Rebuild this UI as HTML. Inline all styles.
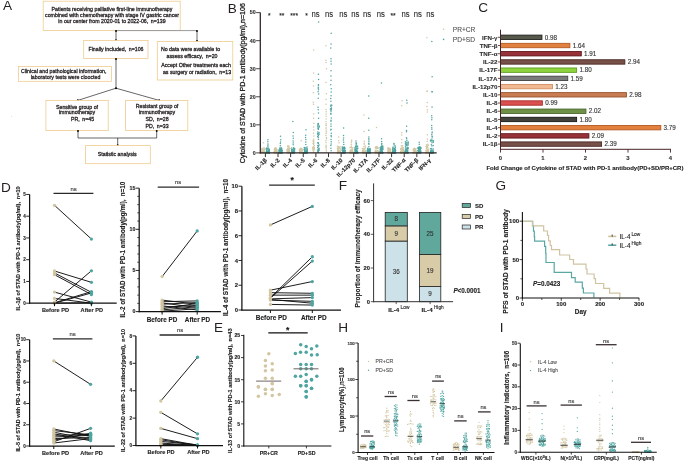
<!DOCTYPE html>
<html><head><meta charset="utf-8"><style>
html,body{margin:0;padding:0;background:#fff;width:685px;height:463px;overflow:hidden}
svg{display:block;font-family:"Liberation Sans",sans-serif;will-change:transform}
</style></head><body>
<svg width="685" height="463" viewBox="0 0 685 463">
<rect width="685" height="463" fill="#fff"/>
<circle cx="11.4" cy="116.3" r="0.4" fill="#aaa"/>
<text x="2.97" y="10.3" font-size="13.6" fill="#231f20">A</text>
<rect x="43.2" y="1.2" width="137" height="29.3" fill="#fff" stroke="#eecb8f" stroke-width="0.8" />
<text x="112" y="10.86" font-size="5.25" text-anchor="middle" font-weight="normal" fill="#231f20"  stroke="#231f20" stroke-width="0.28">Patients receiving palliative first-line immunotherapy</text>
<text x="112" y="17.06" font-size="5.25" text-anchor="middle" font-weight="normal" fill="#231f20"  stroke="#231f20" stroke-width="0.28">combined with chemotherapy with stage IV gastric cancer</text>
<text x="112" y="23.26" font-size="5.25" text-anchor="middle" font-weight="normal" fill="#231f20"  stroke="#231f20" stroke-width="0.28">in our center from 2020-01 to 2022-06, n=139</text>
<line x1="116" y1="30.6" x2="197" y2="30.6" stroke="#9a9a9a" stroke-width="1" />
<line x1="116" y1="30.5" x2="116" y2="40.5" stroke="#000" stroke-width="0.6" />
<line x1="197" y1="30.6" x2="197" y2="41.4" stroke="#000" stroke-width="0.6" />
<circle cx="116" cy="31" r="0.95" fill="#000"/>
<circle cx="116" cy="40.3" r="0.95" fill="#000"/>
<circle cx="197" cy="31" r="0.95" fill="#000"/>
<circle cx="197" cy="41" r="0.95" fill="#000"/>
<rect x="83.7" y="40.5" width="64.3" height="18" fill="#fff" stroke="#eecb8f" stroke-width="0.8" />
<text x="116" y="51.36" font-size="5.25" text-anchor="middle" font-weight="normal" fill="#231f20"  stroke="#231f20" stroke-width="0.28">Finally included, n=106</text>
<rect x="157.3" y="41.4" width="75.5" height="38.6" fill="#fff" stroke="#eecb8f" stroke-width="0.8" />
<text x="190.5" y="50.86" font-size="5.25" text-anchor="middle" font-weight="normal" fill="#231f20"  stroke="#231f20" stroke-width="0.28">No data were available to</text>
<text x="192" y="57.86" font-size="5.25" text-anchor="middle" font-weight="normal" fill="#231f20"  stroke="#231f20" stroke-width="0.28">assess efficacy, n=20</text>
<text x="196" y="67.36" font-size="5.25" text-anchor="middle" font-weight="normal" fill="#231f20"  stroke="#231f20" stroke-width="0.28">Accept Other treatments each</text>
<text x="197" y="74.16" font-size="5.25" text-anchor="middle" font-weight="normal" fill="#231f20"  stroke="#231f20" stroke-width="0.28">as surgery or radiation, n=13</text>
<rect x="18.5" y="66.5" width="93" height="14.8" fill="#fff" stroke="#eecb8f" stroke-width="0.8" />
<text x="65" y="72.96" font-size="5.25" text-anchor="middle" font-weight="normal" fill="#231f20"  stroke="#231f20" stroke-width="0.28">Clinical and pathological information, </text>
<text x="65.5" y="79.26" font-size="5.25" text-anchor="middle" font-weight="normal" fill="#231f20"  stroke="#231f20" stroke-width="0.28">laboratory tests were cloocted</text>
<line x1="116" y1="58.5" x2="116" y2="88.2" stroke="#000" stroke-width="0.6" />
<circle cx="116" cy="59" r="0.95" fill="#000"/>
<line x1="116" y1="88.2" x2="77.8" y2="100.4" stroke="#000" stroke-width="0.6" />
<line x1="116" y1="88.2" x2="159.2" y2="100.4" stroke="#000" stroke-width="0.6" />
<circle cx="116" cy="88.2" r="1" fill="#000"/>
<circle cx="77.8" cy="100.2" r="0.95" fill="#000"/>
<circle cx="159.2" cy="100.2" r="0.95" fill="#000"/>
<rect x="45.9" y="100.4" width="62.3" height="30.2" fill="#fff" stroke="#eecb8f" stroke-width="0.8" />
<text x="77" y="108.56" font-size="5.25" text-anchor="middle" font-weight="normal" fill="#231f20"  stroke="#231f20" stroke-width="0.28">Sensitive group of</text>
<text x="77" y="114.36" font-size="5.25" text-anchor="middle" font-weight="normal" fill="#231f20"  stroke="#231f20" stroke-width="0.28">immunotherapy</text>
<text x="82.5" y="121.16" font-size="5.25" text-anchor="middle" font-weight="normal" fill="#231f20"  stroke="#231f20" stroke-width="0.28">PR, n=45</text>
<rect x="125.6" y="100.4" width="62.2" height="30.2" fill="#fff" stroke="#eecb8f" stroke-width="0.8" />
<text x="157" y="108.16" font-size="5.25" text-anchor="middle" font-weight="normal" fill="#231f20"  stroke="#231f20" stroke-width="0.28">Resistant group of</text>
<text x="157" y="114.16" font-size="5.25" text-anchor="middle" font-weight="normal" fill="#231f20"  stroke="#231f20" stroke-width="0.28">immunotherapy</text>
<text x="157" y="121.16" font-size="5.25" text-anchor="middle" font-weight="normal" fill="#231f20"  stroke="#231f20" stroke-width="0.28">SD, n=28</text>
<text x="157" y="128.16" font-size="5.25" text-anchor="middle" font-weight="normal" fill="#231f20"  stroke="#231f20" stroke-width="0.28">PD, n=33</text>
<polyline points="78,130.6 78,138 156.7,138 156.7,130.6" fill="none" stroke="#000" stroke-width="0.6"/>
<line x1="117.7" y1="138" x2="117.7" y2="145.6" stroke="#000" stroke-width="0.6" />
<circle cx="78" cy="131" r="0.95" fill="#000"/>
<circle cx="156.7" cy="131" r="0.95" fill="#000"/>
<circle cx="117.7" cy="145.3" r="0.95" fill="#000"/>
<rect x="85.6" y="145.6" width="64.7" height="18.1" fill="#fff" stroke="#eecb8f" stroke-width="0.8" />
<text x="117.2" y="156.46" font-size="5.25" text-anchor="middle" font-weight="normal" fill="#231f20"  stroke="#231f20" stroke-width="0.28">Statistic analysis</text>
<text x="227.7" y="12.5" font-size="13.6" fill="#231f20">B</text>
<circle cx="263.1" cy="152.9" r="0.75" fill="#d2c6a2"/>
<circle cx="264.4" cy="152.9" r="0.75" fill="#d2c6a2"/>
<circle cx="261.8" cy="152.9" r="0.75" fill="#d2c6a2"/>
<circle cx="263.55" cy="152.9" r="0.75" fill="#d2c6a2"/>
<circle cx="263.87" cy="152.9" r="0.75" fill="#d2c6a2"/>
<circle cx="261.79" cy="152.86" r="0.75" fill="#d2c6a2"/>
<circle cx="263.23" cy="152.86" r="0.75" fill="#d2c6a2"/>
<circle cx="263.12" cy="152.83" r="0.75" fill="#d2c6a2"/>
<circle cx="264.29" cy="152.82" r="0.75" fill="#d2c6a2"/>
<circle cx="262.66" cy="152.81" r="0.75" fill="#d2c6a2"/>
<circle cx="263.41" cy="152.8" r="0.75" fill="#d2c6a2"/>
<circle cx="261.69" cy="152.77" r="0.75" fill="#d2c6a2"/>
<circle cx="262.74" cy="152.76" r="0.75" fill="#d2c6a2"/>
<circle cx="262.53" cy="152.74" r="0.75" fill="#d2c6a2"/>
<circle cx="261.98" cy="152.72" r="0.75" fill="#d2c6a2"/>
<circle cx="264.11" cy="152.68" r="0.75" fill="#d2c6a2"/>
<circle cx="262.71" cy="152.67" r="0.75" fill="#d2c6a2"/>
<circle cx="264.63" cy="152.52" r="0.75" fill="#d2c6a2"/>
<circle cx="263.39" cy="152.28" r="0.75" fill="#d2c6a2"/>
<circle cx="263.44" cy="152.21" r="0.75" fill="#d2c6a2"/>
<circle cx="263.54" cy="152.2" r="0.75" fill="#d2c6a2"/>
<circle cx="263.66" cy="152.08" r="0.75" fill="#d2c6a2"/>
<circle cx="261.98" cy="152.05" r="0.75" fill="#d2c6a2"/>
<circle cx="262.91" cy="152.02" r="0.75" fill="#d2c6a2"/>
<circle cx="262.27" cy="152" r="0.75" fill="#d2c6a2"/>
<circle cx="262.79" cy="152" r="0.75" fill="#d2c6a2"/>
<circle cx="261.81" cy="151.81" r="0.75" fill="#d2c6a2"/>
<circle cx="264.6" cy="151.49" r="0.75" fill="#d2c6a2"/>
<circle cx="262.19" cy="151.43" r="0.75" fill="#d2c6a2"/>
<circle cx="263.65" cy="151.41" r="0.75" fill="#d2c6a2"/>
<circle cx="262.46" cy="151.39" r="0.75" fill="#d2c6a2"/>
<circle cx="264.3" cy="150.96" r="0.75" fill="#d2c6a2"/>
<circle cx="263.1" cy="150.29" r="0.75" fill="#d2c6a2"/>
<circle cx="261.8" cy="150.14" r="0.75" fill="#d2c6a2"/>
<circle cx="263.62" cy="150.1" r="0.75" fill="#d2c6a2"/>
<circle cx="261.92" cy="149.87" r="0.75" fill="#d2c6a2"/>
<circle cx="264.2" cy="149.79" r="0.75" fill="#d2c6a2"/>
<circle cx="264.52" cy="149.62" r="0.75" fill="#d2c6a2"/>
<circle cx="264.39" cy="149.35" r="0.75" fill="#d2c6a2"/>
<circle cx="263.32" cy="149.27" r="0.75" fill="#d2c6a2"/>
<circle cx="261.97" cy="149.09" r="0.75" fill="#d2c6a2"/>
<circle cx="262.12" cy="148.87" r="0.75" fill="#d2c6a2"/>
<circle cx="263.1" cy="147.99" r="0.75" fill="#d2c6a2"/>
<circle cx="264.4" cy="147.91" r="0.75" fill="#d2c6a2"/>
<circle cx="263.36" cy="142.75" r="0.75" fill="#d2c6a2"/>
<circle cx="267.9" cy="152.9" r="0.75" fill="#4fa5a1"/>
<circle cx="269.2" cy="152.9" r="0.75" fill="#4fa5a1"/>
<circle cx="266.6" cy="152.9" r="0.75" fill="#4fa5a1"/>
<circle cx="269.17" cy="152.9" r="0.75" fill="#4fa5a1"/>
<circle cx="268.68" cy="152.9" r="0.75" fill="#4fa5a1"/>
<circle cx="268.16" cy="152.88" r="0.75" fill="#4fa5a1"/>
<circle cx="267.67" cy="152.87" r="0.75" fill="#4fa5a1"/>
<circle cx="269.11" cy="152.86" r="0.75" fill="#4fa5a1"/>
<circle cx="267.62" cy="152.84" r="0.75" fill="#4fa5a1"/>
<circle cx="269.25" cy="152.84" r="0.75" fill="#4fa5a1"/>
<circle cx="266.52" cy="152.82" r="0.75" fill="#4fa5a1"/>
<circle cx="267.68" cy="152.79" r="0.75" fill="#4fa5a1"/>
<circle cx="267.96" cy="152.78" r="0.75" fill="#4fa5a1"/>
<circle cx="269.34" cy="152.73" r="0.75" fill="#4fa5a1"/>
<circle cx="267.1" cy="152.63" r="0.75" fill="#4fa5a1"/>
<circle cx="268.88" cy="152.59" r="0.75" fill="#4fa5a1"/>
<circle cx="268.46" cy="152.58" r="0.75" fill="#4fa5a1"/>
<circle cx="268.59" cy="152.58" r="0.75" fill="#4fa5a1"/>
<circle cx="268.31" cy="152.56" r="0.75" fill="#4fa5a1"/>
<circle cx="269.41" cy="152.54" r="0.75" fill="#4fa5a1"/>
<circle cx="267.36" cy="152.51" r="0.75" fill="#4fa5a1"/>
<circle cx="267.57" cy="152.5" r="0.75" fill="#4fa5a1"/>
<circle cx="266.95" cy="152.4" r="0.75" fill="#4fa5a1"/>
<circle cx="266.46" cy="152.37" r="0.75" fill="#4fa5a1"/>
<circle cx="266.98" cy="152.34" r="0.75" fill="#4fa5a1"/>
<circle cx="269.23" cy="152.29" r="0.75" fill="#4fa5a1"/>
<circle cx="268.99" cy="152.2" r="0.75" fill="#4fa5a1"/>
<circle cx="266.66" cy="152.01" r="0.75" fill="#4fa5a1"/>
<circle cx="268.23" cy="152" r="0.75" fill="#4fa5a1"/>
<circle cx="267.83" cy="151.98" r="0.75" fill="#4fa5a1"/>
<circle cx="268.2" cy="151.97" r="0.75" fill="#4fa5a1"/>
<circle cx="268.41" cy="151.96" r="0.75" fill="#4fa5a1"/>
<circle cx="267.28" cy="151.84" r="0.75" fill="#4fa5a1"/>
<circle cx="269.38" cy="151.73" r="0.75" fill="#4fa5a1"/>
<circle cx="267.79" cy="151.71" r="0.75" fill="#4fa5a1"/>
<circle cx="268.31" cy="151.62" r="0.75" fill="#4fa5a1"/>
<circle cx="268.33" cy="151.39" r="0.75" fill="#4fa5a1"/>
<circle cx="266.89" cy="151.31" r="0.75" fill="#4fa5a1"/>
<circle cx="266.5" cy="151.2" r="0.75" fill="#4fa5a1"/>
<circle cx="267.62" cy="151.02" r="0.75" fill="#4fa5a1"/>
<circle cx="268.74" cy="150.7" r="0.75" fill="#4fa5a1"/>
<circle cx="268.91" cy="150.5" r="0.75" fill="#4fa5a1"/>
<circle cx="268.64" cy="150.48" r="0.75" fill="#4fa5a1"/>
<circle cx="266.66" cy="150.38" r="0.75" fill="#4fa5a1"/>
<circle cx="269.22" cy="150.14" r="0.75" fill="#4fa5a1"/>
<circle cx="268.87" cy="149.97" r="0.75" fill="#4fa5a1"/>
<circle cx="269.11" cy="149.93" r="0.75" fill="#4fa5a1"/>
<circle cx="267.97" cy="149.35" r="0.75" fill="#4fa5a1"/>
<circle cx="269.23" cy="149.32" r="0.75" fill="#4fa5a1"/>
<circle cx="266.45" cy="149.23" r="0.75" fill="#4fa5a1"/>
<circle cx="266.4" cy="148.96" r="0.75" fill="#4fa5a1"/>
<circle cx="266.36" cy="148.68" r="0.75" fill="#4fa5a1"/>
<circle cx="267.11" cy="148.5" r="0.75" fill="#4fa5a1"/>
<circle cx="267.1" cy="148.46" r="0.75" fill="#4fa5a1"/>
<circle cx="268.55" cy="148.27" r="0.75" fill="#4fa5a1"/>
<circle cx="266.9" cy="148.1" r="0.75" fill="#4fa5a1"/>
<circle cx="267.94" cy="146.83" r="0.75" fill="#4fa5a1"/>
<circle cx="267.95" cy="145.32" r="0.75" fill="#4fa5a1"/>
<circle cx="268.01" cy="144.04" r="0.75" fill="#4fa5a1"/>
<circle cx="267.79" cy="141.87" r="0.75" fill="#4fa5a1"/>
<circle cx="267.92" cy="139.73" r="0.75" fill="#4fa5a1"/>
<circle cx="275.72" cy="152.9" r="0.75" fill="#d2c6a2"/>
<circle cx="277.02" cy="152.9" r="0.75" fill="#d2c6a2"/>
<circle cx="274.42" cy="152.9" r="0.75" fill="#d2c6a2"/>
<circle cx="274.55" cy="152.89" r="0.75" fill="#d2c6a2"/>
<circle cx="276.24" cy="152.89" r="0.75" fill="#d2c6a2"/>
<circle cx="276.78" cy="152.88" r="0.75" fill="#d2c6a2"/>
<circle cx="275.33" cy="152.87" r="0.75" fill="#d2c6a2"/>
<circle cx="275.31" cy="152.85" r="0.75" fill="#d2c6a2"/>
<circle cx="275.85" cy="152.82" r="0.75" fill="#d2c6a2"/>
<circle cx="274.81" cy="152.82" r="0.75" fill="#d2c6a2"/>
<circle cx="274.91" cy="152.8" r="0.75" fill="#d2c6a2"/>
<circle cx="275.18" cy="152.74" r="0.75" fill="#d2c6a2"/>
<circle cx="275.58" cy="152.62" r="0.75" fill="#d2c6a2"/>
<circle cx="274.38" cy="152.61" r="0.75" fill="#d2c6a2"/>
<circle cx="276.53" cy="152.59" r="0.75" fill="#d2c6a2"/>
<circle cx="275.97" cy="152.56" r="0.75" fill="#d2c6a2"/>
<circle cx="275.08" cy="152.45" r="0.75" fill="#d2c6a2"/>
<circle cx="274.37" cy="152.44" r="0.75" fill="#d2c6a2"/>
<circle cx="276.56" cy="152.17" r="0.75" fill="#d2c6a2"/>
<circle cx="274.54" cy="151.64" r="0.75" fill="#d2c6a2"/>
<circle cx="274.55" cy="151.58" r="0.75" fill="#d2c6a2"/>
<circle cx="274.54" cy="151.57" r="0.75" fill="#d2c6a2"/>
<circle cx="274.38" cy="151.35" r="0.75" fill="#d2c6a2"/>
<circle cx="277.02" cy="151.34" r="0.75" fill="#d2c6a2"/>
<circle cx="274.98" cy="151.24" r="0.75" fill="#d2c6a2"/>
<circle cx="275.1" cy="151.2" r="0.75" fill="#d2c6a2"/>
<circle cx="276.78" cy="151.15" r="0.75" fill="#d2c6a2"/>
<circle cx="276.1" cy="151.06" r="0.75" fill="#d2c6a2"/>
<circle cx="274.72" cy="151.02" r="0.75" fill="#d2c6a2"/>
<circle cx="275.51" cy="151.01" r="0.75" fill="#d2c6a2"/>
<circle cx="276.95" cy="150.99" r="0.75" fill="#d2c6a2"/>
<circle cx="275.32" cy="150.49" r="0.75" fill="#d2c6a2"/>
<circle cx="276.39" cy="150.09" r="0.75" fill="#d2c6a2"/>
<circle cx="274.43" cy="149.79" r="0.75" fill="#d2c6a2"/>
<circle cx="276.45" cy="149.78" r="0.75" fill="#d2c6a2"/>
<circle cx="276.6" cy="149.74" r="0.75" fill="#d2c6a2"/>
<circle cx="276.76" cy="149.72" r="0.75" fill="#d2c6a2"/>
<circle cx="276.28" cy="149.51" r="0.75" fill="#d2c6a2"/>
<circle cx="275.31" cy="149.18" r="0.75" fill="#d2c6a2"/>
<circle cx="274.33" cy="149.08" r="0.75" fill="#d2c6a2"/>
<circle cx="275.78" cy="149.02" r="0.75" fill="#d2c6a2"/>
<circle cx="276.54" cy="148.84" r="0.75" fill="#d2c6a2"/>
<circle cx="274.73" cy="148.72" r="0.75" fill="#d2c6a2"/>
<circle cx="274.97" cy="148.06" r="0.75" fill="#d2c6a2"/>
<circle cx="275.84" cy="147.85" r="0.75" fill="#d2c6a2"/>
<circle cx="280.52" cy="152.9" r="0.75" fill="#4fa5a1"/>
<circle cx="281.82" cy="152.9" r="0.75" fill="#4fa5a1"/>
<circle cx="279.22" cy="152.9" r="0.75" fill="#4fa5a1"/>
<circle cx="279.1" cy="152.89" r="0.75" fill="#4fa5a1"/>
<circle cx="282.11" cy="152.88" r="0.75" fill="#4fa5a1"/>
<circle cx="281.76" cy="152.88" r="0.75" fill="#4fa5a1"/>
<circle cx="281.85" cy="152.88" r="0.75" fill="#4fa5a1"/>
<circle cx="279.71" cy="152.87" r="0.75" fill="#4fa5a1"/>
<circle cx="280.18" cy="152.86" r="0.75" fill="#4fa5a1"/>
<circle cx="279.65" cy="152.84" r="0.75" fill="#4fa5a1"/>
<circle cx="279.32" cy="152.84" r="0.75" fill="#4fa5a1"/>
<circle cx="279.03" cy="152.84" r="0.75" fill="#4fa5a1"/>
<circle cx="280.53" cy="152.83" r="0.75" fill="#4fa5a1"/>
<circle cx="279.31" cy="152.8" r="0.75" fill="#4fa5a1"/>
<circle cx="279.48" cy="152.66" r="0.75" fill="#4fa5a1"/>
<circle cx="281.67" cy="152.65" r="0.75" fill="#4fa5a1"/>
<circle cx="280.47" cy="152.5" r="0.75" fill="#4fa5a1"/>
<circle cx="279.51" cy="152.49" r="0.75" fill="#4fa5a1"/>
<circle cx="281.06" cy="152.47" r="0.75" fill="#4fa5a1"/>
<circle cx="279.77" cy="152.47" r="0.75" fill="#4fa5a1"/>
<circle cx="280.61" cy="152.45" r="0.75" fill="#4fa5a1"/>
<circle cx="279.83" cy="152.37" r="0.75" fill="#4fa5a1"/>
<circle cx="280.57" cy="152.29" r="0.75" fill="#4fa5a1"/>
<circle cx="280.93" cy="152.28" r="0.75" fill="#4fa5a1"/>
<circle cx="280.64" cy="152.25" r="0.75" fill="#4fa5a1"/>
<circle cx="280.19" cy="152.18" r="0.75" fill="#4fa5a1"/>
<circle cx="281.45" cy="151.87" r="0.75" fill="#4fa5a1"/>
<circle cx="281.71" cy="151.84" r="0.75" fill="#4fa5a1"/>
<circle cx="279.49" cy="151.7" r="0.75" fill="#4fa5a1"/>
<circle cx="279.36" cy="151.31" r="0.75" fill="#4fa5a1"/>
<circle cx="279.28" cy="151.29" r="0.75" fill="#4fa5a1"/>
<circle cx="280.52" cy="150.81" r="0.75" fill="#4fa5a1"/>
<circle cx="282.05" cy="150.75" r="0.75" fill="#4fa5a1"/>
<circle cx="281.93" cy="150.74" r="0.75" fill="#4fa5a1"/>
<circle cx="279.66" cy="150.74" r="0.75" fill="#4fa5a1"/>
<circle cx="282.02" cy="150.74" r="0.75" fill="#4fa5a1"/>
<circle cx="279.59" cy="150.52" r="0.75" fill="#4fa5a1"/>
<circle cx="280.54" cy="150.51" r="0.75" fill="#4fa5a1"/>
<circle cx="280.51" cy="150.45" r="0.75" fill="#4fa5a1"/>
<circle cx="281.85" cy="150.43" r="0.75" fill="#4fa5a1"/>
<circle cx="279.05" cy="150.42" r="0.75" fill="#4fa5a1"/>
<circle cx="279.93" cy="150.35" r="0.75" fill="#4fa5a1"/>
<circle cx="280.84" cy="150.28" r="0.75" fill="#4fa5a1"/>
<circle cx="279.13" cy="150.08" r="0.75" fill="#4fa5a1"/>
<circle cx="279.68" cy="149.83" r="0.75" fill="#4fa5a1"/>
<circle cx="280.41" cy="149.78" r="0.75" fill="#4fa5a1"/>
<circle cx="281.74" cy="149.66" r="0.75" fill="#4fa5a1"/>
<circle cx="281.36" cy="149.65" r="0.75" fill="#4fa5a1"/>
<circle cx="281.57" cy="149.1" r="0.75" fill="#4fa5a1"/>
<circle cx="281.36" cy="148.9" r="0.75" fill="#4fa5a1"/>
<circle cx="281.18" cy="148.84" r="0.75" fill="#4fa5a1"/>
<circle cx="281.64" cy="148.83" r="0.75" fill="#4fa5a1"/>
<circle cx="279.87" cy="148.61" r="0.75" fill="#4fa5a1"/>
<circle cx="281.1" cy="148.01" r="0.75" fill="#4fa5a1"/>
<circle cx="281.27" cy="147.94" r="0.75" fill="#4fa5a1"/>
<circle cx="279.89" cy="147.89" r="0.75" fill="#4fa5a1"/>
<circle cx="280.32" cy="145.67" r="0.75" fill="#4fa5a1"/>
<circle cx="280.32" cy="143.57" r="0.75" fill="#4fa5a1"/>
<circle cx="280.58" cy="142.1" r="0.75" fill="#4fa5a1"/>
<circle cx="280.78" cy="139.72" r="0.75" fill="#4fa5a1"/>
<circle cx="280.53" cy="136.13" r="0.75" fill="#4fa5a1"/>
<circle cx="288.34" cy="152.9" r="0.75" fill="#d2c6a2"/>
<circle cx="289.64" cy="152.9" r="0.75" fill="#d2c6a2"/>
<circle cx="287.04" cy="152.89" r="0.75" fill="#d2c6a2"/>
<circle cx="288.23" cy="152.89" r="0.75" fill="#d2c6a2"/>
<circle cx="288.73" cy="152.89" r="0.75" fill="#d2c6a2"/>
<circle cx="289.36" cy="152.79" r="0.75" fill="#d2c6a2"/>
<circle cx="288.91" cy="152.79" r="0.75" fill="#d2c6a2"/>
<circle cx="288.79" cy="152.77" r="0.75" fill="#d2c6a2"/>
<circle cx="288.04" cy="152.75" r="0.75" fill="#d2c6a2"/>
<circle cx="288.53" cy="152.62" r="0.75" fill="#d2c6a2"/>
<circle cx="288.01" cy="152.46" r="0.75" fill="#d2c6a2"/>
<circle cx="289.12" cy="152.16" r="0.75" fill="#d2c6a2"/>
<circle cx="287.96" cy="152.13" r="0.75" fill="#d2c6a2"/>
<circle cx="288.23" cy="152.04" r="0.75" fill="#d2c6a2"/>
<circle cx="289.16" cy="151.93" r="0.75" fill="#d2c6a2"/>
<circle cx="288.35" cy="151.93" r="0.75" fill="#d2c6a2"/>
<circle cx="287.82" cy="151.84" r="0.75" fill="#d2c6a2"/>
<circle cx="289.39" cy="151.49" r="0.75" fill="#d2c6a2"/>
<circle cx="287.96" cy="151.29" r="0.75" fill="#d2c6a2"/>
<circle cx="289.44" cy="151.29" r="0.75" fill="#d2c6a2"/>
<circle cx="289.25" cy="151.27" r="0.75" fill="#d2c6a2"/>
<circle cx="288.17" cy="151.24" r="0.75" fill="#d2c6a2"/>
<circle cx="289.02" cy="151.2" r="0.75" fill="#d2c6a2"/>
<circle cx="286.85" cy="151.1" r="0.75" fill="#d2c6a2"/>
<circle cx="287.99" cy="150.95" r="0.75" fill="#d2c6a2"/>
<circle cx="289.49" cy="150.61" r="0.75" fill="#d2c6a2"/>
<circle cx="288.59" cy="150.49" r="0.75" fill="#d2c6a2"/>
<circle cx="288.53" cy="150.23" r="0.75" fill="#d2c6a2"/>
<circle cx="288.87" cy="149.99" r="0.75" fill="#d2c6a2"/>
<circle cx="287.04" cy="149.87" r="0.75" fill="#d2c6a2"/>
<circle cx="288.91" cy="149.82" r="0.75" fill="#d2c6a2"/>
<circle cx="288.61" cy="149.67" r="0.75" fill="#d2c6a2"/>
<circle cx="288.09" cy="149.58" r="0.75" fill="#d2c6a2"/>
<circle cx="287.33" cy="149.55" r="0.75" fill="#d2c6a2"/>
<circle cx="287.68" cy="149.31" r="0.75" fill="#d2c6a2"/>
<circle cx="287.68" cy="149.07" r="0.75" fill="#d2c6a2"/>
<circle cx="289.64" cy="148.63" r="0.75" fill="#d2c6a2"/>
<circle cx="288.12" cy="148.61" r="0.75" fill="#d2c6a2"/>
<circle cx="289.94" cy="148.56" r="0.75" fill="#d2c6a2"/>
<circle cx="287.87" cy="148.16" r="0.75" fill="#d2c6a2"/>
<circle cx="288.99" cy="147.49" r="0.75" fill="#d2c6a2"/>
<circle cx="287.69" cy="146.59" r="0.75" fill="#d2c6a2"/>
<circle cx="288.99" cy="146.26" r="0.75" fill="#d2c6a2"/>
<circle cx="288.17" cy="146.12" r="0.75" fill="#d2c6a2"/>
<circle cx="287.93" cy="145.99" r="0.75" fill="#d2c6a2"/>
<circle cx="293.14" cy="152.9" r="0.75" fill="#4fa5a1"/>
<circle cx="294.44" cy="152.9" r="0.75" fill="#4fa5a1"/>
<circle cx="291.84" cy="152.89" r="0.75" fill="#4fa5a1"/>
<circle cx="293.64" cy="152.89" r="0.75" fill="#4fa5a1"/>
<circle cx="293.53" cy="152.87" r="0.75" fill="#4fa5a1"/>
<circle cx="294" cy="152.82" r="0.75" fill="#4fa5a1"/>
<circle cx="293.94" cy="152.82" r="0.75" fill="#4fa5a1"/>
<circle cx="292.64" cy="152.81" r="0.75" fill="#4fa5a1"/>
<circle cx="292.36" cy="152.81" r="0.75" fill="#4fa5a1"/>
<circle cx="292.94" cy="152.75" r="0.75" fill="#4fa5a1"/>
<circle cx="293.11" cy="152.74" r="0.75" fill="#4fa5a1"/>
<circle cx="291.99" cy="152.73" r="0.75" fill="#4fa5a1"/>
<circle cx="292.95" cy="152.72" r="0.75" fill="#4fa5a1"/>
<circle cx="293.59" cy="152.68" r="0.75" fill="#4fa5a1"/>
<circle cx="291.97" cy="152.64" r="0.75" fill="#4fa5a1"/>
<circle cx="291.98" cy="152.63" r="0.75" fill="#4fa5a1"/>
<circle cx="292.1" cy="152.62" r="0.75" fill="#4fa5a1"/>
<circle cx="292.45" cy="152.61" r="0.75" fill="#4fa5a1"/>
<circle cx="294.62" cy="152.47" r="0.75" fill="#4fa5a1"/>
<circle cx="291.62" cy="152.46" r="0.75" fill="#4fa5a1"/>
<circle cx="292.13" cy="152.46" r="0.75" fill="#4fa5a1"/>
<circle cx="292.07" cy="152.31" r="0.75" fill="#4fa5a1"/>
<circle cx="293.06" cy="152.3" r="0.75" fill="#4fa5a1"/>
<circle cx="291.59" cy="152.22" r="0.75" fill="#4fa5a1"/>
<circle cx="293.01" cy="152.16" r="0.75" fill="#4fa5a1"/>
<circle cx="292.06" cy="152.1" r="0.75" fill="#4fa5a1"/>
<circle cx="292.4" cy="152.08" r="0.75" fill="#4fa5a1"/>
<circle cx="294.08" cy="152.03" r="0.75" fill="#4fa5a1"/>
<circle cx="292.13" cy="152" r="0.75" fill="#4fa5a1"/>
<circle cx="293.51" cy="152" r="0.75" fill="#4fa5a1"/>
<circle cx="292.84" cy="151.85" r="0.75" fill="#4fa5a1"/>
<circle cx="292.88" cy="151.74" r="0.75" fill="#4fa5a1"/>
<circle cx="294.15" cy="151.53" r="0.75" fill="#4fa5a1"/>
<circle cx="292.05" cy="151.2" r="0.75" fill="#4fa5a1"/>
<circle cx="294.5" cy="151.16" r="0.75" fill="#4fa5a1"/>
<circle cx="294.4" cy="151.12" r="0.75" fill="#4fa5a1"/>
<circle cx="293.68" cy="150.82" r="0.75" fill="#4fa5a1"/>
<circle cx="291.7" cy="150.8" r="0.75" fill="#4fa5a1"/>
<circle cx="293.66" cy="150.63" r="0.75" fill="#4fa5a1"/>
<circle cx="293.46" cy="150.6" r="0.75" fill="#4fa5a1"/>
<circle cx="294.01" cy="150.4" r="0.75" fill="#4fa5a1"/>
<circle cx="292.22" cy="150.08" r="0.75" fill="#4fa5a1"/>
<circle cx="294.59" cy="150.07" r="0.75" fill="#4fa5a1"/>
<circle cx="294.38" cy="150.05" r="0.75" fill="#4fa5a1"/>
<circle cx="291.91" cy="150.04" r="0.75" fill="#4fa5a1"/>
<circle cx="292.55" cy="149.58" r="0.75" fill="#4fa5a1"/>
<circle cx="291.64" cy="149.47" r="0.75" fill="#4fa5a1"/>
<circle cx="294.2" cy="149.46" r="0.75" fill="#4fa5a1"/>
<circle cx="294.47" cy="149.03" r="0.75" fill="#4fa5a1"/>
<circle cx="294.71" cy="148.82" r="0.75" fill="#4fa5a1"/>
<circle cx="293.5" cy="148.77" r="0.75" fill="#4fa5a1"/>
<circle cx="293.67" cy="148.34" r="0.75" fill="#4fa5a1"/>
<circle cx="291.84" cy="148.02" r="0.75" fill="#4fa5a1"/>
<circle cx="293.71" cy="147.83" r="0.75" fill="#4fa5a1"/>
<circle cx="293.18" cy="144.66" r="0.75" fill="#4fa5a1"/>
<circle cx="293.2" cy="142.94" r="0.75" fill="#4fa5a1"/>
<circle cx="293.15" cy="140.96" r="0.75" fill="#4fa5a1"/>
<circle cx="293.27" cy="138.15" r="0.75" fill="#4fa5a1"/>
<circle cx="293.09" cy="136.05" r="0.75" fill="#4fa5a1"/>
<circle cx="293.29" cy="132.55" r="0.75" fill="#4fa5a1"/>
<circle cx="292.89" cy="121.5" r="0.75" fill="#4fa5a1"/>
<circle cx="300.96" cy="152.9" r="0.75" fill="#d2c6a2"/>
<circle cx="302.26" cy="152.9" r="0.75" fill="#d2c6a2"/>
<circle cx="299.66" cy="152.9" r="0.75" fill="#d2c6a2"/>
<circle cx="302.44" cy="152.89" r="0.75" fill="#d2c6a2"/>
<circle cx="301.64" cy="152.88" r="0.75" fill="#d2c6a2"/>
<circle cx="300.02" cy="152.87" r="0.75" fill="#d2c6a2"/>
<circle cx="301.7" cy="152.86" r="0.75" fill="#d2c6a2"/>
<circle cx="300.25" cy="152.83" r="0.75" fill="#d2c6a2"/>
<circle cx="300.86" cy="152.8" r="0.75" fill="#d2c6a2"/>
<circle cx="302.11" cy="152.75" r="0.75" fill="#d2c6a2"/>
<circle cx="300.79" cy="152.72" r="0.75" fill="#d2c6a2"/>
<circle cx="300.28" cy="152.72" r="0.75" fill="#d2c6a2"/>
<circle cx="300.34" cy="152.71" r="0.75" fill="#d2c6a2"/>
<circle cx="299.61" cy="152.7" r="0.75" fill="#d2c6a2"/>
<circle cx="300.06" cy="152.67" r="0.75" fill="#d2c6a2"/>
<circle cx="300.23" cy="152.65" r="0.75" fill="#d2c6a2"/>
<circle cx="299.91" cy="152.63" r="0.75" fill="#d2c6a2"/>
<circle cx="299.56" cy="152.45" r="0.75" fill="#d2c6a2"/>
<circle cx="300.85" cy="152.42" r="0.75" fill="#d2c6a2"/>
<circle cx="300.05" cy="152.37" r="0.75" fill="#d2c6a2"/>
<circle cx="301.72" cy="152.21" r="0.75" fill="#d2c6a2"/>
<circle cx="302.31" cy="152.18" r="0.75" fill="#d2c6a2"/>
<circle cx="300.23" cy="151.9" r="0.75" fill="#d2c6a2"/>
<circle cx="301.19" cy="151.71" r="0.75" fill="#d2c6a2"/>
<circle cx="300.98" cy="151.36" r="0.75" fill="#d2c6a2"/>
<circle cx="299.6" cy="151.22" r="0.75" fill="#d2c6a2"/>
<circle cx="299.76" cy="151.17" r="0.75" fill="#d2c6a2"/>
<circle cx="302.26" cy="150.84" r="0.75" fill="#d2c6a2"/>
<circle cx="302.19" cy="150.79" r="0.75" fill="#d2c6a2"/>
<circle cx="300.88" cy="150.69" r="0.75" fill="#d2c6a2"/>
<circle cx="301.93" cy="150.66" r="0.75" fill="#d2c6a2"/>
<circle cx="299.57" cy="150.47" r="0.75" fill="#d2c6a2"/>
<circle cx="301.26" cy="150.33" r="0.75" fill="#d2c6a2"/>
<circle cx="302.13" cy="150.17" r="0.75" fill="#d2c6a2"/>
<circle cx="302.13" cy="150.11" r="0.75" fill="#d2c6a2"/>
<circle cx="299.38" cy="149.89" r="0.75" fill="#d2c6a2"/>
<circle cx="301.03" cy="149.76" r="0.75" fill="#d2c6a2"/>
<circle cx="300.54" cy="149.6" r="0.75" fill="#d2c6a2"/>
<circle cx="301.79" cy="149.26" r="0.75" fill="#d2c6a2"/>
<circle cx="299.59" cy="149.18" r="0.75" fill="#d2c6a2"/>
<circle cx="300.21" cy="149.08" r="0.75" fill="#d2c6a2"/>
<circle cx="301.96" cy="148.65" r="0.75" fill="#d2c6a2"/>
<circle cx="300.86" cy="148.28" r="0.75" fill="#d2c6a2"/>
<circle cx="300.81" cy="148.13" r="0.75" fill="#d2c6a2"/>
<circle cx="301.24" cy="140.71" r="0.75" fill="#d2c6a2"/>
<circle cx="305.76" cy="152.9" r="0.75" fill="#4fa5a1"/>
<circle cx="307.06" cy="152.9" r="0.75" fill="#4fa5a1"/>
<circle cx="304.46" cy="152.89" r="0.75" fill="#4fa5a1"/>
<circle cx="306.66" cy="152.89" r="0.75" fill="#4fa5a1"/>
<circle cx="304.2" cy="152.88" r="0.75" fill="#4fa5a1"/>
<circle cx="306.95" cy="152.88" r="0.75" fill="#4fa5a1"/>
<circle cx="304.68" cy="152.88" r="0.75" fill="#4fa5a1"/>
<circle cx="305.62" cy="152.87" r="0.75" fill="#4fa5a1"/>
<circle cx="306.28" cy="152.86" r="0.75" fill="#4fa5a1"/>
<circle cx="305.79" cy="152.85" r="0.75" fill="#4fa5a1"/>
<circle cx="304.69" cy="152.84" r="0.75" fill="#4fa5a1"/>
<circle cx="304.61" cy="152.84" r="0.75" fill="#4fa5a1"/>
<circle cx="305.07" cy="152.83" r="0.75" fill="#4fa5a1"/>
<circle cx="304.33" cy="152.81" r="0.75" fill="#4fa5a1"/>
<circle cx="304.85" cy="152.81" r="0.75" fill="#4fa5a1"/>
<circle cx="304.58" cy="152.73" r="0.75" fill="#4fa5a1"/>
<circle cx="305.65" cy="152.69" r="0.75" fill="#4fa5a1"/>
<circle cx="305.3" cy="152.6" r="0.75" fill="#4fa5a1"/>
<circle cx="306.04" cy="152.57" r="0.75" fill="#4fa5a1"/>
<circle cx="305.06" cy="152.55" r="0.75" fill="#4fa5a1"/>
<circle cx="304.27" cy="152.49" r="0.75" fill="#4fa5a1"/>
<circle cx="305.22" cy="152.43" r="0.75" fill="#4fa5a1"/>
<circle cx="306.58" cy="152.36" r="0.75" fill="#4fa5a1"/>
<circle cx="304.98" cy="152.32" r="0.75" fill="#4fa5a1"/>
<circle cx="305.45" cy="152.18" r="0.75" fill="#4fa5a1"/>
<circle cx="306.58" cy="152.04" r="0.75" fill="#4fa5a1"/>
<circle cx="305.46" cy="151.95" r="0.75" fill="#4fa5a1"/>
<circle cx="307" cy="151.93" r="0.75" fill="#4fa5a1"/>
<circle cx="307.1" cy="151.75" r="0.75" fill="#4fa5a1"/>
<circle cx="305.15" cy="151.65" r="0.75" fill="#4fa5a1"/>
<circle cx="306.52" cy="151.63" r="0.75" fill="#4fa5a1"/>
<circle cx="304.97" cy="151.59" r="0.75" fill="#4fa5a1"/>
<circle cx="304.61" cy="151.54" r="0.75" fill="#4fa5a1"/>
<circle cx="305.56" cy="151.48" r="0.75" fill="#4fa5a1"/>
<circle cx="306.09" cy="151.46" r="0.75" fill="#4fa5a1"/>
<circle cx="307.15" cy="151.41" r="0.75" fill="#4fa5a1"/>
<circle cx="304.63" cy="151.38" r="0.75" fill="#4fa5a1"/>
<circle cx="306.44" cy="151.34" r="0.75" fill="#4fa5a1"/>
<circle cx="305.68" cy="151.12" r="0.75" fill="#4fa5a1"/>
<circle cx="304.58" cy="150.91" r="0.75" fill="#4fa5a1"/>
<circle cx="307.27" cy="150.58" r="0.75" fill="#4fa5a1"/>
<circle cx="306.39" cy="150.14" r="0.75" fill="#4fa5a1"/>
<circle cx="304.57" cy="150.02" r="0.75" fill="#4fa5a1"/>
<circle cx="307.06" cy="149.97" r="0.75" fill="#4fa5a1"/>
<circle cx="304.49" cy="149.96" r="0.75" fill="#4fa5a1"/>
<circle cx="304.46" cy="149.41" r="0.75" fill="#4fa5a1"/>
<circle cx="305.22" cy="149.35" r="0.75" fill="#4fa5a1"/>
<circle cx="307.16" cy="149.25" r="0.75" fill="#4fa5a1"/>
<circle cx="304.27" cy="149.24" r="0.75" fill="#4fa5a1"/>
<circle cx="307.1" cy="148.86" r="0.75" fill="#4fa5a1"/>
<circle cx="305.76" cy="148.07" r="0.75" fill="#4fa5a1"/>
<circle cx="304.46" cy="147.91" r="0.75" fill="#4fa5a1"/>
<circle cx="306.12" cy="147.88" r="0.75" fill="#4fa5a1"/>
<circle cx="304.37" cy="147.44" r="0.75" fill="#4fa5a1"/>
<circle cx="307.06" cy="147.01" r="0.75" fill="#4fa5a1"/>
<circle cx="305.8" cy="144.52" r="0.75" fill="#4fa5a1"/>
<circle cx="305.8" cy="142.04" r="0.75" fill="#4fa5a1"/>
<circle cx="305.87" cy="139.57" r="0.75" fill="#4fa5a1"/>
<circle cx="305.55" cy="137.48" r="0.75" fill="#4fa5a1"/>
<circle cx="305.71" cy="135.26" r="0.75" fill="#4fa5a1"/>
<circle cx="306" cy="129.76" r="0.75" fill="#4fa5a1"/>
<circle cx="313.58" cy="152.13" r="0.75" fill="#d2c6a2"/>
<circle cx="313.38" cy="151.13" r="0.75" fill="#d2c6a2"/>
<circle cx="314.23" cy="149.99" r="0.75" fill="#d2c6a2"/>
<circle cx="312.93" cy="149.95" r="0.75" fill="#d2c6a2"/>
<circle cx="313.3" cy="149.54" r="0.75" fill="#d2c6a2"/>
<circle cx="313.8" cy="149.39" r="0.75" fill="#d2c6a2"/>
<circle cx="313.08" cy="149.06" r="0.75" fill="#d2c6a2"/>
<circle cx="314.23" cy="148.19" r="0.75" fill="#d2c6a2"/>
<circle cx="312.95" cy="148.17" r="0.75" fill="#d2c6a2"/>
<circle cx="313.9" cy="148.02" r="0.75" fill="#d2c6a2"/>
<circle cx="313.99" cy="147.77" r="0.75" fill="#d2c6a2"/>
<circle cx="313.25" cy="147.43" r="0.75" fill="#d2c6a2"/>
<circle cx="313.8" cy="147.24" r="0.75" fill="#d2c6a2"/>
<circle cx="312.83" cy="147.18" r="0.75" fill="#d2c6a2"/>
<circle cx="313.43" cy="146.95" r="0.75" fill="#d2c6a2"/>
<circle cx="314.23" cy="145.77" r="0.75" fill="#d2c6a2"/>
<circle cx="313.58" cy="144.42" r="0.75" fill="#d2c6a2"/>
<circle cx="313.7" cy="143.38" r="0.75" fill="#d2c6a2"/>
<circle cx="313.19" cy="143.35" r="0.75" fill="#d2c6a2"/>
<circle cx="313.34" cy="143.29" r="0.75" fill="#d2c6a2"/>
<circle cx="313.76" cy="142.77" r="0.75" fill="#d2c6a2"/>
<circle cx="313.58" cy="141.03" r="0.75" fill="#d2c6a2"/>
<circle cx="313.72" cy="141" r="0.75" fill="#d2c6a2"/>
<circle cx="313.03" cy="140.96" r="0.75" fill="#d2c6a2"/>
<circle cx="313.7" cy="139.22" r="0.75" fill="#d2c6a2"/>
<circle cx="313.86" cy="136.03" r="0.75" fill="#d2c6a2"/>
<circle cx="313.43" cy="133.23" r="0.75" fill="#d2c6a2"/>
<circle cx="313.87" cy="130.07" r="0.75" fill="#d2c6a2"/>
<circle cx="313.64" cy="126.95" r="0.75" fill="#d2c6a2"/>
<circle cx="313.85" cy="123.26" r="0.75" fill="#d2c6a2"/>
<circle cx="313.59" cy="118.3" r="0.75" fill="#d2c6a2"/>
<circle cx="313.7" cy="114.03" r="0.75" fill="#d2c6a2"/>
<circle cx="313.48" cy="104.21" r="0.75" fill="#d2c6a2"/>
<circle cx="313.3" cy="102.35" r="0.75" fill="#d2c6a2"/>
<circle cx="313.33" cy="92.82" r="0.75" fill="#d2c6a2"/>
<circle cx="313.48" cy="85.92" r="0.75" fill="#d2c6a2"/>
<circle cx="313.3" cy="81.27" r="0.75" fill="#d2c6a2"/>
<circle cx="313.54" cy="72.9" r="0.75" fill="#d2c6a2"/>
<circle cx="313.71" cy="50.05" r="0.75" fill="#d2c6a2"/>
<circle cx="318.38" cy="152.45" r="0.75" fill="#4fa5a1"/>
<circle cx="318.22" cy="152.14" r="0.75" fill="#4fa5a1"/>
<circle cx="318.08" cy="152.06" r="0.75" fill="#4fa5a1"/>
<circle cx="318.39" cy="151.84" r="0.75" fill="#4fa5a1"/>
<circle cx="317.59" cy="150.89" r="0.75" fill="#4fa5a1"/>
<circle cx="319.03" cy="150.3" r="0.75" fill="#4fa5a1"/>
<circle cx="318.29" cy="150.1" r="0.75" fill="#4fa5a1"/>
<circle cx="317.9" cy="149.89" r="0.75" fill="#4fa5a1"/>
<circle cx="318.72" cy="149.88" r="0.75" fill="#4fa5a1"/>
<circle cx="318.38" cy="149.11" r="0.75" fill="#4fa5a1"/>
<circle cx="318.97" cy="149.02" r="0.75" fill="#4fa5a1"/>
<circle cx="319.01" cy="148.22" r="0.75" fill="#4fa5a1"/>
<circle cx="317.73" cy="147.58" r="0.75" fill="#4fa5a1"/>
<circle cx="318.38" cy="146.32" r="0.75" fill="#4fa5a1"/>
<circle cx="318.09" cy="145.57" r="0.75" fill="#4fa5a1"/>
<circle cx="318.03" cy="145.54" r="0.75" fill="#4fa5a1"/>
<circle cx="319.08" cy="145.08" r="0.75" fill="#4fa5a1"/>
<circle cx="318.38" cy="143.35" r="0.75" fill="#4fa5a1"/>
<circle cx="318.39" cy="142.9" r="0.75" fill="#4fa5a1"/>
<circle cx="317.73" cy="142.83" r="0.75" fill="#4fa5a1"/>
<circle cx="318.38" cy="139.32" r="0.75" fill="#4fa5a1"/>
<circle cx="318.38" cy="137.32" r="0.75" fill="#4fa5a1"/>
<circle cx="317.65" cy="136.47" r="0.75" fill="#4fa5a1"/>
<circle cx="318.38" cy="135.38" r="0.75" fill="#4fa5a1"/>
<circle cx="319.16" cy="134.35" r="0.75" fill="#4fa5a1"/>
<circle cx="317.73" cy="133.89" r="0.75" fill="#4fa5a1"/>
<circle cx="318.51" cy="133.81" r="0.75" fill="#4fa5a1"/>
<circle cx="317.67" cy="133.66" r="0.75" fill="#4fa5a1"/>
<circle cx="319.03" cy="132.59" r="0.75" fill="#4fa5a1"/>
<circle cx="317.73" cy="132.09" r="0.75" fill="#4fa5a1"/>
<circle cx="318.38" cy="129.28" r="0.75" fill="#4fa5a1"/>
<circle cx="318.4" cy="129" r="0.75" fill="#4fa5a1"/>
<circle cx="318.39" cy="128.52" r="0.75" fill="#4fa5a1"/>
<circle cx="318.28" cy="128.37" r="0.75" fill="#4fa5a1"/>
<circle cx="319.03" cy="127.34" r="0.75" fill="#4fa5a1"/>
<circle cx="317.73" cy="126.9" r="0.75" fill="#4fa5a1"/>
<circle cx="319.1" cy="126.16" r="0.75" fill="#4fa5a1"/>
<circle cx="319.1" cy="125.95" r="0.75" fill="#4fa5a1"/>
<circle cx="317.78" cy="125.79" r="0.75" fill="#4fa5a1"/>
<circle cx="318.38" cy="124.31" r="0.75" fill="#4fa5a1"/>
<circle cx="317.82" cy="124.05" r="0.75" fill="#4fa5a1"/>
<circle cx="318.23" cy="123.55" r="0.75" fill="#4fa5a1"/>
<circle cx="318.58" cy="118.28" r="0.75" fill="#4fa5a1"/>
<circle cx="318.52" cy="112.99" r="0.75" fill="#4fa5a1"/>
<circle cx="318.21" cy="109.7" r="0.75" fill="#4fa5a1"/>
<circle cx="318.09" cy="107.28" r="0.75" fill="#4fa5a1"/>
<circle cx="318.2" cy="98.21" r="0.75" fill="#4fa5a1"/>
<circle cx="318.67" cy="93.94" r="0.75" fill="#4fa5a1"/>
<circle cx="318.11" cy="91.79" r="0.75" fill="#4fa5a1"/>
<circle cx="318.48" cy="89.86" r="0.75" fill="#4fa5a1"/>
<circle cx="318.23" cy="88.21" r="0.75" fill="#4fa5a1"/>
<circle cx="318.4" cy="87.34" r="0.75" fill="#4fa5a1"/>
<circle cx="318.38" cy="85.17" r="0.75" fill="#4fa5a1"/>
<circle cx="318.47" cy="84.71" r="0.75" fill="#4fa5a1"/>
<circle cx="318.62" cy="79.56" r="0.75" fill="#4fa5a1"/>
<circle cx="318.38" cy="74.36" r="0.75" fill="#4fa5a1"/>
<circle cx="318.6" cy="22.04" r="0.75" fill="#4fa5a1"/>
<circle cx="326.38" cy="152.24" r="0.75" fill="#d2c6a2"/>
<circle cx="326.33" cy="150.79" r="0.75" fill="#d2c6a2"/>
<circle cx="326.26" cy="148.89" r="0.75" fill="#d2c6a2"/>
<circle cx="325.93" cy="147.59" r="0.75" fill="#d2c6a2"/>
<circle cx="326.23" cy="146.55" r="0.75" fill="#d2c6a2"/>
<circle cx="326.11" cy="145.13" r="0.75" fill="#d2c6a2"/>
<circle cx="326.06" cy="142.69" r="0.75" fill="#d2c6a2"/>
<circle cx="325.96" cy="140.69" r="0.75" fill="#d2c6a2"/>
<circle cx="326.48" cy="138.75" r="0.75" fill="#d2c6a2"/>
<circle cx="326.43" cy="137.49" r="0.75" fill="#d2c6a2"/>
<circle cx="326.01" cy="135.39" r="0.75" fill="#d2c6a2"/>
<circle cx="326.02" cy="133.51" r="0.75" fill="#d2c6a2"/>
<circle cx="326.43" cy="132.03" r="0.75" fill="#d2c6a2"/>
<circle cx="326.21" cy="130.98" r="0.75" fill="#d2c6a2"/>
<circle cx="326.21" cy="128.94" r="0.75" fill="#d2c6a2"/>
<circle cx="325.98" cy="127.68" r="0.75" fill="#d2c6a2"/>
<circle cx="326.38" cy="125.61" r="0.75" fill="#d2c6a2"/>
<circle cx="325.99" cy="125.25" r="0.75" fill="#d2c6a2"/>
<circle cx="326.06" cy="123.74" r="0.75" fill="#d2c6a2"/>
<circle cx="326.01" cy="121.68" r="0.75" fill="#d2c6a2"/>
<circle cx="326.15" cy="119.01" r="0.75" fill="#d2c6a2"/>
<circle cx="326.02" cy="116.28" r="0.75" fill="#d2c6a2"/>
<circle cx="326.07" cy="113.98" r="0.75" fill="#d2c6a2"/>
<circle cx="326.18" cy="111.87" r="0.75" fill="#d2c6a2"/>
<circle cx="326.05" cy="109.5" r="0.75" fill="#d2c6a2"/>
<circle cx="326.09" cy="104.3" r="0.75" fill="#d2c6a2"/>
<circle cx="326.14" cy="99.3" r="0.75" fill="#d2c6a2"/>
<circle cx="326.43" cy="93.83" r="0.75" fill="#d2c6a2"/>
<circle cx="325.96" cy="82.49" r="0.75" fill="#d2c6a2"/>
<circle cx="326.49" cy="68.84" r="0.75" fill="#d2c6a2"/>
<circle cx="326.08" cy="62.44" r="0.75" fill="#d2c6a2"/>
<circle cx="325.91" cy="60.31" r="0.75" fill="#d2c6a2"/>
<circle cx="326.03" cy="45.78" r="0.75" fill="#d2c6a2"/>
<circle cx="331" cy="114.05" r="0.75" fill="#4fa5a1"/>
<circle cx="330.82" cy="113.71" r="0.75" fill="#4fa5a1"/>
<circle cx="331" cy="111.64" r="0.75" fill="#4fa5a1"/>
<circle cx="331" cy="110.37" r="0.75" fill="#4fa5a1"/>
<circle cx="331.02" cy="109.87" r="0.75" fill="#4fa5a1"/>
<circle cx="330.38" cy="109.07" r="0.75" fill="#4fa5a1"/>
<circle cx="331.1" cy="108.83" r="0.75" fill="#4fa5a1"/>
<circle cx="331.43" cy="108.48" r="0.75" fill="#4fa5a1"/>
<circle cx="331.37" cy="108.06" r="0.75" fill="#4fa5a1"/>
<circle cx="331" cy="106.04" r="0.75" fill="#4fa5a1"/>
<circle cx="330.61" cy="105.97" r="0.75" fill="#4fa5a1"/>
<circle cx="331.79" cy="105.36" r="0.75" fill="#4fa5a1"/>
<circle cx="331.13" cy="150.72" r="0.75" fill="#4fa5a1"/>
<circle cx="330.95" cy="148.18" r="0.75" fill="#4fa5a1"/>
<circle cx="330.81" cy="145.49" r="0.75" fill="#4fa5a1"/>
<circle cx="331.13" cy="143.91" r="0.75" fill="#4fa5a1"/>
<circle cx="331.22" cy="141.7" r="0.75" fill="#4fa5a1"/>
<circle cx="330.98" cy="139.61" r="0.75" fill="#4fa5a1"/>
<circle cx="331.25" cy="136.78" r="0.75" fill="#4fa5a1"/>
<circle cx="331.12" cy="135.58" r="0.75" fill="#4fa5a1"/>
<circle cx="331.26" cy="133.16" r="0.75" fill="#4fa5a1"/>
<circle cx="330.72" cy="130.04" r="0.75" fill="#4fa5a1"/>
<circle cx="331.06" cy="129.13" r="0.75" fill="#4fa5a1"/>
<circle cx="331" cy="126.34" r="0.75" fill="#4fa5a1"/>
<circle cx="331.03" cy="123.98" r="0.75" fill="#4fa5a1"/>
<circle cx="330.92" cy="121.36" r="0.75" fill="#4fa5a1"/>
<circle cx="331.06" cy="120.36" r="0.75" fill="#4fa5a1"/>
<circle cx="331.26" cy="117.97" r="0.75" fill="#4fa5a1"/>
<circle cx="331.04" cy="105.05" r="0.75" fill="#4fa5a1"/>
<circle cx="330.92" cy="101.16" r="0.75" fill="#4fa5a1"/>
<circle cx="330.77" cy="98.43" r="0.75" fill="#4fa5a1"/>
<circle cx="331.09" cy="95.83" r="0.75" fill="#4fa5a1"/>
<circle cx="331.17" cy="91.91" r="0.75" fill="#4fa5a1"/>
<circle cx="331.24" cy="88.71" r="0.75" fill="#4fa5a1"/>
<circle cx="330.77" cy="84.78" r="0.75" fill="#4fa5a1"/>
<circle cx="330.97" cy="80.24" r="0.75" fill="#4fa5a1"/>
<circle cx="331.01" cy="75.91" r="0.75" fill="#4fa5a1"/>
<circle cx="331.03" cy="70.76" r="0.75" fill="#4fa5a1"/>
<circle cx="331.21" cy="64.04" r="0.75" fill="#4fa5a1"/>
<circle cx="331.06" cy="61.3" r="0.75" fill="#4fa5a1"/>
<circle cx="330.98" cy="58.67" r="0.75" fill="#4fa5a1"/>
<circle cx="330.76" cy="47.92" r="0.75" fill="#4fa5a1"/>
<circle cx="331.05" cy="43.98" r="0.75" fill="#4fa5a1"/>
<circle cx="331.17" cy="33.33" r="0.75" fill="#4fa5a1"/>
<circle cx="338.82" cy="152.9" r="0.75" fill="#d2c6a2"/>
<circle cx="340.12" cy="152.9" r="0.75" fill="#d2c6a2"/>
<circle cx="337.52" cy="152.9" r="0.75" fill="#d2c6a2"/>
<circle cx="338.85" cy="152.89" r="0.75" fill="#d2c6a2"/>
<circle cx="337.5" cy="152.87" r="0.75" fill="#d2c6a2"/>
<circle cx="339.74" cy="152.8" r="0.75" fill="#d2c6a2"/>
<circle cx="337.43" cy="152.79" r="0.75" fill="#d2c6a2"/>
<circle cx="340.31" cy="152.67" r="0.75" fill="#d2c6a2"/>
<circle cx="340.03" cy="152.63" r="0.75" fill="#d2c6a2"/>
<circle cx="338.19" cy="152.61" r="0.75" fill="#d2c6a2"/>
<circle cx="337.63" cy="152.59" r="0.75" fill="#d2c6a2"/>
<circle cx="340.05" cy="152.51" r="0.75" fill="#d2c6a2"/>
<circle cx="338.76" cy="152.46" r="0.75" fill="#d2c6a2"/>
<circle cx="337.62" cy="152.38" r="0.75" fill="#d2c6a2"/>
<circle cx="338.82" cy="152.29" r="0.75" fill="#d2c6a2"/>
<circle cx="338.01" cy="152.19" r="0.75" fill="#d2c6a2"/>
<circle cx="338.53" cy="152.04" r="0.75" fill="#d2c6a2"/>
<circle cx="339.27" cy="151.92" r="0.75" fill="#d2c6a2"/>
<circle cx="340.15" cy="151.87" r="0.75" fill="#d2c6a2"/>
<circle cx="339.78" cy="151.79" r="0.75" fill="#d2c6a2"/>
<circle cx="337.74" cy="151.62" r="0.75" fill="#d2c6a2"/>
<circle cx="338.75" cy="151.36" r="0.75" fill="#d2c6a2"/>
<circle cx="338.79" cy="151.11" r="0.75" fill="#d2c6a2"/>
<circle cx="340.39" cy="151.07" r="0.75" fill="#d2c6a2"/>
<circle cx="337.5" cy="151.04" r="0.75" fill="#d2c6a2"/>
<circle cx="338.85" cy="150.98" r="0.75" fill="#d2c6a2"/>
<circle cx="340.15" cy="150.89" r="0.75" fill="#d2c6a2"/>
<circle cx="338.5" cy="150.85" r="0.75" fill="#d2c6a2"/>
<circle cx="338.06" cy="150.72" r="0.75" fill="#d2c6a2"/>
<circle cx="339" cy="150.47" r="0.75" fill="#d2c6a2"/>
<circle cx="338.24" cy="149.95" r="0.75" fill="#d2c6a2"/>
<circle cx="340.19" cy="149.84" r="0.75" fill="#d2c6a2"/>
<circle cx="337.49" cy="149.32" r="0.75" fill="#d2c6a2"/>
<circle cx="338.82" cy="148.62" r="0.75" fill="#d2c6a2"/>
<circle cx="340.12" cy="148.57" r="0.75" fill="#d2c6a2"/>
<circle cx="337.88" cy="148.4" r="0.75" fill="#d2c6a2"/>
<circle cx="337.49" cy="148.16" r="0.75" fill="#d2c6a2"/>
<circle cx="339.5" cy="147.66" r="0.75" fill="#d2c6a2"/>
<circle cx="338.16" cy="147.57" r="0.75" fill="#d2c6a2"/>
<circle cx="340.1" cy="146.83" r="0.75" fill="#d2c6a2"/>
<circle cx="338.82" cy="146.49" r="0.75" fill="#d2c6a2"/>
<circle cx="337.52" cy="146.28" r="0.75" fill="#d2c6a2"/>
<circle cx="339.06" cy="142.71" r="0.75" fill="#d2c6a2"/>
<circle cx="338.67" cy="140.69" r="0.75" fill="#d2c6a2"/>
<circle cx="338.75" cy="137.08" r="0.75" fill="#d2c6a2"/>
<circle cx="343.62" cy="152.9" r="0.75" fill="#4fa5a1"/>
<circle cx="344.92" cy="152.9" r="0.75" fill="#4fa5a1"/>
<circle cx="342.32" cy="152.9" r="0.75" fill="#4fa5a1"/>
<circle cx="342.07" cy="152.9" r="0.75" fill="#4fa5a1"/>
<circle cx="344.5" cy="152.9" r="0.75" fill="#4fa5a1"/>
<circle cx="342.58" cy="152.9" r="0.75" fill="#4fa5a1"/>
<circle cx="343.49" cy="152.89" r="0.75" fill="#4fa5a1"/>
<circle cx="343.69" cy="152.89" r="0.75" fill="#4fa5a1"/>
<circle cx="343.99" cy="152.89" r="0.75" fill="#4fa5a1"/>
<circle cx="345.19" cy="152.87" r="0.75" fill="#4fa5a1"/>
<circle cx="344.22" cy="152.87" r="0.75" fill="#4fa5a1"/>
<circle cx="343.28" cy="152.87" r="0.75" fill="#4fa5a1"/>
<circle cx="344.31" cy="152.84" r="0.75" fill="#4fa5a1"/>
<circle cx="343.51" cy="152.83" r="0.75" fill="#4fa5a1"/>
<circle cx="343.34" cy="152.76" r="0.75" fill="#4fa5a1"/>
<circle cx="343.19" cy="152.68" r="0.75" fill="#4fa5a1"/>
<circle cx="343.6" cy="152.58" r="0.75" fill="#4fa5a1"/>
<circle cx="342.92" cy="152.52" r="0.75" fill="#4fa5a1"/>
<circle cx="342.79" cy="152.49" r="0.75" fill="#4fa5a1"/>
<circle cx="342.5" cy="152.47" r="0.75" fill="#4fa5a1"/>
<circle cx="343.43" cy="152.41" r="0.75" fill="#4fa5a1"/>
<circle cx="342.96" cy="152.32" r="0.75" fill="#4fa5a1"/>
<circle cx="344.7" cy="151.93" r="0.75" fill="#4fa5a1"/>
<circle cx="344.73" cy="151.91" r="0.75" fill="#4fa5a1"/>
<circle cx="343.12" cy="151.81" r="0.75" fill="#4fa5a1"/>
<circle cx="344" cy="151.75" r="0.75" fill="#4fa5a1"/>
<circle cx="344.91" cy="151.67" r="0.75" fill="#4fa5a1"/>
<circle cx="343.17" cy="151.6" r="0.75" fill="#4fa5a1"/>
<circle cx="343.8" cy="151.35" r="0.75" fill="#4fa5a1"/>
<circle cx="343.44" cy="151.22" r="0.75" fill="#4fa5a1"/>
<circle cx="344.1" cy="150.92" r="0.75" fill="#4fa5a1"/>
<circle cx="345.09" cy="150.8" r="0.75" fill="#4fa5a1"/>
<circle cx="342.32" cy="150.55" r="0.75" fill="#4fa5a1"/>
<circle cx="342.46" cy="150.5" r="0.75" fill="#4fa5a1"/>
<circle cx="345.11" cy="150.43" r="0.75" fill="#4fa5a1"/>
<circle cx="344.15" cy="150.4" r="0.75" fill="#4fa5a1"/>
<circle cx="344.57" cy="150.32" r="0.75" fill="#4fa5a1"/>
<circle cx="344.05" cy="150.27" r="0.75" fill="#4fa5a1"/>
<circle cx="344.81" cy="150.24" r="0.75" fill="#4fa5a1"/>
<circle cx="343.06" cy="150.24" r="0.75" fill="#4fa5a1"/>
<circle cx="344.29" cy="149.98" r="0.75" fill="#4fa5a1"/>
<circle cx="342.32" cy="149.14" r="0.75" fill="#4fa5a1"/>
<circle cx="343.62" cy="148.88" r="0.75" fill="#4fa5a1"/>
<circle cx="344.92" cy="148.55" r="0.75" fill="#4fa5a1"/>
<circle cx="342.87" cy="148.45" r="0.75" fill="#4fa5a1"/>
<circle cx="343.65" cy="148.26" r="0.75" fill="#4fa5a1"/>
<circle cx="344.2" cy="148.21" r="0.75" fill="#4fa5a1"/>
<circle cx="342.66" cy="148.2" r="0.75" fill="#4fa5a1"/>
<circle cx="342.22" cy="147.92" r="0.75" fill="#4fa5a1"/>
<circle cx="344.55" cy="147.89" r="0.75" fill="#4fa5a1"/>
<circle cx="344.61" cy="147.77" r="0.75" fill="#4fa5a1"/>
<circle cx="344.15" cy="147.49" r="0.75" fill="#4fa5a1"/>
<circle cx="343.05" cy="147.42" r="0.75" fill="#4fa5a1"/>
<circle cx="344.13" cy="147.07" r="0.75" fill="#4fa5a1"/>
<circle cx="342.29" cy="147.02" r="0.75" fill="#4fa5a1"/>
<circle cx="343.72" cy="144.42" r="0.75" fill="#4fa5a1"/>
<circle cx="343.69" cy="142.28" r="0.75" fill="#4fa5a1"/>
<circle cx="343.46" cy="140.08" r="0.75" fill="#4fa5a1"/>
<circle cx="343.6" cy="138.1" r="0.75" fill="#4fa5a1"/>
<circle cx="343.54" cy="135.57" r="0.75" fill="#4fa5a1"/>
<circle cx="343.65" cy="128.1" r="0.75" fill="#4fa5a1"/>
<circle cx="351.44" cy="152.9" r="0.75" fill="#d2c6a2"/>
<circle cx="352.74" cy="152.9" r="0.75" fill="#d2c6a2"/>
<circle cx="350.14" cy="152.89" r="0.75" fill="#d2c6a2"/>
<circle cx="350.29" cy="152.88" r="0.75" fill="#d2c6a2"/>
<circle cx="351.7" cy="152.87" r="0.75" fill="#d2c6a2"/>
<circle cx="351.22" cy="152.87" r="0.75" fill="#d2c6a2"/>
<circle cx="350.76" cy="152.87" r="0.75" fill="#d2c6a2"/>
<circle cx="352.47" cy="152.76" r="0.75" fill="#d2c6a2"/>
<circle cx="352.23" cy="152.69" r="0.75" fill="#d2c6a2"/>
<circle cx="350.27" cy="152.65" r="0.75" fill="#d2c6a2"/>
<circle cx="350.78" cy="152.54" r="0.75" fill="#d2c6a2"/>
<circle cx="352.46" cy="152.53" r="0.75" fill="#d2c6a2"/>
<circle cx="353.02" cy="152.46" r="0.75" fill="#d2c6a2"/>
<circle cx="351.8" cy="152.43" r="0.75" fill="#d2c6a2"/>
<circle cx="352.63" cy="152.4" r="0.75" fill="#d2c6a2"/>
<circle cx="352.99" cy="152.4" r="0.75" fill="#d2c6a2"/>
<circle cx="352.21" cy="152.34" r="0.75" fill="#d2c6a2"/>
<circle cx="351.9" cy="152.32" r="0.75" fill="#d2c6a2"/>
<circle cx="350.55" cy="152.31" r="0.75" fill="#d2c6a2"/>
<circle cx="351.03" cy="151.97" r="0.75" fill="#d2c6a2"/>
<circle cx="351.84" cy="151.81" r="0.75" fill="#d2c6a2"/>
<circle cx="352.8" cy="151.77" r="0.75" fill="#d2c6a2"/>
<circle cx="350.81" cy="151.75" r="0.75" fill="#d2c6a2"/>
<circle cx="351.1" cy="151.55" r="0.75" fill="#d2c6a2"/>
<circle cx="349.91" cy="151.33" r="0.75" fill="#d2c6a2"/>
<circle cx="352.07" cy="150.98" r="0.75" fill="#d2c6a2"/>
<circle cx="351.26" cy="150.87" r="0.75" fill="#d2c6a2"/>
<circle cx="352.39" cy="150.72" r="0.75" fill="#d2c6a2"/>
<circle cx="350.59" cy="150.55" r="0.75" fill="#d2c6a2"/>
<circle cx="351.95" cy="150.35" r="0.75" fill="#d2c6a2"/>
<circle cx="351.99" cy="150.34" r="0.75" fill="#d2c6a2"/>
<circle cx="351.33" cy="150.18" r="0.75" fill="#d2c6a2"/>
<circle cx="350.44" cy="150.15" r="0.75" fill="#d2c6a2"/>
<circle cx="351.13" cy="149.99" r="0.75" fill="#d2c6a2"/>
<circle cx="352.74" cy="149.32" r="0.75" fill="#d2c6a2"/>
<circle cx="352.22" cy="149.09" r="0.75" fill="#d2c6a2"/>
<circle cx="351.44" cy="147.75" r="0.75" fill="#d2c6a2"/>
<circle cx="352.74" cy="147.69" r="0.75" fill="#d2c6a2"/>
<circle cx="350.14" cy="147.67" r="0.75" fill="#d2c6a2"/>
<circle cx="350.45" cy="147.22" r="0.75" fill="#d2c6a2"/>
<circle cx="351.44" cy="146.13" r="0.75" fill="#d2c6a2"/>
<circle cx="351.19" cy="144.51" r="0.75" fill="#d2c6a2"/>
<circle cx="351.28" cy="142.83" r="0.75" fill="#d2c6a2"/>
<circle cx="351.63" cy="141.3" r="0.75" fill="#d2c6a2"/>
<circle cx="351.64" cy="140.15" r="0.75" fill="#d2c6a2"/>
<circle cx="356.24" cy="152.9" r="0.75" fill="#4fa5a1"/>
<circle cx="357.54" cy="152.89" r="0.75" fill="#4fa5a1"/>
<circle cx="354.94" cy="152.89" r="0.75" fill="#4fa5a1"/>
<circle cx="357.66" cy="152.88" r="0.75" fill="#4fa5a1"/>
<circle cx="355.72" cy="152.88" r="0.75" fill="#4fa5a1"/>
<circle cx="355.25" cy="152.86" r="0.75" fill="#4fa5a1"/>
<circle cx="354.97" cy="152.85" r="0.75" fill="#4fa5a1"/>
<circle cx="356.73" cy="152.84" r="0.75" fill="#4fa5a1"/>
<circle cx="356.12" cy="152.84" r="0.75" fill="#4fa5a1"/>
<circle cx="354.68" cy="152.81" r="0.75" fill="#4fa5a1"/>
<circle cx="356.93" cy="152.8" r="0.75" fill="#4fa5a1"/>
<circle cx="355.46" cy="152.8" r="0.75" fill="#4fa5a1"/>
<circle cx="357.14" cy="152.77" r="0.75" fill="#4fa5a1"/>
<circle cx="356.2" cy="152.75" r="0.75" fill="#4fa5a1"/>
<circle cx="356.35" cy="152.6" r="0.75" fill="#4fa5a1"/>
<circle cx="356.1" cy="152.58" r="0.75" fill="#4fa5a1"/>
<circle cx="356.8" cy="152.57" r="0.75" fill="#4fa5a1"/>
<circle cx="357.81" cy="152.52" r="0.75" fill="#4fa5a1"/>
<circle cx="357.19" cy="152.49" r="0.75" fill="#4fa5a1"/>
<circle cx="354.86" cy="152.48" r="0.75" fill="#4fa5a1"/>
<circle cx="356.22" cy="152.45" r="0.75" fill="#4fa5a1"/>
<circle cx="355.39" cy="152.43" r="0.75" fill="#4fa5a1"/>
<circle cx="354.97" cy="152.38" r="0.75" fill="#4fa5a1"/>
<circle cx="355.26" cy="152.28" r="0.75" fill="#4fa5a1"/>
<circle cx="355.43" cy="152.22" r="0.75" fill="#4fa5a1"/>
<circle cx="357.71" cy="152.16" r="0.75" fill="#4fa5a1"/>
<circle cx="357.02" cy="152.13" r="0.75" fill="#4fa5a1"/>
<circle cx="357.37" cy="152.07" r="0.75" fill="#4fa5a1"/>
<circle cx="356.88" cy="151.79" r="0.75" fill="#4fa5a1"/>
<circle cx="355.65" cy="151.71" r="0.75" fill="#4fa5a1"/>
<circle cx="355.89" cy="151.69" r="0.75" fill="#4fa5a1"/>
<circle cx="356.05" cy="151.69" r="0.75" fill="#4fa5a1"/>
<circle cx="355.58" cy="151.64" r="0.75" fill="#4fa5a1"/>
<circle cx="355.99" cy="151.51" r="0.75" fill="#4fa5a1"/>
<circle cx="357.11" cy="151.39" r="0.75" fill="#4fa5a1"/>
<circle cx="354.88" cy="150.64" r="0.75" fill="#4fa5a1"/>
<circle cx="355.53" cy="150.4" r="0.75" fill="#4fa5a1"/>
<circle cx="356.17" cy="150.32" r="0.75" fill="#4fa5a1"/>
<circle cx="356.8" cy="150.31" r="0.75" fill="#4fa5a1"/>
<circle cx="356.71" cy="150.15" r="0.75" fill="#4fa5a1"/>
<circle cx="356.96" cy="149.9" r="0.75" fill="#4fa5a1"/>
<circle cx="354.98" cy="149.83" r="0.75" fill="#4fa5a1"/>
<circle cx="355.22" cy="149.62" r="0.75" fill="#4fa5a1"/>
<circle cx="355.63" cy="149.49" r="0.75" fill="#4fa5a1"/>
<circle cx="355.54" cy="149" r="0.75" fill="#4fa5a1"/>
<circle cx="356.89" cy="148.67" r="0.75" fill="#4fa5a1"/>
<circle cx="357.06" cy="148.58" r="0.75" fill="#4fa5a1"/>
<circle cx="357.82" cy="148.28" r="0.75" fill="#4fa5a1"/>
<circle cx="356.83" cy="148.26" r="0.75" fill="#4fa5a1"/>
<circle cx="354.75" cy="148.08" r="0.75" fill="#4fa5a1"/>
<circle cx="355.59" cy="147.19" r="0.75" fill="#4fa5a1"/>
<circle cx="356.89" cy="146.93" r="0.75" fill="#4fa5a1"/>
<circle cx="355.59" cy="146.75" r="0.75" fill="#4fa5a1"/>
<circle cx="357.21" cy="146.49" r="0.75" fill="#4fa5a1"/>
<circle cx="357.6" cy="146.17" r="0.75" fill="#4fa5a1"/>
<circle cx="356.54" cy="146.09" r="0.75" fill="#4fa5a1"/>
<circle cx="355.76" cy="146.05" r="0.75" fill="#4fa5a1"/>
<circle cx="356.15" cy="144.37" r="0.75" fill="#4fa5a1"/>
<circle cx="356.46" cy="143.49" r="0.75" fill="#4fa5a1"/>
<circle cx="356.05" cy="142.66" r="0.75" fill="#4fa5a1"/>
<circle cx="356.02" cy="141.1" r="0.75" fill="#4fa5a1"/>
<circle cx="364.06" cy="152.9" r="0.75" fill="#d2c6a2"/>
<circle cx="365.36" cy="152.9" r="0.75" fill="#d2c6a2"/>
<circle cx="362.76" cy="152.89" r="0.75" fill="#d2c6a2"/>
<circle cx="365.21" cy="152.89" r="0.75" fill="#d2c6a2"/>
<circle cx="365.01" cy="152.89" r="0.75" fill="#d2c6a2"/>
<circle cx="365.22" cy="152.89" r="0.75" fill="#d2c6a2"/>
<circle cx="364.03" cy="152.88" r="0.75" fill="#d2c6a2"/>
<circle cx="365.16" cy="152.81" r="0.75" fill="#d2c6a2"/>
<circle cx="363.94" cy="152.81" r="0.75" fill="#d2c6a2"/>
<circle cx="363.3" cy="152.79" r="0.75" fill="#d2c6a2"/>
<circle cx="364" cy="152.76" r="0.75" fill="#d2c6a2"/>
<circle cx="363.53" cy="152.73" r="0.75" fill="#d2c6a2"/>
<circle cx="364.91" cy="152.67" r="0.75" fill="#d2c6a2"/>
<circle cx="365.12" cy="152.6" r="0.75" fill="#d2c6a2"/>
<circle cx="362.91" cy="152.53" r="0.75" fill="#d2c6a2"/>
<circle cx="362.99" cy="152.53" r="0.75" fill="#d2c6a2"/>
<circle cx="363.69" cy="152.4" r="0.75" fill="#d2c6a2"/>
<circle cx="363.94" cy="152.39" r="0.75" fill="#d2c6a2"/>
<circle cx="365.52" cy="152.25" r="0.75" fill="#d2c6a2"/>
<circle cx="365.47" cy="152.19" r="0.75" fill="#d2c6a2"/>
<circle cx="365.55" cy="152.08" r="0.75" fill="#d2c6a2"/>
<circle cx="364.8" cy="152.01" r="0.75" fill="#d2c6a2"/>
<circle cx="364.63" cy="151.93" r="0.75" fill="#d2c6a2"/>
<circle cx="363.33" cy="151.53" r="0.75" fill="#d2c6a2"/>
<circle cx="363.65" cy="151.52" r="0.75" fill="#d2c6a2"/>
<circle cx="362.47" cy="151.47" r="0.75" fill="#d2c6a2"/>
<circle cx="365.36" cy="150.84" r="0.75" fill="#d2c6a2"/>
<circle cx="365.13" cy="150.72" r="0.75" fill="#d2c6a2"/>
<circle cx="363.34" cy="150.55" r="0.75" fill="#d2c6a2"/>
<circle cx="362.71" cy="150.51" r="0.75" fill="#d2c6a2"/>
<circle cx="363.47" cy="150.25" r="0.75" fill="#d2c6a2"/>
<circle cx="363.49" cy="149.94" r="0.75" fill="#d2c6a2"/>
<circle cx="364.71" cy="149.03" r="0.75" fill="#d2c6a2"/>
<circle cx="362.76" cy="148.87" r="0.75" fill="#d2c6a2"/>
<circle cx="364.78" cy="148.75" r="0.75" fill="#d2c6a2"/>
<circle cx="362.48" cy="148.66" r="0.75" fill="#d2c6a2"/>
<circle cx="363.2" cy="148.18" r="0.75" fill="#d2c6a2"/>
<circle cx="365.33" cy="147.75" r="0.75" fill="#d2c6a2"/>
<circle cx="364.06" cy="146.49" r="0.75" fill="#d2c6a2"/>
<circle cx="365.36" cy="146.05" r="0.75" fill="#d2c6a2"/>
<circle cx="364.27" cy="144.37" r="0.75" fill="#d2c6a2"/>
<circle cx="364.1" cy="143.31" r="0.75" fill="#d2c6a2"/>
<circle cx="364.29" cy="141.18" r="0.75" fill="#d2c6a2"/>
<circle cx="364.07" cy="131.58" r="0.75" fill="#d2c6a2"/>
<circle cx="363.89" cy="115.12" r="0.75" fill="#d2c6a2"/>
<circle cx="368.86" cy="152.9" r="0.75" fill="#4fa5a1"/>
<circle cx="370.16" cy="152.9" r="0.75" fill="#4fa5a1"/>
<circle cx="367.56" cy="152.9" r="0.75" fill="#4fa5a1"/>
<circle cx="368.92" cy="152.89" r="0.75" fill="#4fa5a1"/>
<circle cx="368.92" cy="152.87" r="0.75" fill="#4fa5a1"/>
<circle cx="368.05" cy="152.87" r="0.75" fill="#4fa5a1"/>
<circle cx="368.11" cy="152.84" r="0.75" fill="#4fa5a1"/>
<circle cx="368.42" cy="152.83" r="0.75" fill="#4fa5a1"/>
<circle cx="369.76" cy="152.8" r="0.75" fill="#4fa5a1"/>
<circle cx="368.66" cy="152.8" r="0.75" fill="#4fa5a1"/>
<circle cx="367.38" cy="152.72" r="0.75" fill="#4fa5a1"/>
<circle cx="368.71" cy="152.7" r="0.75" fill="#4fa5a1"/>
<circle cx="367.9" cy="152.69" r="0.75" fill="#4fa5a1"/>
<circle cx="367.3" cy="152.67" r="0.75" fill="#4fa5a1"/>
<circle cx="370.39" cy="152.66" r="0.75" fill="#4fa5a1"/>
<circle cx="368.2" cy="152.63" r="0.75" fill="#4fa5a1"/>
<circle cx="368.98" cy="152.5" r="0.75" fill="#4fa5a1"/>
<circle cx="368.41" cy="152.5" r="0.75" fill="#4fa5a1"/>
<circle cx="367.43" cy="152.46" r="0.75" fill="#4fa5a1"/>
<circle cx="370.14" cy="152.35" r="0.75" fill="#4fa5a1"/>
<circle cx="370.25" cy="152.32" r="0.75" fill="#4fa5a1"/>
<circle cx="367.86" cy="152.27" r="0.75" fill="#4fa5a1"/>
<circle cx="368.6" cy="152.23" r="0.75" fill="#4fa5a1"/>
<circle cx="368.46" cy="152.1" r="0.75" fill="#4fa5a1"/>
<circle cx="367.8" cy="152.03" r="0.75" fill="#4fa5a1"/>
<circle cx="369.38" cy="151.98" r="0.75" fill="#4fa5a1"/>
<circle cx="369.76" cy="151.96" r="0.75" fill="#4fa5a1"/>
<circle cx="369.69" cy="151.76" r="0.75" fill="#4fa5a1"/>
<circle cx="369.42" cy="151.66" r="0.75" fill="#4fa5a1"/>
<circle cx="367.32" cy="151.54" r="0.75" fill="#4fa5a1"/>
<circle cx="367.99" cy="151.49" r="0.75" fill="#4fa5a1"/>
<circle cx="368.91" cy="151.22" r="0.75" fill="#4fa5a1"/>
<circle cx="369.51" cy="150.88" r="0.75" fill="#4fa5a1"/>
<circle cx="368.5" cy="150.69" r="0.75" fill="#4fa5a1"/>
<circle cx="368.7" cy="150.56" r="0.75" fill="#4fa5a1"/>
<circle cx="369.95" cy="150.55" r="0.75" fill="#4fa5a1"/>
<circle cx="367.34" cy="150.43" r="0.75" fill="#4fa5a1"/>
<circle cx="368.12" cy="150.26" r="0.75" fill="#4fa5a1"/>
<circle cx="368.19" cy="150.13" r="0.75" fill="#4fa5a1"/>
<circle cx="370.44" cy="150.05" r="0.75" fill="#4fa5a1"/>
<circle cx="367.99" cy="149.99" r="0.75" fill="#4fa5a1"/>
<circle cx="367.41" cy="149.9" r="0.75" fill="#4fa5a1"/>
<circle cx="368.59" cy="149.89" r="0.75" fill="#4fa5a1"/>
<circle cx="369.34" cy="149.75" r="0.75" fill="#4fa5a1"/>
<circle cx="367.75" cy="149.6" r="0.75" fill="#4fa5a1"/>
<circle cx="369.95" cy="149.55" r="0.75" fill="#4fa5a1"/>
<circle cx="367.89" cy="149.28" r="0.75" fill="#4fa5a1"/>
<circle cx="369.51" cy="149.03" r="0.75" fill="#4fa5a1"/>
<circle cx="367.78" cy="148.83" r="0.75" fill="#4fa5a1"/>
<circle cx="370.08" cy="148.47" r="0.75" fill="#4fa5a1"/>
<circle cx="367.9" cy="148.32" r="0.75" fill="#4fa5a1"/>
<circle cx="368.86" cy="146.83" r="0.75" fill="#4fa5a1"/>
<circle cx="369" cy="144.2" r="0.75" fill="#4fa5a1"/>
<circle cx="368.71" cy="143.42" r="0.75" fill="#4fa5a1"/>
<circle cx="368.91" cy="141.68" r="0.75" fill="#4fa5a1"/>
<circle cx="368.85" cy="140.04" r="0.75" fill="#4fa5a1"/>
<circle cx="368.84" cy="138.87" r="0.75" fill="#4fa5a1"/>
<circle cx="368.85" cy="136.94" r="0.75" fill="#4fa5a1"/>
<circle cx="368.8" cy="130.18" r="0.75" fill="#4fa5a1"/>
<circle cx="368.74" cy="118.3" r="0.75" fill="#4fa5a1"/>
<circle cx="368.71" cy="95.98" r="0.75" fill="#4fa5a1"/>
<circle cx="376.68" cy="152.9" r="0.75" fill="#d2c6a2"/>
<circle cx="377.98" cy="152.9" r="0.75" fill="#d2c6a2"/>
<circle cx="375.38" cy="152.9" r="0.75" fill="#d2c6a2"/>
<circle cx="376.26" cy="152.89" r="0.75" fill="#d2c6a2"/>
<circle cx="377.77" cy="152.89" r="0.75" fill="#d2c6a2"/>
<circle cx="377.63" cy="152.89" r="0.75" fill="#d2c6a2"/>
<circle cx="376.12" cy="152.89" r="0.75" fill="#d2c6a2"/>
<circle cx="377.79" cy="152.88" r="0.75" fill="#d2c6a2"/>
<circle cx="378.05" cy="152.88" r="0.75" fill="#d2c6a2"/>
<circle cx="377.06" cy="152.79" r="0.75" fill="#d2c6a2"/>
<circle cx="376.21" cy="152.79" r="0.75" fill="#d2c6a2"/>
<circle cx="377.96" cy="152.79" r="0.75" fill="#d2c6a2"/>
<circle cx="378.1" cy="152.75" r="0.75" fill="#d2c6a2"/>
<circle cx="376.19" cy="152.74" r="0.75" fill="#d2c6a2"/>
<circle cx="375.36" cy="152.73" r="0.75" fill="#d2c6a2"/>
<circle cx="377.86" cy="152.66" r="0.75" fill="#d2c6a2"/>
<circle cx="377.21" cy="152.57" r="0.75" fill="#d2c6a2"/>
<circle cx="375.82" cy="152.54" r="0.75" fill="#d2c6a2"/>
<circle cx="376.89" cy="152.38" r="0.75" fill="#d2c6a2"/>
<circle cx="376.07" cy="152.3" r="0.75" fill="#d2c6a2"/>
<circle cx="378.02" cy="152.24" r="0.75" fill="#d2c6a2"/>
<circle cx="376.17" cy="152.21" r="0.75" fill="#d2c6a2"/>
<circle cx="375.71" cy="152.15" r="0.75" fill="#d2c6a2"/>
<circle cx="375.22" cy="152.05" r="0.75" fill="#d2c6a2"/>
<circle cx="376.18" cy="152.05" r="0.75" fill="#d2c6a2"/>
<circle cx="378.25" cy="151.79" r="0.75" fill="#d2c6a2"/>
<circle cx="375.78" cy="151.78" r="0.75" fill="#d2c6a2"/>
<circle cx="376.55" cy="151.63" r="0.75" fill="#d2c6a2"/>
<circle cx="378.19" cy="151.2" r="0.75" fill="#d2c6a2"/>
<circle cx="375.1" cy="151.14" r="0.75" fill="#d2c6a2"/>
<circle cx="376.02" cy="150.6" r="0.75" fill="#d2c6a2"/>
<circle cx="377.71" cy="150.48" r="0.75" fill="#d2c6a2"/>
<circle cx="375.39" cy="150.36" r="0.75" fill="#d2c6a2"/>
<circle cx="376.68" cy="148.78" r="0.75" fill="#d2c6a2"/>
<circle cx="377.98" cy="148.45" r="0.75" fill="#d2c6a2"/>
<circle cx="375.38" cy="147.99" r="0.75" fill="#d2c6a2"/>
<circle cx="378.05" cy="147.91" r="0.75" fill="#d2c6a2"/>
<circle cx="377.75" cy="147.78" r="0.75" fill="#d2c6a2"/>
<circle cx="375.54" cy="147.72" r="0.75" fill="#d2c6a2"/>
<circle cx="376.98" cy="147.21" r="0.75" fill="#d2c6a2"/>
<circle cx="376.86" cy="147.09" r="0.75" fill="#d2c6a2"/>
<circle cx="377.3" cy="146.98" r="0.75" fill="#d2c6a2"/>
<circle cx="376.06" cy="146.83" r="0.75" fill="#d2c6a2"/>
<circle cx="376.31" cy="146.64" r="0.75" fill="#d2c6a2"/>
<circle cx="376.52" cy="127.54" r="0.75" fill="#d2c6a2"/>
<circle cx="381.48" cy="152.9" r="0.75" fill="#4fa5a1"/>
<circle cx="382.78" cy="152.9" r="0.75" fill="#4fa5a1"/>
<circle cx="380.18" cy="152.89" r="0.75" fill="#4fa5a1"/>
<circle cx="380.28" cy="152.88" r="0.75" fill="#4fa5a1"/>
<circle cx="382.51" cy="152.88" r="0.75" fill="#4fa5a1"/>
<circle cx="381.27" cy="152.82" r="0.75" fill="#4fa5a1"/>
<circle cx="382.16" cy="152.77" r="0.75" fill="#4fa5a1"/>
<circle cx="382.53" cy="152.71" r="0.75" fill="#4fa5a1"/>
<circle cx="381.6" cy="152.65" r="0.75" fill="#4fa5a1"/>
<circle cx="380.04" cy="152.64" r="0.75" fill="#4fa5a1"/>
<circle cx="382.51" cy="152.61" r="0.75" fill="#4fa5a1"/>
<circle cx="382.1" cy="152.6" r="0.75" fill="#4fa5a1"/>
<circle cx="382.79" cy="152.5" r="0.75" fill="#4fa5a1"/>
<circle cx="380.74" cy="152.5" r="0.75" fill="#4fa5a1"/>
<circle cx="382.39" cy="152.47" r="0.75" fill="#4fa5a1"/>
<circle cx="382.67" cy="152.44" r="0.75" fill="#4fa5a1"/>
<circle cx="381.02" cy="152.42" r="0.75" fill="#4fa5a1"/>
<circle cx="381.19" cy="152.41" r="0.75" fill="#4fa5a1"/>
<circle cx="380.95" cy="152.32" r="0.75" fill="#4fa5a1"/>
<circle cx="379.9" cy="152.08" r="0.75" fill="#4fa5a1"/>
<circle cx="380.62" cy="151.95" r="0.75" fill="#4fa5a1"/>
<circle cx="380.94" cy="151.92" r="0.75" fill="#4fa5a1"/>
<circle cx="380.23" cy="151.8" r="0.75" fill="#4fa5a1"/>
<circle cx="382.33" cy="151.61" r="0.75" fill="#4fa5a1"/>
<circle cx="381.25" cy="151.54" r="0.75" fill="#4fa5a1"/>
<circle cx="381.7" cy="151.54" r="0.75" fill="#4fa5a1"/>
<circle cx="380.79" cy="151.51" r="0.75" fill="#4fa5a1"/>
<circle cx="381.03" cy="151.21" r="0.75" fill="#4fa5a1"/>
<circle cx="382.29" cy="150.99" r="0.75" fill="#4fa5a1"/>
<circle cx="381.38" cy="150.7" r="0.75" fill="#4fa5a1"/>
<circle cx="380.18" cy="150.19" r="0.75" fill="#4fa5a1"/>
<circle cx="381.79" cy="150.01" r="0.75" fill="#4fa5a1"/>
<circle cx="381.23" cy="149.92" r="0.75" fill="#4fa5a1"/>
<circle cx="381.66" cy="149.77" r="0.75" fill="#4fa5a1"/>
<circle cx="382.75" cy="149.73" r="0.75" fill="#4fa5a1"/>
<circle cx="380.74" cy="149.58" r="0.75" fill="#4fa5a1"/>
<circle cx="381.54" cy="149.24" r="0.75" fill="#4fa5a1"/>
<circle cx="382.08" cy="149.2" r="0.75" fill="#4fa5a1"/>
<circle cx="380.16" cy="148.9" r="0.75" fill="#4fa5a1"/>
<circle cx="382.96" cy="148.89" r="0.75" fill="#4fa5a1"/>
<circle cx="381.48" cy="148.86" r="0.75" fill="#4fa5a1"/>
<circle cx="380.67" cy="148.55" r="0.75" fill="#4fa5a1"/>
<circle cx="382.31" cy="148.52" r="0.75" fill="#4fa5a1"/>
<circle cx="382.49" cy="148.48" r="0.75" fill="#4fa5a1"/>
<circle cx="381.9" cy="147.76" r="0.75" fill="#4fa5a1"/>
<circle cx="382.81" cy="147.65" r="0.75" fill="#4fa5a1"/>
<circle cx="380.16" cy="147.62" r="0.75" fill="#4fa5a1"/>
<circle cx="381.57" cy="147.5" r="0.75" fill="#4fa5a1"/>
<circle cx="382.26" cy="146.89" r="0.75" fill="#4fa5a1"/>
<circle cx="382.81" cy="146.86" r="0.75" fill="#4fa5a1"/>
<circle cx="381.93" cy="146.84" r="0.75" fill="#4fa5a1"/>
<circle cx="381.81" cy="146.5" r="0.75" fill="#4fa5a1"/>
<circle cx="381.12" cy="146.48" r="0.75" fill="#4fa5a1"/>
<circle cx="381.71" cy="146.33" r="0.75" fill="#4fa5a1"/>
<circle cx="381.66" cy="146.29" r="0.75" fill="#4fa5a1"/>
<circle cx="382.78" cy="146.04" r="0.75" fill="#4fa5a1"/>
<circle cx="381.68" cy="144.28" r="0.75" fill="#4fa5a1"/>
<circle cx="381.73" cy="143.44" r="0.75" fill="#4fa5a1"/>
<circle cx="381.64" cy="141.43" r="0.75" fill="#4fa5a1"/>
<circle cx="381.63" cy="138.76" r="0.75" fill="#4fa5a1"/>
<circle cx="381.46" cy="83.04" r="0.75" fill="#4fa5a1"/>
<circle cx="389.3" cy="152.9" r="0.75" fill="#d2c6a2"/>
<circle cx="390.6" cy="152.9" r="0.75" fill="#d2c6a2"/>
<circle cx="388" cy="152.87" r="0.75" fill="#d2c6a2"/>
<circle cx="389.78" cy="152.86" r="0.75" fill="#d2c6a2"/>
<circle cx="390.82" cy="152.86" r="0.75" fill="#d2c6a2"/>
<circle cx="390.53" cy="152.85" r="0.75" fill="#d2c6a2"/>
<circle cx="389.73" cy="152.84" r="0.75" fill="#d2c6a2"/>
<circle cx="390.57" cy="152.83" r="0.75" fill="#d2c6a2"/>
<circle cx="389.12" cy="152.76" r="0.75" fill="#d2c6a2"/>
<circle cx="390.26" cy="152.74" r="0.75" fill="#d2c6a2"/>
<circle cx="388.61" cy="152.73" r="0.75" fill="#d2c6a2"/>
<circle cx="389.39" cy="152.71" r="0.75" fill="#d2c6a2"/>
<circle cx="390.84" cy="152.69" r="0.75" fill="#d2c6a2"/>
<circle cx="389.62" cy="152.65" r="0.75" fill="#d2c6a2"/>
<circle cx="389.32" cy="152.62" r="0.75" fill="#d2c6a2"/>
<circle cx="390.22" cy="152.62" r="0.75" fill="#d2c6a2"/>
<circle cx="388.7" cy="152.44" r="0.75" fill="#d2c6a2"/>
<circle cx="390.36" cy="152.4" r="0.75" fill="#d2c6a2"/>
<circle cx="387.76" cy="152.38" r="0.75" fill="#d2c6a2"/>
<circle cx="388.46" cy="152.15" r="0.75" fill="#d2c6a2"/>
<circle cx="388.27" cy="152.03" r="0.75" fill="#d2c6a2"/>
<circle cx="388.52" cy="151.99" r="0.75" fill="#d2c6a2"/>
<circle cx="390.73" cy="151.94" r="0.75" fill="#d2c6a2"/>
<circle cx="387.78" cy="151.9" r="0.75" fill="#d2c6a2"/>
<circle cx="388.66" cy="151.9" r="0.75" fill="#d2c6a2"/>
<circle cx="389.54" cy="151.87" r="0.75" fill="#d2c6a2"/>
<circle cx="389.95" cy="151.57" r="0.75" fill="#d2c6a2"/>
<circle cx="390.18" cy="151.37" r="0.75" fill="#d2c6a2"/>
<circle cx="388.93" cy="151" r="0.75" fill="#d2c6a2"/>
<circle cx="388.4" cy="150.85" r="0.75" fill="#d2c6a2"/>
<circle cx="390.43" cy="150.49" r="0.75" fill="#d2c6a2"/>
<circle cx="388.09" cy="150.06" r="0.75" fill="#d2c6a2"/>
<circle cx="387.91" cy="150.02" r="0.75" fill="#d2c6a2"/>
<circle cx="388.44" cy="149.93" r="0.75" fill="#d2c6a2"/>
<circle cx="389.28" cy="149.83" r="0.75" fill="#d2c6a2"/>
<circle cx="390.71" cy="149.71" r="0.75" fill="#d2c6a2"/>
<circle cx="390.03" cy="149.44" r="0.75" fill="#d2c6a2"/>
<circle cx="389.5" cy="149.18" r="0.75" fill="#d2c6a2"/>
<circle cx="389.37" cy="148.84" r="0.75" fill="#d2c6a2"/>
<circle cx="388" cy="148.6" r="0.75" fill="#d2c6a2"/>
<circle cx="389.92" cy="148.48" r="0.75" fill="#d2c6a2"/>
<circle cx="389.7" cy="148.47" r="0.75" fill="#d2c6a2"/>
<circle cx="388.78" cy="148.24" r="0.75" fill="#d2c6a2"/>
<circle cx="388" cy="148.04" r="0.75" fill="#d2c6a2"/>
<circle cx="388.34" cy="147.98" r="0.75" fill="#d2c6a2"/>
<circle cx="394.1" cy="152.9" r="0.75" fill="#4fa5a1"/>
<circle cx="395.4" cy="152.9" r="0.75" fill="#4fa5a1"/>
<circle cx="392.8" cy="152.9" r="0.75" fill="#4fa5a1"/>
<circle cx="394.74" cy="152.9" r="0.75" fill="#4fa5a1"/>
<circle cx="392.87" cy="152.9" r="0.75" fill="#4fa5a1"/>
<circle cx="393.36" cy="152.89" r="0.75" fill="#4fa5a1"/>
<circle cx="393.93" cy="152.89" r="0.75" fill="#4fa5a1"/>
<circle cx="392.87" cy="152.89" r="0.75" fill="#4fa5a1"/>
<circle cx="392.84" cy="152.87" r="0.75" fill="#4fa5a1"/>
<circle cx="394.59" cy="152.87" r="0.75" fill="#4fa5a1"/>
<circle cx="394.87" cy="152.86" r="0.75" fill="#4fa5a1"/>
<circle cx="393.69" cy="152.84" r="0.75" fill="#4fa5a1"/>
<circle cx="393.75" cy="152.82" r="0.75" fill="#4fa5a1"/>
<circle cx="393.16" cy="152.82" r="0.75" fill="#4fa5a1"/>
<circle cx="394.17" cy="152.8" r="0.75" fill="#4fa5a1"/>
<circle cx="394.36" cy="152.78" r="0.75" fill="#4fa5a1"/>
<circle cx="395.49" cy="152.78" r="0.75" fill="#4fa5a1"/>
<circle cx="392.63" cy="152.78" r="0.75" fill="#4fa5a1"/>
<circle cx="395.41" cy="152.74" r="0.75" fill="#4fa5a1"/>
<circle cx="395.67" cy="152.68" r="0.75" fill="#4fa5a1"/>
<circle cx="393.61" cy="152.56" r="0.75" fill="#4fa5a1"/>
<circle cx="394.82" cy="152.56" r="0.75" fill="#4fa5a1"/>
<circle cx="395.14" cy="152.53" r="0.75" fill="#4fa5a1"/>
<circle cx="394.58" cy="152.42" r="0.75" fill="#4fa5a1"/>
<circle cx="393.42" cy="152.41" r="0.75" fill="#4fa5a1"/>
<circle cx="394.49" cy="152.32" r="0.75" fill="#4fa5a1"/>
<circle cx="395.31" cy="152.24" r="0.75" fill="#4fa5a1"/>
<circle cx="392.84" cy="152.13" r="0.75" fill="#4fa5a1"/>
<circle cx="394.04" cy="151.86" r="0.75" fill="#4fa5a1"/>
<circle cx="392.57" cy="151.74" r="0.75" fill="#4fa5a1"/>
<circle cx="395.2" cy="151.68" r="0.75" fill="#4fa5a1"/>
<circle cx="394.99" cy="151.44" r="0.75" fill="#4fa5a1"/>
<circle cx="392.65" cy="151.35" r="0.75" fill="#4fa5a1"/>
<circle cx="394.89" cy="151.09" r="0.75" fill="#4fa5a1"/>
<circle cx="394.71" cy="151.01" r="0.75" fill="#4fa5a1"/>
<circle cx="392.9" cy="150.99" r="0.75" fill="#4fa5a1"/>
<circle cx="394.18" cy="150.83" r="0.75" fill="#4fa5a1"/>
<circle cx="394.71" cy="150.75" r="0.75" fill="#4fa5a1"/>
<circle cx="393.57" cy="150.65" r="0.75" fill="#4fa5a1"/>
<circle cx="394.11" cy="150.5" r="0.75" fill="#4fa5a1"/>
<circle cx="395.62" cy="150.45" r="0.75" fill="#4fa5a1"/>
<circle cx="394.53" cy="150.39" r="0.75" fill="#4fa5a1"/>
<circle cx="394.11" cy="150.38" r="0.75" fill="#4fa5a1"/>
<circle cx="392.71" cy="149.76" r="0.75" fill="#4fa5a1"/>
<circle cx="392.89" cy="149.75" r="0.75" fill="#4fa5a1"/>
<circle cx="395.22" cy="149.4" r="0.75" fill="#4fa5a1"/>
<circle cx="394.88" cy="149.39" r="0.75" fill="#4fa5a1"/>
<circle cx="395.17" cy="149.19" r="0.75" fill="#4fa5a1"/>
<circle cx="394.35" cy="149.15" r="0.75" fill="#4fa5a1"/>
<circle cx="394.34" cy="149.1" r="0.75" fill="#4fa5a1"/>
<circle cx="394.2" cy="149.01" r="0.75" fill="#4fa5a1"/>
<circle cx="394.85" cy="148.74" r="0.75" fill="#4fa5a1"/>
<circle cx="392.8" cy="148.48" r="0.75" fill="#4fa5a1"/>
<circle cx="393.56" cy="148.28" r="0.75" fill="#4fa5a1"/>
<circle cx="394.09" cy="148.14" r="0.75" fill="#4fa5a1"/>
<circle cx="395.4" cy="147.55" r="0.75" fill="#4fa5a1"/>
<circle cx="392.8" cy="147.15" r="0.75" fill="#4fa5a1"/>
<circle cx="394.1" cy="146.06" r="0.75" fill="#4fa5a1"/>
<circle cx="395.4" cy="145.94" r="0.75" fill="#4fa5a1"/>
<circle cx="394.08" cy="144.35" r="0.75" fill="#4fa5a1"/>
<circle cx="393.93" cy="143.48" r="0.75" fill="#4fa5a1"/>
<circle cx="401.92" cy="152.89" r="0.75" fill="#d2c6a2"/>
<circle cx="403.22" cy="152.88" r="0.75" fill="#d2c6a2"/>
<circle cx="400.62" cy="152.87" r="0.75" fill="#d2c6a2"/>
<circle cx="400.78" cy="152.85" r="0.75" fill="#d2c6a2"/>
<circle cx="401.1" cy="152.82" r="0.75" fill="#d2c6a2"/>
<circle cx="402.16" cy="152.68" r="0.75" fill="#d2c6a2"/>
<circle cx="402.76" cy="152.68" r="0.75" fill="#d2c6a2"/>
<circle cx="400.8" cy="152.53" r="0.75" fill="#d2c6a2"/>
<circle cx="403.39" cy="152.46" r="0.75" fill="#d2c6a2"/>
<circle cx="401.43" cy="152.44" r="0.75" fill="#d2c6a2"/>
<circle cx="403.5" cy="152.33" r="0.75" fill="#d2c6a2"/>
<circle cx="402.73" cy="152.33" r="0.75" fill="#d2c6a2"/>
<circle cx="401.87" cy="152.29" r="0.75" fill="#d2c6a2"/>
<circle cx="401.48" cy="152.02" r="0.75" fill="#d2c6a2"/>
<circle cx="400.63" cy="151.9" r="0.75" fill="#d2c6a2"/>
<circle cx="400.6" cy="151.83" r="0.75" fill="#d2c6a2"/>
<circle cx="402.33" cy="151.79" r="0.75" fill="#d2c6a2"/>
<circle cx="402.8" cy="151.64" r="0.75" fill="#d2c6a2"/>
<circle cx="403.22" cy="151.4" r="0.75" fill="#d2c6a2"/>
<circle cx="401.49" cy="151.16" r="0.75" fill="#d2c6a2"/>
<circle cx="403.32" cy="150.74" r="0.75" fill="#d2c6a2"/>
<circle cx="401.27" cy="150.69" r="0.75" fill="#d2c6a2"/>
<circle cx="403.33" cy="150.43" r="0.75" fill="#d2c6a2"/>
<circle cx="403.26" cy="150.06" r="0.75" fill="#d2c6a2"/>
<circle cx="400.82" cy="149.83" r="0.75" fill="#d2c6a2"/>
<circle cx="403.07" cy="149.81" r="0.75" fill="#d2c6a2"/>
<circle cx="402.57" cy="149.65" r="0.75" fill="#d2c6a2"/>
<circle cx="402.57" cy="149.61" r="0.75" fill="#d2c6a2"/>
<circle cx="403.01" cy="149.45" r="0.75" fill="#d2c6a2"/>
<circle cx="402.04" cy="149.41" r="0.75" fill="#d2c6a2"/>
<circle cx="401.94" cy="148.81" r="0.75" fill="#d2c6a2"/>
<circle cx="400.62" cy="148.39" r="0.75" fill="#d2c6a2"/>
<circle cx="401.49" cy="148.26" r="0.75" fill="#d2c6a2"/>
<circle cx="403.22" cy="148.01" r="0.75" fill="#d2c6a2"/>
<circle cx="403.09" cy="147.93" r="0.75" fill="#d2c6a2"/>
<circle cx="403.2" cy="147.42" r="0.75" fill="#d2c6a2"/>
<circle cx="401.92" cy="146.9" r="0.75" fill="#d2c6a2"/>
<circle cx="402.57" cy="145.82" r="0.75" fill="#d2c6a2"/>
<circle cx="401.27" cy="145.82" r="0.75" fill="#d2c6a2"/>
<circle cx="401.72" cy="142.85" r="0.75" fill="#d2c6a2"/>
<circle cx="401.79" cy="139.42" r="0.75" fill="#d2c6a2"/>
<circle cx="401.74" cy="134.88" r="0.75" fill="#d2c6a2"/>
<circle cx="401.79" cy="132.63" r="0.75" fill="#d2c6a2"/>
<circle cx="401.68" cy="105.63" r="0.75" fill="#d2c6a2"/>
<circle cx="402.08" cy="100.83" r="0.75" fill="#d2c6a2"/>
<circle cx="406.72" cy="152.9" r="0.75" fill="#4fa5a1"/>
<circle cx="408.02" cy="152.9" r="0.75" fill="#4fa5a1"/>
<circle cx="405.42" cy="152.9" r="0.75" fill="#4fa5a1"/>
<circle cx="407.57" cy="152.89" r="0.75" fill="#4fa5a1"/>
<circle cx="405.33" cy="152.87" r="0.75" fill="#4fa5a1"/>
<circle cx="406.34" cy="152.86" r="0.75" fill="#4fa5a1"/>
<circle cx="405.73" cy="152.79" r="0.75" fill="#4fa5a1"/>
<circle cx="407.84" cy="152.79" r="0.75" fill="#4fa5a1"/>
<circle cx="405.38" cy="152.75" r="0.75" fill="#4fa5a1"/>
<circle cx="406.2" cy="152.68" r="0.75" fill="#4fa5a1"/>
<circle cx="407.86" cy="152.67" r="0.75" fill="#4fa5a1"/>
<circle cx="407.32" cy="152.6" r="0.75" fill="#4fa5a1"/>
<circle cx="407.37" cy="152.58" r="0.75" fill="#4fa5a1"/>
<circle cx="408.29" cy="152.51" r="0.75" fill="#4fa5a1"/>
<circle cx="405.19" cy="152.46" r="0.75" fill="#4fa5a1"/>
<circle cx="407.25" cy="152.43" r="0.75" fill="#4fa5a1"/>
<circle cx="407.5" cy="152.42" r="0.75" fill="#4fa5a1"/>
<circle cx="407.51" cy="152.15" r="0.75" fill="#4fa5a1"/>
<circle cx="407.4" cy="151.92" r="0.75" fill="#4fa5a1"/>
<circle cx="405.35" cy="151.83" r="0.75" fill="#4fa5a1"/>
<circle cx="405.39" cy="151.49" r="0.75" fill="#4fa5a1"/>
<circle cx="407.59" cy="151.23" r="0.75" fill="#4fa5a1"/>
<circle cx="407.08" cy="151.22" r="0.75" fill="#4fa5a1"/>
<circle cx="405.96" cy="151.21" r="0.75" fill="#4fa5a1"/>
<circle cx="405.15" cy="151.13" r="0.75" fill="#4fa5a1"/>
<circle cx="406.83" cy="150.94" r="0.75" fill="#4fa5a1"/>
<circle cx="405.41" cy="150.74" r="0.75" fill="#4fa5a1"/>
<circle cx="407.51" cy="150.6" r="0.75" fill="#4fa5a1"/>
<circle cx="406.21" cy="150.27" r="0.75" fill="#4fa5a1"/>
<circle cx="407.7" cy="149.99" r="0.75" fill="#4fa5a1"/>
<circle cx="405.43" cy="149.89" r="0.75" fill="#4fa5a1"/>
<circle cx="406.7" cy="149.31" r="0.75" fill="#4fa5a1"/>
<circle cx="405.44" cy="148.97" r="0.75" fill="#4fa5a1"/>
<circle cx="408.02" cy="148.74" r="0.75" fill="#4fa5a1"/>
<circle cx="407.62" cy="148.52" r="0.75" fill="#4fa5a1"/>
<circle cx="406.91" cy="148.33" r="0.75" fill="#4fa5a1"/>
<circle cx="405.87" cy="147.99" r="0.75" fill="#4fa5a1"/>
<circle cx="408.2" cy="147.87" r="0.75" fill="#4fa5a1"/>
<circle cx="407.3" cy="147.32" r="0.75" fill="#4fa5a1"/>
<circle cx="405.42" cy="146.84" r="0.75" fill="#4fa5a1"/>
<circle cx="406.72" cy="145.54" r="0.75" fill="#4fa5a1"/>
<circle cx="408.02" cy="145.17" r="0.75" fill="#4fa5a1"/>
<circle cx="405.42" cy="144.92" r="0.75" fill="#4fa5a1"/>
<circle cx="406.2" cy="144.49" r="0.75" fill="#4fa5a1"/>
<circle cx="407.86" cy="144.35" r="0.75" fill="#4fa5a1"/>
<circle cx="406.34" cy="144.2" r="0.75" fill="#4fa5a1"/>
<circle cx="408.14" cy="143.79" r="0.75" fill="#4fa5a1"/>
<circle cx="405.42" cy="143.25" r="0.75" fill="#4fa5a1"/>
<circle cx="406.72" cy="142.99" r="0.75" fill="#4fa5a1"/>
<circle cx="408.02" cy="142.52" r="0.75" fill="#4fa5a1"/>
<circle cx="406.07" cy="142.18" r="0.75" fill="#4fa5a1"/>
<circle cx="408.27" cy="142.07" r="0.75" fill="#4fa5a1"/>
<circle cx="405.32" cy="141.84" r="0.75" fill="#4fa5a1"/>
<circle cx="406.86" cy="140.45" r="0.75" fill="#4fa5a1"/>
<circle cx="406.67" cy="138.76" r="0.75" fill="#4fa5a1"/>
<circle cx="406.45" cy="137.7" r="0.75" fill="#4fa5a1"/>
<circle cx="406.48" cy="131.65" r="0.75" fill="#4fa5a1"/>
<circle cx="406.55" cy="130.45" r="0.75" fill="#4fa5a1"/>
<circle cx="406.62" cy="126.18" r="0.75" fill="#4fa5a1"/>
<circle cx="406.98" cy="102.95" r="0.75" fill="#4fa5a1"/>
<circle cx="406.81" cy="100.26" r="0.75" fill="#4fa5a1"/>
<circle cx="414.54" cy="152.9" r="0.75" fill="#d2c6a2"/>
<circle cx="415.84" cy="152.9" r="0.75" fill="#d2c6a2"/>
<circle cx="413.24" cy="152.9" r="0.75" fill="#d2c6a2"/>
<circle cx="416.04" cy="152.9" r="0.75" fill="#d2c6a2"/>
<circle cx="415.38" cy="152.9" r="0.75" fill="#d2c6a2"/>
<circle cx="414.38" cy="152.89" r="0.75" fill="#d2c6a2"/>
<circle cx="413.38" cy="152.87" r="0.75" fill="#d2c6a2"/>
<circle cx="413.8" cy="152.86" r="0.75" fill="#d2c6a2"/>
<circle cx="416.08" cy="152.85" r="0.75" fill="#d2c6a2"/>
<circle cx="415.47" cy="152.85" r="0.75" fill="#d2c6a2"/>
<circle cx="413.16" cy="152.85" r="0.75" fill="#d2c6a2"/>
<circle cx="415.2" cy="152.84" r="0.75" fill="#d2c6a2"/>
<circle cx="414.14" cy="152.8" r="0.75" fill="#d2c6a2"/>
<circle cx="415.24" cy="152.77" r="0.75" fill="#d2c6a2"/>
<circle cx="413.89" cy="152.76" r="0.75" fill="#d2c6a2"/>
<circle cx="413.36" cy="152.75" r="0.75" fill="#d2c6a2"/>
<circle cx="413" cy="152.75" r="0.75" fill="#d2c6a2"/>
<circle cx="413.89" cy="152.69" r="0.75" fill="#d2c6a2"/>
<circle cx="415.69" cy="152.61" r="0.75" fill="#d2c6a2"/>
<circle cx="415.79" cy="152.49" r="0.75" fill="#d2c6a2"/>
<circle cx="415.13" cy="152.42" r="0.75" fill="#d2c6a2"/>
<circle cx="415.33" cy="152.24" r="0.75" fill="#d2c6a2"/>
<circle cx="413.56" cy="151.98" r="0.75" fill="#d2c6a2"/>
<circle cx="414.07" cy="151.97" r="0.75" fill="#d2c6a2"/>
<circle cx="415.82" cy="151.55" r="0.75" fill="#d2c6a2"/>
<circle cx="416.1" cy="151.54" r="0.75" fill="#d2c6a2"/>
<circle cx="414.36" cy="151.49" r="0.75" fill="#d2c6a2"/>
<circle cx="415.42" cy="151.33" r="0.75" fill="#d2c6a2"/>
<circle cx="415.93" cy="151.29" r="0.75" fill="#d2c6a2"/>
<circle cx="416.13" cy="151.03" r="0.75" fill="#d2c6a2"/>
<circle cx="413.89" cy="150.9" r="0.75" fill="#d2c6a2"/>
<circle cx="415.03" cy="150.56" r="0.75" fill="#d2c6a2"/>
<circle cx="414.19" cy="150.55" r="0.75" fill="#d2c6a2"/>
<circle cx="414.43" cy="150.4" r="0.75" fill="#d2c6a2"/>
<circle cx="414.42" cy="150.04" r="0.75" fill="#d2c6a2"/>
<circle cx="413.83" cy="149.99" r="0.75" fill="#d2c6a2"/>
<circle cx="413" cy="149.91" r="0.75" fill="#d2c6a2"/>
<circle cx="415.39" cy="149.8" r="0.75" fill="#d2c6a2"/>
<circle cx="415.17" cy="149.54" r="0.75" fill="#d2c6a2"/>
<circle cx="415.63" cy="149.31" r="0.75" fill="#d2c6a2"/>
<circle cx="413.43" cy="149.06" r="0.75" fill="#d2c6a2"/>
<circle cx="413.7" cy="148.98" r="0.75" fill="#d2c6a2"/>
<circle cx="414.85" cy="148.98" r="0.75" fill="#d2c6a2"/>
<circle cx="415.94" cy="148.72" r="0.75" fill="#d2c6a2"/>
<circle cx="414.45" cy="148.35" r="0.75" fill="#d2c6a2"/>
<circle cx="419.34" cy="152.88" r="0.75" fill="#4fa5a1"/>
<circle cx="420.64" cy="152.87" r="0.75" fill="#4fa5a1"/>
<circle cx="418.04" cy="152.86" r="0.75" fill="#4fa5a1"/>
<circle cx="418.25" cy="152.84" r="0.75" fill="#4fa5a1"/>
<circle cx="420.12" cy="152.83" r="0.75" fill="#4fa5a1"/>
<circle cx="419.96" cy="152.82" r="0.75" fill="#4fa5a1"/>
<circle cx="417.86" cy="152.79" r="0.75" fill="#4fa5a1"/>
<circle cx="420.67" cy="152.77" r="0.75" fill="#4fa5a1"/>
<circle cx="419.27" cy="152.76" r="0.75" fill="#4fa5a1"/>
<circle cx="418.6" cy="152.73" r="0.75" fill="#4fa5a1"/>
<circle cx="417.84" cy="152.69" r="0.75" fill="#4fa5a1"/>
<circle cx="420.24" cy="152.68" r="0.75" fill="#4fa5a1"/>
<circle cx="418.82" cy="152.67" r="0.75" fill="#4fa5a1"/>
<circle cx="419.38" cy="152.67" r="0.75" fill="#4fa5a1"/>
<circle cx="418.36" cy="152.63" r="0.75" fill="#4fa5a1"/>
<circle cx="419.68" cy="152.38" r="0.75" fill="#4fa5a1"/>
<circle cx="419.01" cy="152.33" r="0.75" fill="#4fa5a1"/>
<circle cx="420.32" cy="152.33" r="0.75" fill="#4fa5a1"/>
<circle cx="419.87" cy="152.29" r="0.75" fill="#4fa5a1"/>
<circle cx="420.05" cy="152.23" r="0.75" fill="#4fa5a1"/>
<circle cx="418.54" cy="152.21" r="0.75" fill="#4fa5a1"/>
<circle cx="417.94" cy="152.21" r="0.75" fill="#4fa5a1"/>
<circle cx="420.56" cy="152.05" r="0.75" fill="#4fa5a1"/>
<circle cx="420.73" cy="152.03" r="0.75" fill="#4fa5a1"/>
<circle cx="419.8" cy="151.9" r="0.75" fill="#4fa5a1"/>
<circle cx="420.69" cy="151.65" r="0.75" fill="#4fa5a1"/>
<circle cx="420" cy="151.57" r="0.75" fill="#4fa5a1"/>
<circle cx="419.68" cy="151.42" r="0.75" fill="#4fa5a1"/>
<circle cx="419.08" cy="151.42" r="0.75" fill="#4fa5a1"/>
<circle cx="418.88" cy="151.32" r="0.75" fill="#4fa5a1"/>
<circle cx="419.31" cy="151.3" r="0.75" fill="#4fa5a1"/>
<circle cx="418.45" cy="151.28" r="0.75" fill="#4fa5a1"/>
<circle cx="419.11" cy="151.08" r="0.75" fill="#4fa5a1"/>
<circle cx="419.36" cy="150.69" r="0.75" fill="#4fa5a1"/>
<circle cx="417.84" cy="150.44" r="0.75" fill="#4fa5a1"/>
<circle cx="420.64" cy="150.34" r="0.75" fill="#4fa5a1"/>
<circle cx="419" cy="150.13" r="0.75" fill="#4fa5a1"/>
<circle cx="418.65" cy="149.47" r="0.75" fill="#4fa5a1"/>
<circle cx="419.99" cy="149.22" r="0.75" fill="#4fa5a1"/>
<circle cx="419.77" cy="149.16" r="0.75" fill="#4fa5a1"/>
<circle cx="420.34" cy="149.12" r="0.75" fill="#4fa5a1"/>
<circle cx="419.71" cy="149.01" r="0.75" fill="#4fa5a1"/>
<circle cx="419.86" cy="148.9" r="0.75" fill="#4fa5a1"/>
<circle cx="419.7" cy="148.87" r="0.75" fill="#4fa5a1"/>
<circle cx="418.56" cy="148.54" r="0.75" fill="#4fa5a1"/>
<circle cx="418.94" cy="148.53" r="0.75" fill="#4fa5a1"/>
<circle cx="420.44" cy="148.28" r="0.75" fill="#4fa5a1"/>
<circle cx="420.77" cy="148.28" r="0.75" fill="#4fa5a1"/>
<circle cx="418.32" cy="148.04" r="0.75" fill="#4fa5a1"/>
<circle cx="417.77" cy="148.01" r="0.75" fill="#4fa5a1"/>
<circle cx="420.82" cy="148.01" r="0.75" fill="#4fa5a1"/>
<circle cx="420.49" cy="147.95" r="0.75" fill="#4fa5a1"/>
<circle cx="419.68" cy="147.85" r="0.75" fill="#4fa5a1"/>
<circle cx="420.35" cy="147.7" r="0.75" fill="#4fa5a1"/>
<circle cx="419.64" cy="147.68" r="0.75" fill="#4fa5a1"/>
<circle cx="420.64" cy="147.58" r="0.75" fill="#4fa5a1"/>
<circle cx="418.52" cy="147.26" r="0.75" fill="#4fa5a1"/>
<circle cx="419.16" cy="147.26" r="0.75" fill="#4fa5a1"/>
<circle cx="419.89" cy="146.63" r="0.75" fill="#4fa5a1"/>
<circle cx="419.17" cy="144.3" r="0.75" fill="#4fa5a1"/>
<circle cx="419.2" cy="142.34" r="0.75" fill="#4fa5a1"/>
<circle cx="427.16" cy="152.9" r="0.75" fill="#d2c6a2"/>
<circle cx="428.46" cy="152.9" r="0.75" fill="#d2c6a2"/>
<circle cx="425.86" cy="152.89" r="0.75" fill="#d2c6a2"/>
<circle cx="426.01" cy="152.89" r="0.75" fill="#d2c6a2"/>
<circle cx="428.62" cy="152.87" r="0.75" fill="#d2c6a2"/>
<circle cx="426.29" cy="152.77" r="0.75" fill="#d2c6a2"/>
<circle cx="427.55" cy="152.74" r="0.75" fill="#d2c6a2"/>
<circle cx="426.41" cy="152.67" r="0.75" fill="#d2c6a2"/>
<circle cx="428.17" cy="152.66" r="0.75" fill="#d2c6a2"/>
<circle cx="426.2" cy="152.63" r="0.75" fill="#d2c6a2"/>
<circle cx="426.91" cy="151.93" r="0.75" fill="#d2c6a2"/>
<circle cx="426.26" cy="151.9" r="0.75" fill="#d2c6a2"/>
<circle cx="428.31" cy="151.77" r="0.75" fill="#d2c6a2"/>
<circle cx="427.54" cy="151.27" r="0.75" fill="#d2c6a2"/>
<circle cx="427.58" cy="151.09" r="0.75" fill="#d2c6a2"/>
<circle cx="425.86" cy="150.66" r="0.75" fill="#d2c6a2"/>
<circle cx="428.46" cy="150.22" r="0.75" fill="#d2c6a2"/>
<circle cx="426.57" cy="150.21" r="0.75" fill="#d2c6a2"/>
<circle cx="426.12" cy="150.18" r="0.75" fill="#d2c6a2"/>
<circle cx="428.3" cy="149.76" r="0.75" fill="#d2c6a2"/>
<circle cx="428.01" cy="149.42" r="0.75" fill="#d2c6a2"/>
<circle cx="427.91" cy="149.28" r="0.75" fill="#d2c6a2"/>
<circle cx="428.75" cy="149.19" r="0.75" fill="#d2c6a2"/>
<circle cx="426.51" cy="148.55" r="0.75" fill="#d2c6a2"/>
<circle cx="427.81" cy="147.8" r="0.75" fill="#d2c6a2"/>
<circle cx="426.51" cy="147.3" r="0.75" fill="#d2c6a2"/>
<circle cx="427.35" cy="146.93" r="0.75" fill="#d2c6a2"/>
<circle cx="426.13" cy="146.51" r="0.75" fill="#d2c6a2"/>
<circle cx="427.51" cy="146.51" r="0.75" fill="#d2c6a2"/>
<circle cx="426.48" cy="146.38" r="0.75" fill="#d2c6a2"/>
<circle cx="427.2" cy="146.24" r="0.75" fill="#d2c6a2"/>
<circle cx="427.03" cy="145.82" r="0.75" fill="#d2c6a2"/>
<circle cx="428.46" cy="145.19" r="0.75" fill="#d2c6a2"/>
<circle cx="426.51" cy="144.63" r="0.75" fill="#d2c6a2"/>
<circle cx="427.81" cy="144.15" r="0.75" fill="#d2c6a2"/>
<circle cx="427.2" cy="141.32" r="0.75" fill="#d2c6a2"/>
<circle cx="427.35" cy="138.94" r="0.75" fill="#d2c6a2"/>
<circle cx="427.35" cy="134.64" r="0.75" fill="#d2c6a2"/>
<circle cx="427.32" cy="111.89" r="0.75" fill="#d2c6a2"/>
<circle cx="427.4" cy="109.69" r="0.75" fill="#d2c6a2"/>
<circle cx="426.92" cy="106.51" r="0.75" fill="#d2c6a2"/>
<circle cx="427.25" cy="102.49" r="0.75" fill="#d2c6a2"/>
<circle cx="427.11" cy="91.25" r="0.75" fill="#d2c6a2"/>
<circle cx="426.98" cy="90.95" r="0.75" fill="#d2c6a2"/>
<circle cx="426.89" cy="37.71" r="0.75" fill="#d2c6a2"/>
<circle cx="431.96" cy="152.9" r="0.75" fill="#4fa5a1"/>
<circle cx="433.26" cy="152.9" r="0.75" fill="#4fa5a1"/>
<circle cx="430.66" cy="152.9" r="0.75" fill="#4fa5a1"/>
<circle cx="431.79" cy="152.89" r="0.75" fill="#4fa5a1"/>
<circle cx="432.11" cy="152.89" r="0.75" fill="#4fa5a1"/>
<circle cx="431.88" cy="152.89" r="0.75" fill="#4fa5a1"/>
<circle cx="430.47" cy="152.79" r="0.75" fill="#4fa5a1"/>
<circle cx="431.21" cy="152.73" r="0.75" fill="#4fa5a1"/>
<circle cx="433.44" cy="152.63" r="0.75" fill="#4fa5a1"/>
<circle cx="430.45" cy="152.63" r="0.75" fill="#4fa5a1"/>
<circle cx="432.71" cy="152.62" r="0.75" fill="#4fa5a1"/>
<circle cx="431.88" cy="152.58" r="0.75" fill="#4fa5a1"/>
<circle cx="432.62" cy="152.53" r="0.75" fill="#4fa5a1"/>
<circle cx="431.42" cy="152.53" r="0.75" fill="#4fa5a1"/>
<circle cx="431.54" cy="152.17" r="0.75" fill="#4fa5a1"/>
<circle cx="432.01" cy="152.15" r="0.75" fill="#4fa5a1"/>
<circle cx="433.27" cy="152.11" r="0.75" fill="#4fa5a1"/>
<circle cx="431.41" cy="151.73" r="0.75" fill="#4fa5a1"/>
<circle cx="430.63" cy="151.63" r="0.75" fill="#4fa5a1"/>
<circle cx="430.48" cy="151.51" r="0.75" fill="#4fa5a1"/>
<circle cx="433.18" cy="151.25" r="0.75" fill="#4fa5a1"/>
<circle cx="431.36" cy="151.07" r="0.75" fill="#4fa5a1"/>
<circle cx="430.74" cy="150.99" r="0.75" fill="#4fa5a1"/>
<circle cx="432.27" cy="150.96" r="0.75" fill="#4fa5a1"/>
<circle cx="433.06" cy="150.82" r="0.75" fill="#4fa5a1"/>
<circle cx="432.28" cy="150.68" r="0.75" fill="#4fa5a1"/>
<circle cx="430.85" cy="150.49" r="0.75" fill="#4fa5a1"/>
<circle cx="431.66" cy="150.36" r="0.75" fill="#4fa5a1"/>
<circle cx="431.96" cy="149.09" r="0.75" fill="#4fa5a1"/>
<circle cx="433.26" cy="148.96" r="0.75" fill="#4fa5a1"/>
<circle cx="430.66" cy="148.74" r="0.75" fill="#4fa5a1"/>
<circle cx="431.21" cy="148.46" r="0.75" fill="#4fa5a1"/>
<circle cx="431.96" cy="145.97" r="0.75" fill="#4fa5a1"/>
<circle cx="433.26" cy="145.51" r="0.75" fill="#4fa5a1"/>
<circle cx="431.31" cy="144.77" r="0.75" fill="#4fa5a1"/>
<circle cx="431.96" cy="142.65" r="0.75" fill="#4fa5a1"/>
<circle cx="433.26" cy="142.37" r="0.75" fill="#4fa5a1"/>
<circle cx="431.96" cy="141.11" r="0.75" fill="#4fa5a1"/>
<circle cx="433.26" cy="141.08" r="0.75" fill="#4fa5a1"/>
<circle cx="430.66" cy="140.73" r="0.75" fill="#4fa5a1"/>
<circle cx="430.41" cy="140.7" r="0.75" fill="#4fa5a1"/>
<circle cx="433.45" cy="140.63" r="0.75" fill="#4fa5a1"/>
<circle cx="431.83" cy="140.5" r="0.75" fill="#4fa5a1"/>
<circle cx="430.79" cy="140" r="0.75" fill="#4fa5a1"/>
<circle cx="431.96" cy="138.95" r="0.75" fill="#4fa5a1"/>
<circle cx="432.19" cy="137.06" r="0.75" fill="#4fa5a1"/>
<circle cx="432.15" cy="136.27" r="0.75" fill="#4fa5a1"/>
<circle cx="431.77" cy="134.64" r="0.75" fill="#4fa5a1"/>
<circle cx="432.01" cy="132.94" r="0.75" fill="#4fa5a1"/>
<circle cx="432.24" cy="132.07" r="0.75" fill="#4fa5a1"/>
<circle cx="431.87" cy="129.26" r="0.75" fill="#4fa5a1"/>
<circle cx="431.73" cy="127.63" r="0.75" fill="#4fa5a1"/>
<circle cx="431.7" cy="125.45" r="0.75" fill="#4fa5a1"/>
<circle cx="431.73" cy="119.68" r="0.75" fill="#4fa5a1"/>
<circle cx="431.85" cy="117.65" r="0.75" fill="#4fa5a1"/>
<circle cx="431.71" cy="115.63" r="0.75" fill="#4fa5a1"/>
<circle cx="432.05" cy="107.02" r="0.75" fill="#4fa5a1"/>
<circle cx="432.09" cy="91.82" r="0.75" fill="#4fa5a1"/>
<circle cx="432.06" cy="91.68" r="0.75" fill="#4fa5a1"/>
<circle cx="432.1" cy="76.65" r="0.75" fill="#4fa5a1"/>
<circle cx="431.79" cy="41.58" r="0.75" fill="#4fa5a1"/>
<line x1="260.3" y1="12.6" x2="260.3" y2="153.4" stroke="#2a2224" stroke-width="1.25" />
<line x1="259.7" y1="152.9" x2="436.7" y2="152.9" stroke="#2a2224" stroke-width="1.25" />
<line x1="256.1" y1="152.9" x2="260.3" y2="152.9" stroke="#3a3032" stroke-width="0.9" />
<text stroke="#333" stroke-width="0.12" x="255.7" y="154.78" font-size="5.3" text-anchor="end" font-weight="bold" fill="#333" >0</text>
<line x1="256.1" y1="124.84" x2="260.3" y2="124.84" stroke="#3a3032" stroke-width="0.9" />
<text stroke="#333" stroke-width="0.12" x="255.7" y="126.72" font-size="5.3" text-anchor="end" font-weight="bold" fill="#333" >10</text>
<line x1="256.1" y1="96.78" x2="260.3" y2="96.78" stroke="#3a3032" stroke-width="0.9" />
<text stroke="#333" stroke-width="0.12" x="255.7" y="98.66" font-size="5.3" text-anchor="end" font-weight="bold" fill="#333" >20</text>
<line x1="256.1" y1="68.72" x2="260.3" y2="68.72" stroke="#3a3032" stroke-width="0.9" />
<text stroke="#333" stroke-width="0.12" x="255.7" y="70.6" font-size="5.3" text-anchor="end" font-weight="bold" fill="#333" >30</text>
<line x1="256.1" y1="40.66" x2="260.3" y2="40.66" stroke="#3a3032" stroke-width="0.9" />
<text stroke="#333" stroke-width="0.12" x="255.7" y="42.54" font-size="5.3" text-anchor="end" font-weight="bold" fill="#333" >40</text>
<line x1="256.1" y1="12.6" x2="260.3" y2="12.6" stroke="#3a3032" stroke-width="0.9" />
<text stroke="#333" stroke-width="0.12" x="255.7" y="14.48" font-size="5.3" text-anchor="end" font-weight="bold" fill="#333" >50</text>
<line x1="265.4" y1="152.9" x2="265.4" y2="157.1" stroke="#3a3032" stroke-width="1" />
<text stroke="#222" stroke-width="0.12" transform="translate(267.3,160.6) rotate(-45)" font-size="5.8" text-anchor="end" font-weight="bold" fill="#222">IL-1β</text>
<line x1="278.02" y1="152.9" x2="278.02" y2="157.1" stroke="#3a3032" stroke-width="1" />
<text stroke="#222" stroke-width="0.12" transform="translate(279.92,160.6) rotate(-45)" font-size="5.8" text-anchor="end" font-weight="bold" fill="#222">IL-2</text>
<line x1="290.64" y1="152.9" x2="290.64" y2="157.1" stroke="#3a3032" stroke-width="1" />
<text stroke="#222" stroke-width="0.12" transform="translate(292.54,160.6) rotate(-45)" font-size="5.8" text-anchor="end" font-weight="bold" fill="#222">IL-4</text>
<line x1="303.26" y1="152.9" x2="303.26" y2="157.1" stroke="#3a3032" stroke-width="1" />
<text stroke="#222" stroke-width="0.12" transform="translate(305.16,160.6) rotate(-45)" font-size="5.8" text-anchor="end" font-weight="bold" fill="#222">IL-5</text>
<line x1="315.88" y1="152.9" x2="315.88" y2="157.1" stroke="#3a3032" stroke-width="1" />
<text stroke="#222" stroke-width="0.12" transform="translate(317.78,160.6) rotate(-45)" font-size="5.8" text-anchor="end" font-weight="bold" fill="#222">IL-6</text>
<line x1="328.5" y1="152.9" x2="328.5" y2="157.1" stroke="#3a3032" stroke-width="1" />
<text stroke="#222" stroke-width="0.12" transform="translate(330.4,160.6) rotate(-45)" font-size="5.8" text-anchor="end" font-weight="bold" fill="#222">IL-8</text>
<line x1="341.12" y1="152.9" x2="341.12" y2="157.1" stroke="#3a3032" stroke-width="1" />
<text stroke="#222" stroke-width="0.12" transform="translate(343.02,160.6) rotate(-45)" font-size="5.8" text-anchor="end" font-weight="bold" fill="#222">IL-10</text>
<line x1="353.74" y1="152.9" x2="353.74" y2="157.1" stroke="#3a3032" stroke-width="1" />
<text stroke="#222" stroke-width="0.12" transform="translate(355.64,160.6) rotate(-45)" font-size="5.8" text-anchor="end" font-weight="bold" fill="#222">IL-12p70</text>
<line x1="366.36" y1="152.9" x2="366.36" y2="157.1" stroke="#3a3032" stroke-width="1" />
<text stroke="#222" stroke-width="0.12" transform="translate(368.26,160.6) rotate(-45)" font-size="5.8" text-anchor="end" font-weight="bold" fill="#222">IL-17A</text>
<line x1="378.98" y1="152.9" x2="378.98" y2="157.1" stroke="#3a3032" stroke-width="1" />
<text stroke="#222" stroke-width="0.12" transform="translate(380.88,160.6) rotate(-45)" font-size="5.8" text-anchor="end" font-weight="bold" fill="#222">IL-17F</text>
<line x1="391.6" y1="152.9" x2="391.6" y2="157.1" stroke="#3a3032" stroke-width="1" />
<text stroke="#222" stroke-width="0.12" transform="translate(393.5,160.6) rotate(-45)" font-size="5.8" text-anchor="end" font-weight="bold" fill="#222">IL-22</text>
<line x1="404.22" y1="152.9" x2="404.22" y2="157.1" stroke="#3a3032" stroke-width="1" />
<text stroke="#222" stroke-width="0.12" transform="translate(406.12,160.6) rotate(-45)" font-size="5.8" text-anchor="end" font-weight="bold" fill="#222">TNF-α</text>
<line x1="416.84" y1="152.9" x2="416.84" y2="157.1" stroke="#3a3032" stroke-width="1" />
<text stroke="#222" stroke-width="0.12" transform="translate(418.74,160.6) rotate(-45)" font-size="5.8" text-anchor="end" font-weight="bold" fill="#222">TNF-β</text>
<line x1="429.46" y1="152.9" x2="429.46" y2="157.1" stroke="#3a3032" stroke-width="1" />
<text stroke="#222" stroke-width="0.12" transform="translate(431.36,160.6) rotate(-45)" font-size="5.8" text-anchor="end" font-weight="bold" fill="#222">IFN-γ</text>
<text stroke="#222" stroke-width="0.12" x="269.4" y="17.94" font-size="6.6" text-anchor="middle" font-weight="normal" fill="#222" >*</text>
<text stroke="#222" stroke-width="0.12" x="281.77" y="17.94" font-size="6.6" text-anchor="middle" font-weight="normal" fill="#222" >**</text>
<text stroke="#222" stroke-width="0.12" x="294.14" y="17.94" font-size="6.6" text-anchor="middle" font-weight="normal" fill="#222" >***</text>
<text stroke="#222" stroke-width="0.12" x="306.51" y="17.94" font-size="6.6" text-anchor="middle" font-weight="normal" fill="#222" >*</text>
<text stroke="#2a2a2a" stroke-width="0.12" transform="translate(315.5,17.2) scale(0.82,1)" font-size="9.4" text-anchor="middle" fill="#2a2a2a">ns</text>
<text stroke="#2a2a2a" stroke-width="0.12" transform="translate(329,17.2) scale(0.82,1)" font-size="9.4" text-anchor="middle" fill="#2a2a2a">ns</text>
<text stroke="#2a2a2a" stroke-width="0.12" transform="translate(343.2,17.2) scale(0.82,1)" font-size="9.4" text-anchor="middle" fill="#2a2a2a">ns</text>
<text stroke="#2a2a2a" stroke-width="0.12" transform="translate(355.3,17.2) scale(0.82,1)" font-size="9.4" text-anchor="middle" fill="#2a2a2a">ns</text>
<text stroke="#2a2a2a" stroke-width="0.12" transform="translate(367.1,17.2) scale(0.82,1)" font-size="9.4" text-anchor="middle" fill="#2a2a2a">ns</text>
<text stroke="#2a2a2a" stroke-width="0.12" transform="translate(380.73,17.2) scale(0.82,1)" font-size="9.4" text-anchor="middle" fill="#2a2a2a">ns</text>
<text stroke="#222" stroke-width="0.12" x="393.1" y="17.94" font-size="6.6" text-anchor="middle" font-weight="normal" fill="#222" >**</text>
<text stroke="#2a2a2a" stroke-width="0.12" transform="translate(405.47,17.2) scale(0.82,1)" font-size="9.4" text-anchor="middle" fill="#2a2a2a">ns</text>
<text stroke="#2a2a2a" stroke-width="0.12" transform="translate(417.84,17.2) scale(0.82,1)" font-size="9.4" text-anchor="middle" fill="#2a2a2a">ns</text>
<text stroke="#2a2a2a" stroke-width="0.12" transform="translate(430.21,17.2) scale(0.82,1)" font-size="9.4" text-anchor="middle" fill="#2a2a2a">ns</text>
<circle cx="443.6" cy="29.2" r="0.8" fill="#d2c6a2"/>
<circle cx="443.6" cy="39.4" r="0.8" fill="#4fa5a1"/>
<text stroke="#555" stroke-width="0.12" x="452.8" y="31.54" font-size="6.6" text-anchor="start" font-weight="normal" fill="#555" >PR+CR</text>
<text stroke="#555" stroke-width="0.12" x="452.8" y="41.74" font-size="6.6" text-anchor="start" font-weight="normal" fill="#555" >PD+SD</text>
<text transform="translate(245.39,83.2) rotate(-90)" font-size="7" text-anchor="middle" font-weight="normal" fill="#1a1a1a"  stroke="#1a1a1a" stroke-width="0.28" textLength="160" lengthAdjust="spacingAndGlyphs">Cytokine of STAD with PD-1 antibody(pg/ml),n=106</text>
<text x="478.3" y="12.4" font-size="13.6" fill="#231f20">C</text>
<rect x="500.5" y="35.1" width="41.45" height="4.4" fill="#56584a" stroke="#1a1a1a" stroke-width="0.85" />
<line x1="497.9" y1="37.3" x2="500.5" y2="37.3" stroke="#4a2326" stroke-width="0.8" />
<text stroke="#333" stroke-width="0.12" x="497.5" y="39.5" font-size="6.2" text-anchor="end" font-weight="bold" fill="#333" >IFN-γ</text>
<text stroke="#333" stroke-width="0.12" x="544.75" y="39.54" font-size="6.3" text-anchor="start" font-weight="normal" fill="#333" >0.98</text>
<rect x="500.5" y="43.32" width="69.37" height="4.4" fill="#e2803f" stroke="#b2551c" stroke-width="0.85" />
<line x1="497.9" y1="45.52" x2="500.5" y2="45.52" stroke="#4a2326" stroke-width="0.8" />
<text stroke="#333" stroke-width="0.12" x="497.5" y="47.72" font-size="6.2" text-anchor="end" font-weight="bold" fill="#333" >TNF-β</text>
<text stroke="#333" stroke-width="0.12" x="572.67" y="47.75" font-size="6.3" text-anchor="start" font-weight="normal" fill="#333" >1.64</text>
<rect x="500.5" y="51.53" width="80.79" height="4.4" fill="#963238" stroke="#5e1418" stroke-width="0.85" />
<line x1="497.9" y1="53.73" x2="500.5" y2="53.73" stroke="#4a2326" stroke-width="0.8" />
<text stroke="#333" stroke-width="0.12" x="497.5" y="55.93" font-size="6.2" text-anchor="end" font-weight="bold" fill="#333" >TNF-α</text>
<text stroke="#333" stroke-width="0.12" x="584.09" y="55.97" font-size="6.3" text-anchor="start" font-weight="normal" fill="#333" >1.91</text>
<rect x="500.5" y="59.75" width="124.36" height="4.4" fill="#78504a" stroke="#45261f" stroke-width="0.85" />
<line x1="497.9" y1="61.95" x2="500.5" y2="61.95" stroke="#4a2326" stroke-width="0.8" />
<text stroke="#333" stroke-width="0.12" x="497.5" y="64.15" font-size="6.2" text-anchor="end" font-weight="bold" fill="#333" >IL-22</text>
<text stroke="#333" stroke-width="0.12" x="627.66" y="64.18" font-size="6.3" text-anchor="start" font-weight="normal" fill="#333" >2.94</text>
<rect x="500.5" y="67.96" width="76.14" height="4.4" fill="#8ed23e" stroke="#5c9a1d" stroke-width="0.85" />
<line x1="497.9" y1="70.16" x2="500.5" y2="70.16" stroke="#4a2326" stroke-width="0.8" />
<text stroke="#333" stroke-width="0.12" x="497.5" y="72.36" font-size="6.2" text-anchor="end" font-weight="bold" fill="#333" >IL-17F</text>
<text stroke="#333" stroke-width="0.12" x="579.44" y="72.4" font-size="6.3" text-anchor="start" font-weight="normal" fill="#333" >1.80</text>
<rect x="500.5" y="76.18" width="67.26" height="4.4" fill="#7b7b7b" stroke="#3d3d3d" stroke-width="0.85" />
<line x1="497.9" y1="78.38" x2="500.5" y2="78.38" stroke="#4a2326" stroke-width="0.8" />
<text stroke="#333" stroke-width="0.12" x="497.5" y="80.58" font-size="6.2" text-anchor="end" font-weight="bold" fill="#333" >IL-17A</text>
<text stroke="#333" stroke-width="0.12" x="570.56" y="80.61" font-size="6.3" text-anchor="start" font-weight="normal" fill="#333" >1.59</text>
<rect x="500.5" y="84.39" width="52.03" height="4.4" fill="#f1b992" stroke="#d08a5c" stroke-width="0.85" />
<line x1="497.9" y1="86.59" x2="500.5" y2="86.59" stroke="#4a2326" stroke-width="0.8" />
<text stroke="#333" stroke-width="0.12" x="497.5" y="88.79" font-size="6.2" text-anchor="end" font-weight="bold" fill="#333" >IL-12p70</text>
<text stroke="#333" stroke-width="0.12" x="555.33" y="88.83" font-size="6.3" text-anchor="start" font-weight="normal" fill="#333" >1.23</text>
<rect x="500.5" y="92.61" width="126.05" height="4.4" fill="#c97c52" stroke="#94502c" stroke-width="0.85" />
<line x1="497.9" y1="94.81" x2="500.5" y2="94.81" stroke="#4a2326" stroke-width="0.8" />
<text stroke="#333" stroke-width="0.12" x="497.5" y="97.01" font-size="6.2" text-anchor="end" font-weight="bold" fill="#333" >IL-10</text>
<text stroke="#333" stroke-width="0.12" x="629.35" y="97.04" font-size="6.3" text-anchor="start" font-weight="normal" fill="#333" >2.98</text>
<rect x="500.5" y="100.82" width="41.88" height="4.4" fill="#d9504f" stroke="#a92b2b" stroke-width="0.85" />
<line x1="497.9" y1="103.02" x2="500.5" y2="103.02" stroke="#4a2326" stroke-width="0.8" />
<text stroke="#333" stroke-width="0.12" x="497.5" y="105.22" font-size="6.2" text-anchor="end" font-weight="bold" fill="#333" >IL-8</text>
<text stroke="#333" stroke-width="0.12" x="545.18" y="105.26" font-size="6.3" text-anchor="start" font-weight="normal" fill="#333" >0.99</text>
<rect x="500.5" y="109.04" width="85.45" height="4.4" fill="#6f9147" stroke="#45652a" stroke-width="0.85" />
<line x1="497.9" y1="111.24" x2="500.5" y2="111.24" stroke="#4a2326" stroke-width="0.8" />
<text stroke="#333" stroke-width="0.12" x="497.5" y="113.44" font-size="6.2" text-anchor="end" font-weight="bold" fill="#333" >IL-6</text>
<text stroke="#333" stroke-width="0.12" x="588.75" y="113.47" font-size="6.3" text-anchor="start" font-weight="normal" fill="#333" >2.02</text>
<rect x="500.5" y="117.25" width="76.14" height="4.4" fill="#3f413a" stroke="#111" stroke-width="0.85" />
<line x1="497.9" y1="119.45" x2="500.5" y2="119.45" stroke="#4a2326" stroke-width="0.8" />
<text stroke="#333" stroke-width="0.12" x="497.5" y="121.65" font-size="6.2" text-anchor="end" font-weight="bold" fill="#333" >IL-5</text>
<text stroke="#333" stroke-width="0.12" x="579.44" y="121.69" font-size="6.3" text-anchor="start" font-weight="normal" fill="#333" >1.80</text>
<rect x="500.5" y="125.47" width="160.32" height="4.4" fill="#e2803f" stroke="#b2551c" stroke-width="0.85" />
<line x1="497.9" y1="127.67" x2="500.5" y2="127.67" stroke="#4a2326" stroke-width="0.8" />
<text stroke="#333" stroke-width="0.12" x="497.5" y="129.87" font-size="6.2" text-anchor="end" font-weight="bold" fill="#333" >IL-4</text>
<text stroke="#333" stroke-width="0.12" x="663.62" y="129.91" font-size="6.3" text-anchor="start" font-weight="normal" fill="#333" >3.79</text>
<rect x="500.5" y="133.68" width="88.41" height="4.4" fill="#963238" stroke="#5e1418" stroke-width="0.85" />
<line x1="497.9" y1="135.88" x2="500.5" y2="135.88" stroke="#4a2326" stroke-width="0.8" />
<text stroke="#333" stroke-width="0.12" x="497.5" y="138.09" font-size="6.2" text-anchor="end" font-weight="bold" fill="#333" >IL-2</text>
<text stroke="#333" stroke-width="0.12" x="591.71" y="138.12" font-size="6.3" text-anchor="start" font-weight="normal" fill="#333" >2.09</text>
<rect x="500.5" y="141.9" width="101.1" height="4.4" fill="#78504a" stroke="#45261f" stroke-width="0.85" />
<line x1="497.9" y1="144.1" x2="500.5" y2="144.1" stroke="#4a2326" stroke-width="0.8" />
<text stroke="#333" stroke-width="0.12" x="497.5" y="146.3" font-size="6.2" text-anchor="end" font-weight="bold" fill="#333" >IL-1β</text>
<text stroke="#333" stroke-width="0.12" x="604.4" y="146.34" font-size="6.3" text-anchor="start" font-weight="normal" fill="#333" >2.39</text>
<line x1="500.5" y1="29.7" x2="500.5" y2="149.7" stroke="#4a2326" stroke-width="1" />
<line x1="500" y1="149.3" x2="671" y2="149.3" stroke="#4a2326" stroke-width="1" />
<line x1="500.5" y1="149.3" x2="500.5" y2="152.6" stroke="#4a2326" stroke-width="0.9" />
<text stroke="#333" stroke-width="0.12" x="500.5" y="159.79" font-size="5.9" text-anchor="middle" font-weight="bold" fill="#333" >0</text>
<line x1="543" y1="149.3" x2="543" y2="152.6" stroke="#4a2326" stroke-width="0.9" />
<text stroke="#333" stroke-width="0.12" x="543" y="159.79" font-size="5.9" text-anchor="middle" font-weight="bold" fill="#333" >1</text>
<line x1="585.5" y1="149.3" x2="585.5" y2="152.6" stroke="#4a2326" stroke-width="0.9" />
<text stroke="#333" stroke-width="0.12" x="585.5" y="159.79" font-size="5.9" text-anchor="middle" font-weight="bold" fill="#333" >2</text>
<line x1="628" y1="149.3" x2="628" y2="152.6" stroke="#4a2326" stroke-width="0.9" />
<text stroke="#333" stroke-width="0.12" x="628" y="159.79" font-size="5.9" text-anchor="middle" font-weight="bold" fill="#333" >3</text>
<line x1="670.5" y1="149.3" x2="670.5" y2="152.6" stroke="#4a2326" stroke-width="0.9" />
<text stroke="#333" stroke-width="0.12" x="670.5" y="159.79" font-size="5.9" text-anchor="middle" font-weight="bold" fill="#333" >4</text>
<text stroke="#222" stroke-width="0.12" x="584.9" y="169.89" font-size="5.9" text-anchor="middle" font-weight="bold" fill="#222"  textLength="197" lengthAdjust="spacingAndGlyphs">Fold Change of Cytokine of STAD with PD-1 antibody(PD+SD/PR+CR)</text>
<text x="1.1" y="191.5" font-size="13.6" fill="#231f20">D</text>
<line x1="54.5" y1="205.32" x2="91.4" y2="239.04" stroke="#111" stroke-width="0.95" />
<line x1="54.5" y1="271.01" x2="91.4" y2="282.32" stroke="#111" stroke-width="0.95" />
<line x1="54.5" y1="272.97" x2="91.4" y2="292.32" stroke="#111" stroke-width="0.95" />
<line x1="54.5" y1="274.71" x2="91.4" y2="294.5" stroke="#111" stroke-width="0.95" />
<line x1="54.5" y1="292.11" x2="91.4" y2="302.11" stroke="#111" stroke-width="0.95" />
<line x1="54.5" y1="298.41" x2="91.4" y2="303.2" stroke="#111" stroke-width="0.95" />
<line x1="54.5" y1="302.11" x2="91.4" y2="270.79" stroke="#111" stroke-width="0.95" />
<line x1="54.5" y1="302.76" x2="91.4" y2="291.67" stroke="#111" stroke-width="0.95" />
<line x1="54.5" y1="303.2" x2="91.4" y2="292.98" stroke="#111" stroke-width="0.95" />
<line x1="54.5" y1="303.2" x2="91.4" y2="302.76" stroke="#111" stroke-width="0.95" />
<circle cx="54.5" cy="205.32" r="1.65" fill="#d2c6a2"/>
<circle cx="54.5" cy="271.01" r="1.65" fill="#d2c6a2"/>
<circle cx="54.5" cy="272.97" r="1.65" fill="#d2c6a2"/>
<circle cx="54.5" cy="274.71" r="1.65" fill="#d2c6a2"/>
<circle cx="54.5" cy="292.11" r="1.65" fill="#d2c6a2"/>
<circle cx="54.5" cy="298.41" r="1.65" fill="#d2c6a2"/>
<circle cx="54.5" cy="302.11" r="1.65" fill="#d2c6a2"/>
<circle cx="54.5" cy="302.76" r="1.65" fill="#d2c6a2"/>
<circle cx="54.5" cy="303.2" r="1.65" fill="#d2c6a2"/>
<circle cx="54.5" cy="303.2" r="1.65" fill="#d2c6a2"/>
<circle cx="91.4" cy="239.04" r="1.65" fill="#4fa5a1"/>
<circle cx="91.4" cy="282.32" r="1.65" fill="#4fa5a1"/>
<circle cx="91.4" cy="292.32" r="1.65" fill="#4fa5a1"/>
<circle cx="91.4" cy="294.5" r="1.65" fill="#4fa5a1"/>
<circle cx="91.4" cy="302.11" r="1.65" fill="#4fa5a1"/>
<circle cx="91.4" cy="303.2" r="1.65" fill="#4fa5a1"/>
<circle cx="91.4" cy="270.79" r="1.65" fill="#4fa5a1"/>
<circle cx="91.4" cy="291.67" r="1.65" fill="#4fa5a1"/>
<circle cx="91.4" cy="292.98" r="1.65" fill="#4fa5a1"/>
<circle cx="91.4" cy="302.76" r="1.65" fill="#4fa5a1"/>
<line x1="29.6" y1="194.45" x2="29.6" y2="303.8" stroke="#111" stroke-width="1.25" />
<line x1="29" y1="303.2" x2="116.7" y2="303.2" stroke="#111" stroke-width="1.25" />
<line x1="26.2" y1="303.2" x2="29.6" y2="303.2" stroke="#111" stroke-width="0.9" />
<text stroke="#222" stroke-width="0.12" x="25.8" y="304.83" font-size="4.6" text-anchor="end" font-weight="bold" fill="#222" >0</text>
<line x1="26.2" y1="281.45" x2="29.6" y2="281.45" stroke="#111" stroke-width="0.9" />
<text stroke="#222" stroke-width="0.12" x="25.8" y="283.08" font-size="4.6" text-anchor="end" font-weight="bold" fill="#222" >1</text>
<line x1="26.2" y1="259.7" x2="29.6" y2="259.7" stroke="#111" stroke-width="0.9" />
<text stroke="#222" stroke-width="0.12" x="25.8" y="261.33" font-size="4.6" text-anchor="end" font-weight="bold" fill="#222" >2</text>
<line x1="26.2" y1="237.95" x2="29.6" y2="237.95" stroke="#111" stroke-width="0.9" />
<text stroke="#222" stroke-width="0.12" x="25.8" y="239.58" font-size="4.6" text-anchor="end" font-weight="bold" fill="#222" >3</text>
<line x1="26.2" y1="216.2" x2="29.6" y2="216.2" stroke="#111" stroke-width="0.9" />
<text stroke="#222" stroke-width="0.12" x="25.8" y="217.83" font-size="4.6" text-anchor="end" font-weight="bold" fill="#222" >4</text>
<line x1="26.2" y1="194.45" x2="29.6" y2="194.45" stroke="#111" stroke-width="0.9" />
<text stroke="#222" stroke-width="0.12" x="25.8" y="196.08" font-size="4.6" text-anchor="end" font-weight="bold" fill="#222" >5</text>
<line x1="54.5" y1="303.2" x2="54.5" y2="306.2" stroke="#111" stroke-width="1" />
<line x1="91.4" y1="303.2" x2="91.4" y2="306.2" stroke="#111" stroke-width="1" />
<text stroke="#222" stroke-width="0.12" x="55.4" y="311.59" font-size="5.6" text-anchor="middle" font-weight="bold" fill="#222" >Before PD</text>
<text stroke="#222" stroke-width="0.12" x="91.8" y="311.59" font-size="5.6" text-anchor="middle" font-weight="bold" fill="#222" >After PD</text>
<line x1="53.5" y1="193.3" x2="93.4" y2="193.3" stroke="#2a2a2a" stroke-width="1.35" />
<text stroke="#333" stroke-width="0.12" x="73.5" y="190.59" font-size="5.9" text-anchor="middle" font-weight="normal" fill="#333" >ns</text>
<text stroke="#222" stroke-width="0.12" transform="translate(19.78,248.4) rotate(-90)" font-size="5.3" text-anchor="middle" font-weight="bold" fill="#222"  textLength="124" lengthAdjust="spacingAndGlyphs">IL-1β of STAD with PD-1 antibody(pg/ml), n=10</text>
<line x1="162.1" y1="276.62" x2="197.2" y2="230.95" stroke="#111" stroke-width="0.95" />
<line x1="162.1" y1="300.08" x2="197.2" y2="304.19" stroke="#111" stroke-width="0.95" />
<line x1="162.1" y1="301.72" x2="197.2" y2="300.9" stroke="#111" stroke-width="0.95" />
<line x1="162.1" y1="302.96" x2="197.2" y2="307.49" stroke="#111" stroke-width="0.95" />
<line x1="162.1" y1="304.19" x2="197.2" y2="302.55" stroke="#111" stroke-width="0.95" />
<line x1="162.1" y1="305.84" x2="197.2" y2="309.95" stroke="#111" stroke-width="0.95" />
<line x1="162.1" y1="307.07" x2="197.2" y2="305.43" stroke="#111" stroke-width="0.95" />
<line x1="162.1" y1="308.72" x2="197.2" y2="303.37" stroke="#111" stroke-width="0.95" />
<line x1="162.1" y1="309.95" x2="197.2" y2="306.66" stroke="#111" stroke-width="0.95" />
<line x1="162.1" y1="311.19" x2="197.2" y2="308.72" stroke="#111" stroke-width="0.95" />
<circle cx="162.1" cy="276.62" r="1.65" fill="#d2c6a2"/>
<circle cx="162.1" cy="300.08" r="1.65" fill="#d2c6a2"/>
<circle cx="162.1" cy="301.72" r="1.65" fill="#d2c6a2"/>
<circle cx="162.1" cy="302.96" r="1.65" fill="#d2c6a2"/>
<circle cx="162.1" cy="304.19" r="1.65" fill="#d2c6a2"/>
<circle cx="162.1" cy="305.84" r="1.65" fill="#d2c6a2"/>
<circle cx="162.1" cy="307.07" r="1.65" fill="#d2c6a2"/>
<circle cx="162.1" cy="308.72" r="1.65" fill="#d2c6a2"/>
<circle cx="162.1" cy="309.95" r="1.65" fill="#d2c6a2"/>
<circle cx="162.1" cy="311.19" r="1.65" fill="#d2c6a2"/>
<circle cx="197.2" cy="230.95" r="1.65" fill="#4fa5a1"/>
<circle cx="197.2" cy="304.19" r="1.65" fill="#4fa5a1"/>
<circle cx="197.2" cy="300.9" r="1.65" fill="#4fa5a1"/>
<circle cx="197.2" cy="307.49" r="1.65" fill="#4fa5a1"/>
<circle cx="197.2" cy="302.55" r="1.65" fill="#4fa5a1"/>
<circle cx="197.2" cy="309.95" r="1.65" fill="#4fa5a1"/>
<circle cx="197.2" cy="305.43" r="1.65" fill="#4fa5a1"/>
<circle cx="197.2" cy="303.37" r="1.65" fill="#4fa5a1"/>
<circle cx="197.2" cy="306.66" r="1.65" fill="#4fa5a1"/>
<circle cx="197.2" cy="308.72" r="1.65" fill="#4fa5a1"/>
<line x1="139.2" y1="188.15" x2="139.2" y2="312.2" stroke="#111" stroke-width="1.25" />
<line x1="138.6" y1="311.6" x2="220.9" y2="311.6" stroke="#111" stroke-width="1.25" />
<line x1="135.8" y1="311.6" x2="139.2" y2="311.6" stroke="#111" stroke-width="0.9" />
<text stroke="#222" stroke-width="0.12" x="135.4" y="313.48" font-size="5.3" text-anchor="end" font-weight="bold" fill="#222" >0</text>
<line x1="135.8" y1="270.45" x2="139.2" y2="270.45" stroke="#111" stroke-width="0.9" />
<text stroke="#222" stroke-width="0.12" x="135.4" y="272.33" font-size="5.3" text-anchor="end" font-weight="bold" fill="#222" >5</text>
<line x1="135.8" y1="229.3" x2="139.2" y2="229.3" stroke="#111" stroke-width="0.9" />
<text stroke="#222" stroke-width="0.12" x="135.4" y="231.18" font-size="5.3" text-anchor="end" font-weight="bold" fill="#222" >10</text>
<line x1="135.8" y1="188.15" x2="139.2" y2="188.15" stroke="#111" stroke-width="0.9" />
<text stroke="#222" stroke-width="0.12" x="135.4" y="190.03" font-size="5.3" text-anchor="end" font-weight="bold" fill="#222" >15</text>
<line x1="137.2" y1="303.37" x2="139.2" y2="303.37" stroke="#111" stroke-width="0.7" />
<line x1="137.2" y1="295.14" x2="139.2" y2="295.14" stroke="#111" stroke-width="0.7" />
<line x1="137.2" y1="286.91" x2="139.2" y2="286.91" stroke="#111" stroke-width="0.7" />
<line x1="137.2" y1="278.68" x2="139.2" y2="278.68" stroke="#111" stroke-width="0.7" />
<line x1="137.2" y1="262.22" x2="139.2" y2="262.22" stroke="#111" stroke-width="0.7" />
<line x1="137.2" y1="253.99" x2="139.2" y2="253.99" stroke="#111" stroke-width="0.7" />
<line x1="137.2" y1="245.76" x2="139.2" y2="245.76" stroke="#111" stroke-width="0.7" />
<line x1="137.2" y1="237.53" x2="139.2" y2="237.53" stroke="#111" stroke-width="0.7" />
<line x1="137.2" y1="221.07" x2="139.2" y2="221.07" stroke="#111" stroke-width="0.7" />
<line x1="137.2" y1="212.84" x2="139.2" y2="212.84" stroke="#111" stroke-width="0.7" />
<line x1="137.2" y1="204.61" x2="139.2" y2="204.61" stroke="#111" stroke-width="0.7" />
<line x1="137.2" y1="196.38" x2="139.2" y2="196.38" stroke="#111" stroke-width="0.7" />
<line x1="162.1" y1="311.6" x2="162.1" y2="314.6" stroke="#111" stroke-width="1" />
<line x1="197.2" y1="311.6" x2="197.2" y2="314.6" stroke="#111" stroke-width="1" />
<text stroke="#222" stroke-width="0.12" x="162.1" y="321.65" font-size="6.35" text-anchor="middle" font-weight="bold" fill="#222" >Before PD</text>
<text stroke="#222" stroke-width="0.12" x="197.5" y="321.65" font-size="6.35" text-anchor="middle" font-weight="bold" fill="#222" >After PD</text>
<line x1="157.7" y1="187.1" x2="199.1" y2="187.1" stroke="#2a2a2a" stroke-width="1.35" />
<text stroke="#333" stroke-width="0.12" x="178.1" y="183.89" font-size="5.9" text-anchor="middle" font-weight="normal" fill="#333" >ns</text>
<text stroke="#222" stroke-width="0.12" transform="translate(124.84,249.7) rotate(-90)" font-size="6.3" text-anchor="middle" font-weight="bold" fill="#222"  textLength="135.8" lengthAdjust="spacingAndGlyphs">IL-2 of STAD with PD-1 antibody(pg/ml), n=10</text>
<line x1="270.4" y1="224.95" x2="312.3" y2="206.38" stroke="#111" stroke-width="0.95" />
<line x1="270.4" y1="297.62" x2="312.3" y2="256.77" stroke="#111" stroke-width="0.95" />
<line x1="270.4" y1="298.24" x2="312.3" y2="261.1" stroke="#111" stroke-width="0.95" />
<line x1="270.4" y1="290.19" x2="312.3" y2="281.53" stroke="#111" stroke-width="0.95" />
<line x1="270.4" y1="292.67" x2="312.3" y2="293.29" stroke="#111" stroke-width="0.95" />
<line x1="270.4" y1="295.14" x2="312.3" y2="295.14" stroke="#111" stroke-width="0.95" />
<line x1="270.4" y1="298.86" x2="312.3" y2="297.62" stroke="#111" stroke-width="0.95" />
<line x1="270.4" y1="300.1" x2="312.3" y2="301.33" stroke="#111" stroke-width="0.95" />
<line x1="270.4" y1="299.48" x2="312.3" y2="303.19" stroke="#111" stroke-width="0.95" />
<line x1="270.4" y1="304.43" x2="312.3" y2="305.05" stroke="#111" stroke-width="0.95" />
<circle cx="270.4" cy="224.95" r="1.65" fill="#d2c6a2"/>
<circle cx="270.4" cy="297.62" r="1.65" fill="#d2c6a2"/>
<circle cx="270.4" cy="298.24" r="1.65" fill="#d2c6a2"/>
<circle cx="270.4" cy="290.19" r="1.65" fill="#d2c6a2"/>
<circle cx="270.4" cy="292.67" r="1.65" fill="#d2c6a2"/>
<circle cx="270.4" cy="295.14" r="1.65" fill="#d2c6a2"/>
<circle cx="270.4" cy="298.86" r="1.65" fill="#d2c6a2"/>
<circle cx="270.4" cy="300.1" r="1.65" fill="#d2c6a2"/>
<circle cx="270.4" cy="299.48" r="1.65" fill="#d2c6a2"/>
<circle cx="270.4" cy="304.43" r="1.65" fill="#d2c6a2"/>
<circle cx="312.3" cy="206.38" r="1.65" fill="#4fa5a1"/>
<circle cx="312.3" cy="256.77" r="1.65" fill="#4fa5a1"/>
<circle cx="312.3" cy="261.1" r="1.65" fill="#4fa5a1"/>
<circle cx="312.3" cy="281.53" r="1.65" fill="#4fa5a1"/>
<circle cx="312.3" cy="293.29" r="1.65" fill="#4fa5a1"/>
<circle cx="312.3" cy="295.14" r="1.65" fill="#4fa5a1"/>
<circle cx="312.3" cy="297.62" r="1.65" fill="#4fa5a1"/>
<circle cx="312.3" cy="301.33" r="1.65" fill="#4fa5a1"/>
<circle cx="312.3" cy="303.19" r="1.65" fill="#4fa5a1"/>
<circle cx="312.3" cy="305.05" r="1.65" fill="#4fa5a1"/>
<line x1="241.9" y1="186.2" x2="241.9" y2="310.6" stroke="#111" stroke-width="1.25" />
<line x1="241.3" y1="310" x2="341" y2="310" stroke="#111" stroke-width="1.25" />
<line x1="238.5" y1="310" x2="241.9" y2="310" stroke="#111" stroke-width="0.9" />
<text stroke="#222" stroke-width="0.12" x="238.1" y="312.09" font-size="5.9" text-anchor="end" font-weight="bold" fill="#222" >0</text>
<line x1="238.5" y1="285.24" x2="241.9" y2="285.24" stroke="#111" stroke-width="0.9" />
<text stroke="#222" stroke-width="0.12" x="238.1" y="287.33" font-size="5.9" text-anchor="end" font-weight="bold" fill="#222" >2</text>
<line x1="238.5" y1="260.48" x2="241.9" y2="260.48" stroke="#111" stroke-width="0.9" />
<text stroke="#222" stroke-width="0.12" x="238.1" y="262.57" font-size="5.9" text-anchor="end" font-weight="bold" fill="#222" >4</text>
<line x1="238.5" y1="235.72" x2="241.9" y2="235.72" stroke="#111" stroke-width="0.9" />
<text stroke="#222" stroke-width="0.12" x="238.1" y="237.81" font-size="5.9" text-anchor="end" font-weight="bold" fill="#222" >6</text>
<line x1="238.5" y1="210.96" x2="241.9" y2="210.96" stroke="#111" stroke-width="0.9" />
<text stroke="#222" stroke-width="0.12" x="238.1" y="213.05" font-size="5.9" text-anchor="end" font-weight="bold" fill="#222" >8</text>
<line x1="238.5" y1="186.2" x2="241.9" y2="186.2" stroke="#111" stroke-width="0.9" />
<text stroke="#222" stroke-width="0.12" x="238.1" y="188.29" font-size="5.9" text-anchor="end" font-weight="bold" fill="#222" >10</text>
<line x1="270.4" y1="310" x2="270.4" y2="313" stroke="#111" stroke-width="1" />
<line x1="312.3" y1="310" x2="312.3" y2="313" stroke="#111" stroke-width="1" />
<text stroke="#222" stroke-width="0.12" x="271.4" y="319.69" font-size="6.45" text-anchor="middle" font-weight="bold" fill="#222" >Before PD</text>
<text stroke="#222" stroke-width="0.12" x="313.8" y="319.69" font-size="6.45" text-anchor="middle" font-weight="bold" fill="#222" >After PD</text>
<line x1="269.1" y1="185.1" x2="314.8" y2="185.1" stroke="#2a2a2a" stroke-width="1.35" />
<text stroke="#111" stroke-width="0.12" x="292.2" y="183.05" font-size="8.6" text-anchor="middle" font-weight="bold" fill="#111" >*</text>
<text stroke="#222" stroke-width="0.12" transform="translate(228.34,247.4) rotate(-90)" font-size="6.3" text-anchor="middle" font-weight="bold" fill="#222"  textLength="137" lengthAdjust="spacingAndGlyphs">IL-4 of STAD with PD-1 antibody(pg/ml), n=10</text>
<line x1="53.8" y1="360.96" x2="90.6" y2="384.35" stroke="#111" stroke-width="0.95" />
<line x1="53.8" y1="428.99" x2="90.6" y2="436.43" stroke="#111" stroke-width="0.95" />
<line x1="53.8" y1="430.59" x2="90.6" y2="434.84" stroke="#111" stroke-width="0.95" />
<line x1="53.8" y1="432.18" x2="90.6" y2="439.62" stroke="#111" stroke-width="0.95" />
<line x1="53.8" y1="433.78" x2="90.6" y2="440.69" stroke="#111" stroke-width="0.95" />
<line x1="53.8" y1="435.37" x2="90.6" y2="434.31" stroke="#111" stroke-width="0.95" />
<line x1="53.8" y1="436.96" x2="90.6" y2="435.37" stroke="#111" stroke-width="0.95" />
<line x1="53.8" y1="438.56" x2="90.6" y2="437.5" stroke="#111" stroke-width="0.95" />
<line x1="53.8" y1="440.15" x2="90.6" y2="433.24" stroke="#111" stroke-width="0.95" />
<line x1="53.8" y1="441.75" x2="90.6" y2="428.35" stroke="#111" stroke-width="0.95" />
<line x1="53.8" y1="443.02" x2="90.6" y2="438.56" stroke="#111" stroke-width="0.95" />
<circle cx="53.8" cy="360.96" r="1.65" fill="#d2c6a2"/>
<circle cx="53.8" cy="428.99" r="1.65" fill="#d2c6a2"/>
<circle cx="53.8" cy="430.59" r="1.65" fill="#d2c6a2"/>
<circle cx="53.8" cy="432.18" r="1.65" fill="#d2c6a2"/>
<circle cx="53.8" cy="433.78" r="1.65" fill="#d2c6a2"/>
<circle cx="53.8" cy="435.37" r="1.65" fill="#d2c6a2"/>
<circle cx="53.8" cy="436.96" r="1.65" fill="#d2c6a2"/>
<circle cx="53.8" cy="438.56" r="1.65" fill="#d2c6a2"/>
<circle cx="53.8" cy="440.15" r="1.65" fill="#d2c6a2"/>
<circle cx="53.8" cy="441.75" r="1.65" fill="#d2c6a2"/>
<circle cx="53.8" cy="443.02" r="1.65" fill="#d2c6a2"/>
<circle cx="90.6" cy="384.35" r="1.65" fill="#4fa5a1"/>
<circle cx="90.6" cy="436.43" r="1.65" fill="#4fa5a1"/>
<circle cx="90.6" cy="434.84" r="1.65" fill="#4fa5a1"/>
<circle cx="90.6" cy="439.62" r="1.65" fill="#4fa5a1"/>
<circle cx="90.6" cy="440.69" r="1.65" fill="#4fa5a1"/>
<circle cx="90.6" cy="434.31" r="1.65" fill="#4fa5a1"/>
<circle cx="90.6" cy="435.37" r="1.65" fill="#4fa5a1"/>
<circle cx="90.6" cy="437.5" r="1.65" fill="#4fa5a1"/>
<circle cx="90.6" cy="433.24" r="1.65" fill="#4fa5a1"/>
<circle cx="90.6" cy="428.35" r="1.65" fill="#4fa5a1"/>
<circle cx="90.6" cy="438.56" r="1.65" fill="#4fa5a1"/>
<line x1="29.6" y1="339.7" x2="29.6" y2="446.6" stroke="#111" stroke-width="1.25" />
<line x1="29" y1="446" x2="114.8" y2="446" stroke="#111" stroke-width="1.25" />
<line x1="26.2" y1="446" x2="29.6" y2="446" stroke="#111" stroke-width="0.9" />
<text stroke="#222" stroke-width="0.12" x="25.8" y="447.63" font-size="4.6" text-anchor="end" font-weight="bold" fill="#222" >0</text>
<line x1="26.2" y1="424.74" x2="29.6" y2="424.74" stroke="#111" stroke-width="0.9" />
<text stroke="#222" stroke-width="0.12" x="25.8" y="426.37" font-size="4.6" text-anchor="end" font-weight="bold" fill="#222" >2</text>
<line x1="26.2" y1="403.48" x2="29.6" y2="403.48" stroke="#111" stroke-width="0.9" />
<text stroke="#222" stroke-width="0.12" x="25.8" y="405.11" font-size="4.6" text-anchor="end" font-weight="bold" fill="#222" >4</text>
<line x1="26.2" y1="382.22" x2="29.6" y2="382.22" stroke="#111" stroke-width="0.9" />
<text stroke="#222" stroke-width="0.12" x="25.8" y="383.85" font-size="4.6" text-anchor="end" font-weight="bold" fill="#222" >6</text>
<line x1="26.2" y1="360.96" x2="29.6" y2="360.96" stroke="#111" stroke-width="0.9" />
<text stroke="#222" stroke-width="0.12" x="25.8" y="362.59" font-size="4.6" text-anchor="end" font-weight="bold" fill="#222" >8</text>
<line x1="26.2" y1="339.7" x2="29.6" y2="339.7" stroke="#111" stroke-width="0.9" />
<text stroke="#222" stroke-width="0.12" x="25.8" y="341.33" font-size="4.6" text-anchor="end" font-weight="bold" fill="#222" >10</text>
<line x1="53.8" y1="446" x2="53.8" y2="449" stroke="#111" stroke-width="1" />
<line x1="90.6" y1="446" x2="90.6" y2="449" stroke="#111" stroke-width="1" />
<text stroke="#222" stroke-width="0.12" x="55.6" y="454.59" font-size="5.6" text-anchor="middle" font-weight="bold" fill="#222" >Before PD</text>
<text stroke="#222" stroke-width="0.12" x="91.5" y="454.59" font-size="5.6" text-anchor="middle" font-weight="bold" fill="#222" >After PD</text>
<line x1="52.9" y1="338.9" x2="92.4" y2="338.9" stroke="#2a2a2a" stroke-width="1.35" />
<text stroke="#333" stroke-width="0.12" x="72.6" y="336.09" font-size="5.9" text-anchor="middle" font-weight="normal" fill="#333" >ns</text>
<text stroke="#222" stroke-width="0.12" transform="translate(19.78,392.6) rotate(-90)" font-size="5.3" text-anchor="middle" font-weight="bold" fill="#222"  textLength="118" lengthAdjust="spacingAndGlyphs">IL-5 of STAD with PD-1 antibody(pg/ml), n=10</text>
<line x1="160.8" y1="400.98" x2="197.5" y2="357.27" stroke="#111" stroke-width="0.95" />
<line x1="160.8" y1="412.35" x2="197.5" y2="433.86" stroke="#111" stroke-width="0.95" />
<line x1="160.8" y1="428.38" x2="197.5" y2="438.65" stroke="#111" stroke-width="0.95" />
<line x1="160.8" y1="438.65" x2="197.5" y2="445.23" stroke="#111" stroke-width="0.95" />
<line x1="160.8" y1="439.75" x2="197.5" y2="445.5" stroke="#111" stroke-width="0.95" />
<line x1="160.8" y1="441.39" x2="197.5" y2="444.81" stroke="#111" stroke-width="0.95" />
<line x1="160.8" y1="443.03" x2="197.5" y2="445.5" stroke="#111" stroke-width="0.95" />
<line x1="160.8" y1="444.13" x2="197.5" y2="445.5" stroke="#111" stroke-width="0.95" />
<line x1="160.8" y1="444.81" x2="197.5" y2="445.23" stroke="#111" stroke-width="0.95" />
<line x1="160.8" y1="445.5" x2="197.5" y2="445.5" stroke="#111" stroke-width="0.95" />
<circle cx="160.8" cy="400.98" r="1.65" fill="#d2c6a2"/>
<circle cx="160.8" cy="412.35" r="1.65" fill="#d2c6a2"/>
<circle cx="160.8" cy="428.38" r="1.65" fill="#d2c6a2"/>
<circle cx="160.8" cy="438.65" r="1.65" fill="#d2c6a2"/>
<circle cx="160.8" cy="439.75" r="1.65" fill="#d2c6a2"/>
<circle cx="160.8" cy="441.39" r="1.65" fill="#d2c6a2"/>
<circle cx="160.8" cy="443.03" r="1.65" fill="#d2c6a2"/>
<circle cx="160.8" cy="444.13" r="1.65" fill="#d2c6a2"/>
<circle cx="160.8" cy="444.81" r="1.65" fill="#d2c6a2"/>
<circle cx="160.8" cy="445.5" r="1.65" fill="#d2c6a2"/>
<circle cx="197.5" cy="357.27" r="1.65" fill="#4fa5a1"/>
<circle cx="197.5" cy="433.86" r="1.65" fill="#4fa5a1"/>
<circle cx="197.5" cy="438.65" r="1.65" fill="#4fa5a1"/>
<circle cx="197.5" cy="445.23" r="1.65" fill="#4fa5a1"/>
<circle cx="197.5" cy="445.5" r="1.65" fill="#4fa5a1"/>
<circle cx="197.5" cy="444.81" r="1.65" fill="#4fa5a1"/>
<circle cx="197.5" cy="445.5" r="1.65" fill="#4fa5a1"/>
<circle cx="197.5" cy="445.5" r="1.65" fill="#4fa5a1"/>
<circle cx="197.5" cy="445.23" r="1.65" fill="#4fa5a1"/>
<circle cx="197.5" cy="445.5" r="1.65" fill="#4fa5a1"/>
<line x1="135.9" y1="335.9" x2="135.9" y2="446.1" stroke="#111" stroke-width="1.25" />
<line x1="135.3" y1="445.5" x2="223" y2="445.5" stroke="#111" stroke-width="1.25" />
<line x1="132.5" y1="445.5" x2="135.9" y2="445.5" stroke="#111" stroke-width="0.9" />
<text stroke="#222" stroke-width="0.12" x="132.1" y="447.13" font-size="4.6" text-anchor="end" font-weight="bold" fill="#222" >0</text>
<line x1="132.5" y1="418.1" x2="135.9" y2="418.1" stroke="#111" stroke-width="0.9" />
<text stroke="#222" stroke-width="0.12" x="132.1" y="419.73" font-size="4.6" text-anchor="end" font-weight="bold" fill="#222" >2</text>
<line x1="132.5" y1="390.7" x2="135.9" y2="390.7" stroke="#111" stroke-width="0.9" />
<text stroke="#222" stroke-width="0.12" x="132.1" y="392.33" font-size="4.6" text-anchor="end" font-weight="bold" fill="#222" >4</text>
<line x1="132.5" y1="363.3" x2="135.9" y2="363.3" stroke="#111" stroke-width="0.9" />
<text stroke="#222" stroke-width="0.12" x="132.1" y="364.93" font-size="4.6" text-anchor="end" font-weight="bold" fill="#222" >6</text>
<line x1="132.5" y1="335.9" x2="135.9" y2="335.9" stroke="#111" stroke-width="0.9" />
<text stroke="#222" stroke-width="0.12" x="132.1" y="337.53" font-size="4.6" text-anchor="end" font-weight="bold" fill="#222" >8</text>
<line x1="160.8" y1="445.5" x2="160.8" y2="448.5" stroke="#111" stroke-width="1" />
<line x1="197.5" y1="445.5" x2="197.5" y2="448.5" stroke="#111" stroke-width="1" />
<text stroke="#222" stroke-width="0.12" x="161.1" y="454.29" font-size="5.6" text-anchor="middle" font-weight="bold" fill="#222" >Before PD</text>
<text stroke="#222" stroke-width="0.12" x="198.4" y="454.29" font-size="5.6" text-anchor="middle" font-weight="bold" fill="#222" >After PD</text>
<line x1="159.6" y1="335" x2="199.9" y2="335" stroke="#2a2a2a" stroke-width="1.35" />
<text stroke="#333" stroke-width="0.12" x="180" y="332.09" font-size="5.9" text-anchor="middle" font-weight="normal" fill="#333" >ns</text>
<text stroke="#222" stroke-width="0.12" transform="translate(125.48,390.4) rotate(-90)" font-size="5.3" text-anchor="middle" font-weight="bold" fill="#222"  textLength="123" lengthAdjust="spacingAndGlyphs">IL-22 of STAD with PD-1 antibody(pg/ml), n=10</text>
<text x="213.9" y="331.6" font-size="13.6" fill="#231f20">E</text>
<circle cx="268.82" cy="353.78" r="1.75" fill="#d2c6a2"/>
<circle cx="265.41" cy="360.42" r="1.75" fill="#d2c6a2"/>
<circle cx="272.24" cy="363.64" r="1.75" fill="#d2c6a2"/>
<circle cx="265.41" cy="366.11" r="1.75" fill="#d2c6a2"/>
<circle cx="265.41" cy="370.85" r="1.75" fill="#d2c6a2"/>
<circle cx="272.24" cy="369.91" r="1.75" fill="#d2c6a2"/>
<circle cx="265.41" cy="378.25" r="1.75" fill="#d2c6a2"/>
<circle cx="272.24" cy="378.25" r="1.75" fill="#d2c6a2"/>
<circle cx="272.24" cy="383.57" r="1.75" fill="#d2c6a2"/>
<circle cx="258.39" cy="386.79" r="1.75" fill="#d2c6a2"/>
<circle cx="265.41" cy="389.26" r="1.75" fill="#d2c6a2"/>
<circle cx="272.24" cy="389.26" r="1.75" fill="#d2c6a2"/>
<circle cx="258.39" cy="387.02" r="1.75" fill="#d2c6a2"/>
<circle cx="265.41" cy="389.49" r="1.75" fill="#d2c6a2"/>
<circle cx="272.24" cy="389.49" r="1.75" fill="#d2c6a2"/>
<circle cx="258.39" cy="396.13" r="1.75" fill="#d2c6a2"/>
<circle cx="265.41" cy="393.66" r="1.75" fill="#d2c6a2"/>
<circle cx="272.24" cy="395.56" r="1.75" fill="#d2c6a2"/>
<circle cx="279.26" cy="394.61" r="1.75" fill="#d2c6a2"/>
<circle cx="272.24" cy="383.8" r="1.75" fill="#d2c6a2"/>
<circle cx="300.7" cy="344.67" r="1.75" fill="#4fa5a1"/>
<circle cx="306.2" cy="346.57" r="1.75" fill="#4fa5a1"/>
<circle cx="316.83" cy="346" r="1.75" fill="#4fa5a1"/>
<circle cx="295.39" cy="353.59" r="1.75" fill="#4fa5a1"/>
<circle cx="300.51" cy="352.26" r="1.75" fill="#4fa5a1"/>
<circle cx="306.2" cy="352.26" r="1.75" fill="#4fa5a1"/>
<circle cx="311.52" cy="348.84" r="1.75" fill="#4fa5a1"/>
<circle cx="311.52" cy="355.1" r="1.75" fill="#4fa5a1"/>
<circle cx="317.21" cy="354.72" r="1.75" fill="#4fa5a1"/>
<circle cx="300.7" cy="364.59" r="1.75" fill="#4fa5a1"/>
<circle cx="306.2" cy="364.59" r="1.75" fill="#4fa5a1"/>
<circle cx="311.52" cy="364.59" r="1.75" fill="#4fa5a1"/>
<circle cx="300.7" cy="368.77" r="1.75" fill="#4fa5a1"/>
<circle cx="306.2" cy="368.77" r="1.75" fill="#4fa5a1"/>
<circle cx="311.52" cy="368.77" r="1.75" fill="#4fa5a1"/>
<circle cx="295.39" cy="376.36" r="1.75" fill="#4fa5a1"/>
<circle cx="300.7" cy="376.36" r="1.75" fill="#4fa5a1"/>
<circle cx="306.2" cy="374.46" r="1.75" fill="#4fa5a1"/>
<circle cx="311.52" cy="379.39" r="1.75" fill="#4fa5a1"/>
<circle cx="316.83" cy="376.36" r="1.75" fill="#4fa5a1"/>
<circle cx="306.2" cy="381.29" r="1.75" fill="#4fa5a1"/>
<circle cx="300.7" cy="385.84" r="1.75" fill="#4fa5a1"/>
<circle cx="306.2" cy="385.84" r="1.75" fill="#4fa5a1"/>
<circle cx="311.52" cy="388.31" r="1.75" fill="#4fa5a1"/>
<circle cx="306.2" cy="391.54" r="1.75" fill="#4fa5a1"/>
<circle cx="306.2" cy="396.85" r="1.75" fill="#4fa5a1"/>
<circle cx="300.7" cy="385.69" r="1.75" fill="#4fa5a1"/>
<circle cx="306.2" cy="385.69" r="1.75" fill="#4fa5a1"/>
<circle cx="311.52" cy="388.54" r="1.75" fill="#4fa5a1"/>
<circle cx="306.2" cy="391.39" r="1.75" fill="#4fa5a1"/>
<circle cx="306.2" cy="397.08" r="1.75" fill="#4fa5a1"/>
<circle cx="306.2" cy="381.52" r="1.75" fill="#4fa5a1"/>
<circle cx="311.52" cy="380" r="1.75" fill="#4fa5a1"/>
<line x1="256.1" y1="381.1" x2="281.2" y2="381.1" stroke="#7d7171" stroke-width="1.1" />
<line x1="293.5" y1="368.8" x2="318.5" y2="368.8" stroke="#7d7171" stroke-width="1.1" />
<line x1="243.8" y1="334.8" x2="243.8" y2="446.5" stroke="#111" stroke-width="1.1" />
<line x1="243.3" y1="446" x2="331.4" y2="446" stroke="#111" stroke-width="1.1" />
<line x1="241" y1="446" x2="243.8" y2="446" stroke="#111" stroke-width="0.8" />
<text stroke="#222" stroke-width="0.12" x="240.2" y="447.85" font-size="5.2" text-anchor="end" font-weight="bold" fill="#222" >0</text>
<line x1="241" y1="423.9" x2="243.8" y2="423.9" stroke="#111" stroke-width="0.8" />
<text stroke="#222" stroke-width="0.12" x="240.2" y="425.75" font-size="5.2" text-anchor="end" font-weight="bold" fill="#222" >5</text>
<line x1="241" y1="401.8" x2="243.8" y2="401.8" stroke="#111" stroke-width="0.8" />
<text stroke="#222" stroke-width="0.12" x="240.2" y="403.65" font-size="5.2" text-anchor="end" font-weight="bold" fill="#222" >10</text>
<line x1="241" y1="379.7" x2="243.8" y2="379.7" stroke="#111" stroke-width="0.8" />
<text stroke="#222" stroke-width="0.12" x="240.2" y="381.55" font-size="5.2" text-anchor="end" font-weight="bold" fill="#222" >15</text>
<line x1="241" y1="357.6" x2="243.8" y2="357.6" stroke="#111" stroke-width="0.8" />
<text stroke="#222" stroke-width="0.12" x="240.2" y="359.45" font-size="5.2" text-anchor="end" font-weight="bold" fill="#222" >20</text>
<line x1="241" y1="335.5" x2="243.8" y2="335.5" stroke="#111" stroke-width="0.8" />
<text stroke="#222" stroke-width="0.12" x="240.2" y="337.35" font-size="5.2" text-anchor="end" font-weight="bold" fill="#222" >25</text>
<line x1="268.8" y1="446" x2="268.8" y2="448.4" stroke="#111" stroke-width="0.8" />
<line x1="306.4" y1="446" x2="306.4" y2="448.4" stroke="#111" stroke-width="0.8" />
<text stroke="#222" stroke-width="0.12" x="268.8" y="455.08" font-size="5.3" text-anchor="middle" font-weight="bold" fill="#222" >PR+CR</text>
<text stroke="#222" stroke-width="0.12" x="306.6" y="455.08" font-size="5.3" text-anchor="middle" font-weight="bold" fill="#222" >PD+SD</text>
<line x1="268.3" y1="332.9" x2="307.7" y2="332.9" stroke="#111" stroke-width="1.1" />
<text stroke="#111" stroke-width="0.12" x="287.8" y="332.85" font-size="8.6" text-anchor="middle" font-weight="bold" fill="#111" >*</text>
<text stroke="#222" stroke-width="0.12" transform="translate(231.78,390.7) rotate(-90)" font-size="5.3" text-anchor="middle" font-weight="bold" fill="#222"  textLength="124.5" lengthAdjust="spacingAndGlyphs">IL-13 of STAD with PD-1 antibody(pg/ml), n=43</text>
<text x="338.7" y="190.3" font-size="13.6" fill="#231f20">F</text>
<rect x="385.2" y="241.04" width="22.1" height="60.66" fill="#cde1e8" stroke="#222" stroke-width="0.8" />
<text stroke="#333" stroke-width="0.12" x="396.25" y="273.61" font-size="6.3" text-anchor="middle" font-weight="normal" fill="#333" >36</text>
<rect x="385.2" y="225.88" width="22.1" height="15.17" fill="#d8cba7" stroke="#222" stroke-width="0.8" />
<text stroke="#333" stroke-width="0.12" x="396.25" y="235.69" font-size="6.3" text-anchor="middle" font-weight="normal" fill="#333" >9</text>
<rect x="385.2" y="212.39" width="22.1" height="13.48" fill="#5fa89b" stroke="#222" stroke-width="0.8" />
<text stroke="#333" stroke-width="0.12" x="396.25" y="221.37" font-size="6.3" text-anchor="middle" font-weight="normal" fill="#333" >8</text>
<rect x="419.4" y="286.53" width="21.4" height="15.17" fill="#cde1e8" stroke="#222" stroke-width="0.8" />
<text stroke="#333" stroke-width="0.12" x="430.1" y="296.35" font-size="6.3" text-anchor="middle" font-weight="normal" fill="#333" >9</text>
<rect x="419.4" y="254.52" width="21.4" height="32.02" fill="#d8cba7" stroke="#222" stroke-width="0.8" />
<text stroke="#333" stroke-width="0.12" x="430.1" y="272.76" font-size="6.3" text-anchor="middle" font-weight="normal" fill="#333" >19</text>
<rect x="419.4" y="212.39" width="21.4" height="42.12" fill="#5fa89b" stroke="#222" stroke-width="0.8" />
<text stroke="#333" stroke-width="0.12" x="430.1" y="235.69" font-size="6.3" text-anchor="middle" font-weight="normal" fill="#333" >25</text>
<line x1="373.6" y1="183.4" x2="373.6" y2="302.2" stroke="#333" stroke-width="1" />
<line x1="373.1" y1="301.7" x2="453.1" y2="301.7" stroke="#333" stroke-width="1" />
<line x1="370.8" y1="301.7" x2="373.6" y2="301.7" stroke="#333" stroke-width="0.8" />
<text stroke="#222" stroke-width="0.12" x="370" y="303.76" font-size="5.8" text-anchor="end" font-weight="bold" fill="#222" >0</text>
<line x1="370.8" y1="268" x2="373.6" y2="268" stroke="#333" stroke-width="0.8" />
<text stroke="#222" stroke-width="0.12" x="370" y="270.06" font-size="5.8" text-anchor="end" font-weight="bold" fill="#222" >20</text>
<line x1="370.8" y1="234.3" x2="373.6" y2="234.3" stroke="#333" stroke-width="0.8" />
<text stroke="#222" stroke-width="0.12" x="370" y="236.36" font-size="5.8" text-anchor="end" font-weight="bold" fill="#222" >40</text>
<line x1="370.8" y1="200.6" x2="373.6" y2="200.6" stroke="#333" stroke-width="0.8" />
<text stroke="#222" stroke-width="0.12" x="370" y="202.66" font-size="5.8" text-anchor="end" font-weight="bold" fill="#222" >60</text>
<line x1="396.2" y1="301.7" x2="396.2" y2="304.1" stroke="#333" stroke-width="0.8" />
<line x1="430.1" y1="301.7" x2="430.1" y2="304.1" stroke="#333" stroke-width="0.8" />
<text stroke="#222" stroke-width="0.12" x="388.3" y="311.7" font-size="6.2" font-weight="bold" fill="#222">IL-4<tspan font-size="4.8" dx="1.3" dy="-2.6" font-weight="normal">Low</tspan></text>
<text stroke="#222" stroke-width="0.12" x="421.6" y="311.7" font-size="6.2" font-weight="bold" fill="#222">IL-4<tspan font-size="4.8" dx="1.3" dy="-2.6" font-weight="normal">High</tspan></text>
<rect x="462.2" y="203.5" width="8.2" height="4" fill="#5fa89b" stroke="#222" stroke-width="0.7" />
<text stroke="#222" stroke-width="0.12" x="475" y="207.63" font-size="6" text-anchor="start" font-weight="bold" fill="#222" >SD</text>
<rect x="462.2" y="214.4" width="8.2" height="4" fill="#d8cba7" stroke="#222" stroke-width="0.7" />
<text stroke="#222" stroke-width="0.12" x="475" y="218.53" font-size="6" text-anchor="start" font-weight="bold" fill="#222" >PD</text>
<rect x="462.2" y="225" width="8.2" height="4" fill="#cde1e8" stroke="#222" stroke-width="0.7" />
<text stroke="#222" stroke-width="0.12" x="475" y="229.13" font-size="6" text-anchor="start" font-weight="bold" fill="#222" >PR</text>
<text stroke="#222" stroke-width="0.12" x="453.4" y="293.24" font-size="6.3" font-weight="bold" fill="#222"><tspan font-style="italic">P</tspan>&lt;0.0001</text>
<text stroke="#222" stroke-width="0.12" transform="translate(359.87,248.4) rotate(-90)" font-size="6.4" text-anchor="middle" font-weight="bold" fill="#222"  textLength="118" lengthAdjust="spacingAndGlyphs">Proportion of immunotherapy efficacy</text>
<text x="495.45" y="190.4" font-size="13.6" fill="#231f20">G</text>
<polyline points="522.4,221.3 532.7,221.3 532.7,225.8 533.5,225.8 533.5,231.2 534.3,231.2 534.3,236.6 534.6,236.6 534.6,241.2 544.6,241.2 544.6,246.3 545.7,246.3 545.7,253.3 546,253.3 546,262.5 554.2,262.5 554.2,272.3 571.5,272.3 571.5,277.6 575.2,277.6 575.2,282.2 582.3,282.2 582.3,288.1 583.4,288.1 583.4,293 593.9,293 593.9,297.6" fill="none" stroke="#5aa8a3" stroke-width="1.2"/>
<polyline points="522.4,221.3 532.4,221.3 532.4,225.8 543.7,225.8 543.7,231 547.5,231 547.5,235.5 548.6,235.5 548.6,240.9 550.2,240.9 550.2,245.5 551.5,245.5 551.5,249.7 559.6,249.7 559.6,255 569.6,255 569.6,259.5 573.5,259.5 573.5,264.2 586,264.2 586,269 587,269 587,274 594.1,274 594.1,278.6 595.5,278.6 595.5,283.5 603.7,283.5 603.7,288.4 609.6,288.4 609.6,293.1 619.9,293.1 619.9,297.6" fill="none" stroke="#cfc3a0" stroke-width="1.2"/>
<line x1="522.4" y1="212.1" x2="522.4" y2="298.5" stroke="#111" stroke-width="1.1" />
<line x1="521.9" y1="298" x2="639.2" y2="298" stroke="#111" stroke-width="1.1" />
<line x1="519.6" y1="298" x2="522.4" y2="298" stroke="#111" stroke-width="0.8" />
<text stroke="#222" stroke-width="0.12" x="519.1" y="300.13" font-size="6" text-anchor="end" font-weight="bold" fill="#222" >0</text>
<line x1="519.6" y1="259.6" x2="522.4" y2="259.6" stroke="#111" stroke-width="0.8" />
<text stroke="#222" stroke-width="0.12" x="519.1" y="261.73" font-size="6" text-anchor="end" font-weight="bold" fill="#222" >50</text>
<line x1="519.6" y1="221.2" x2="522.4" y2="221.2" stroke="#111" stroke-width="0.8" />
<text stroke="#222" stroke-width="0.12" x="519.1" y="223.33" font-size="6" text-anchor="end" font-weight="bold" fill="#222" >100</text>
<line x1="520.4" y1="278.8" x2="522.4" y2="278.8" stroke="#111" stroke-width="0.7" />
<line x1="520.4" y1="240.4" x2="522.4" y2="240.4" stroke="#111" stroke-width="0.7" />
<line x1="522.4" y1="298" x2="522.4" y2="300.8" stroke="#111" stroke-width="0.8" />
<text stroke="#222" stroke-width="0.12" x="522.4" y="305.73" font-size="6" text-anchor="middle" font-weight="bold" fill="#222" >0</text>
<line x1="561.27" y1="298" x2="561.27" y2="300.8" stroke="#111" stroke-width="0.8" />
<text stroke="#222" stroke-width="0.12" x="561.27" y="305.73" font-size="6" text-anchor="middle" font-weight="bold" fill="#222" >100</text>
<line x1="600.14" y1="298" x2="600.14" y2="300.8" stroke="#111" stroke-width="0.8" />
<text stroke="#222" stroke-width="0.12" x="600.14" y="305.73" font-size="6" text-anchor="middle" font-weight="bold" fill="#222" >200</text>
<line x1="639.01" y1="298" x2="639.01" y2="300.8" stroke="#111" stroke-width="0.8" />
<text stroke="#222" stroke-width="0.12" x="639.01" y="305.73" font-size="6" text-anchor="middle" font-weight="bold" fill="#222" >300</text>
<line x1="541.83" y1="298" x2="541.83" y2="300" stroke="#111" stroke-width="0.7" />
<line x1="580.7" y1="298" x2="580.7" y2="300" stroke="#111" stroke-width="0.7" />
<line x1="619.57" y1="298" x2="619.57" y2="300" stroke="#111" stroke-width="0.7" />
<text stroke="#222" stroke-width="0.12" x="580.7" y="313.87" font-size="6.4" text-anchor="middle" font-weight="bold" fill="#222" >Day</text>
<text stroke="#222" stroke-width="0.12" x="533" y="286.24" font-size="6.3" font-weight="bold" fill="#222"><tspan font-style="italic">P</tspan>=0.0423</text>
<text stroke="#222" stroke-width="0.12" transform="translate(507.71,261.4) rotate(-90)" font-size="6.5" text-anchor="middle" font-weight="bold" fill="#222"  textLength="104.5" lengthAdjust="spacingAndGlyphs">PFS of STAD with PD-1 antibody</text>
<line x1="608.2" y1="236.4" x2="616.3" y2="236.4" stroke="#cfc3a0" stroke-width="1.6" />
<line x1="612.2" y1="234.6" x2="612.2" y2="236.6" stroke="#111" stroke-width="0.8" />
<line x1="608.2" y1="245.2" x2="616.3" y2="245.2" stroke="#5aa8a3" stroke-width="1.6" />
<line x1="612.2" y1="243.4" x2="612.2" y2="245.4" stroke="#111" stroke-width="0.8" />
<text stroke="#222" stroke-width="0.12" x="619.6" y="239.44" font-size="6.3" fill="#222">IL-4<tspan font-size="4.8" dx="1.0" dy="-3.0">Low</tspan></text>
<text stroke="#222" stroke-width="0.12" x="619.6" y="248.24" font-size="6.3" fill="#222">IL-4<tspan font-size="4.8" dx="1.0" dy="-3.0">High</tspan></text>
<text x="338.3" y="331.6" font-size="13.6" fill="#231f20">H</text>
<circle cx="363.1" cy="444.2" r="0.62" fill="#d2c6a2"/>
<circle cx="364.46" cy="444.28" r="0.62" fill="#d2c6a2"/>
<circle cx="361.74" cy="444.55" r="0.62" fill="#d2c6a2"/>
<circle cx="365.83" cy="444.86" r="0.62" fill="#d2c6a2"/>
<circle cx="360.37" cy="445.04" r="0.62" fill="#d2c6a2"/>
<circle cx="365.48" cy="445.04" r="0.62" fill="#d2c6a2"/>
<circle cx="363.78" cy="445.27" r="0.62" fill="#d2c6a2"/>
<circle cx="362.42" cy="445.54" r="0.62" fill="#d2c6a2"/>
<circle cx="365.12" cy="445.58" r="0.62" fill="#d2c6a2"/>
<circle cx="363.38" cy="445.75" r="0.62" fill="#d2c6a2"/>
<circle cx="360.41" cy="445.8" r="0.62" fill="#d2c6a2"/>
<circle cx="362.68" cy="445.88" r="0.62" fill="#d2c6a2"/>
<circle cx="362.35" cy="445.94" r="0.62" fill="#d2c6a2"/>
<circle cx="366.07" cy="445.98" r="0.62" fill="#d2c6a2"/>
<circle cx="364.18" cy="446.05" r="0.62" fill="#d2c6a2"/>
<circle cx="362.53" cy="446.17" r="0.62" fill="#d2c6a2"/>
<circle cx="362.29" cy="446.21" r="0.62" fill="#d2c6a2"/>
<circle cx="364.71" cy="446.23" r="0.62" fill="#d2c6a2"/>
<circle cx="360.67" cy="446.31" r="0.62" fill="#d2c6a2"/>
<circle cx="365" cy="446.34" r="0.62" fill="#d2c6a2"/>
<circle cx="364.13" cy="446.36" r="0.62" fill="#d2c6a2"/>
<circle cx="362.71" cy="446.45" r="0.62" fill="#d2c6a2"/>
<circle cx="364.36" cy="446.48" r="0.62" fill="#d2c6a2"/>
<circle cx="362.49" cy="446.74" r="0.62" fill="#d2c6a2"/>
<circle cx="360.96" cy="446.77" r="0.62" fill="#d2c6a2"/>
<circle cx="362.6" cy="446.89" r="0.62" fill="#d2c6a2"/>
<circle cx="360.41" cy="446.91" r="0.62" fill="#d2c6a2"/>
<circle cx="360.62" cy="446.91" r="0.62" fill="#d2c6a2"/>
<circle cx="362.73" cy="447.06" r="0.62" fill="#d2c6a2"/>
<circle cx="365.05" cy="447.09" r="0.62" fill="#d2c6a2"/>
<circle cx="361.32" cy="447.17" r="0.62" fill="#d2c6a2"/>
<circle cx="363.1" cy="447.3" r="0.62" fill="#d2c6a2"/>
<circle cx="365.97" cy="447.45" r="0.62" fill="#d2c6a2"/>
<circle cx="365.06" cy="447.51" r="0.62" fill="#d2c6a2"/>
<circle cx="365.51" cy="447.62" r="0.62" fill="#d2c6a2"/>
<circle cx="364.15" cy="447.65" r="0.62" fill="#d2c6a2"/>
<circle cx="363.63" cy="447.81" r="0.62" fill="#d2c6a2"/>
<circle cx="363.59" cy="447.87" r="0.62" fill="#d2c6a2"/>
<circle cx="363.71" cy="447.91" r="0.62" fill="#d2c6a2"/>
<circle cx="362.89" cy="447.93" r="0.62" fill="#d2c6a2"/>
<circle cx="362.26" cy="447.94" r="0.62" fill="#d2c6a2"/>
<circle cx="361.53" cy="448.01" r="0.62" fill="#d2c6a2"/>
<circle cx="360.37" cy="448.04" r="0.62" fill="#d2c6a2"/>
<circle cx="360.49" cy="448.12" r="0.62" fill="#d2c6a2"/>
<circle cx="362.31" cy="448.44" r="0.62" fill="#d2c6a2"/>
<line x1="360.3" y1="446.66" x2="365.9" y2="446.66" stroke="#222" stroke-width="0.65" />
<circle cx="372.1" cy="440.98" r="0.62" fill="#4fa5a1"/>
<circle cx="373.46" cy="441.03" r="0.62" fill="#4fa5a1"/>
<circle cx="370.74" cy="441.4" r="0.62" fill="#4fa5a1"/>
<circle cx="371.52" cy="441.59" r="0.62" fill="#4fa5a1"/>
<circle cx="370.44" cy="441.81" r="0.62" fill="#4fa5a1"/>
<circle cx="372.87" cy="441.89" r="0.62" fill="#4fa5a1"/>
<circle cx="374.15" cy="442.07" r="0.62" fill="#4fa5a1"/>
<circle cx="374.28" cy="442.24" r="0.62" fill="#4fa5a1"/>
<circle cx="373.45" cy="442.6" r="0.62" fill="#4fa5a1"/>
<circle cx="372.78" cy="442.67" r="0.62" fill="#4fa5a1"/>
<circle cx="371.42" cy="443.32" r="0.62" fill="#4fa5a1"/>
<circle cx="370.05" cy="443.39" r="0.62" fill="#4fa5a1"/>
<circle cx="374.15" cy="443.49" r="0.62" fill="#4fa5a1"/>
<circle cx="372.78" cy="444.11" r="0.62" fill="#4fa5a1"/>
<circle cx="371.54" cy="444.17" r="0.62" fill="#4fa5a1"/>
<circle cx="371.66" cy="444.25" r="0.62" fill="#4fa5a1"/>
<circle cx="374.15" cy="444.74" r="0.62" fill="#4fa5a1"/>
<circle cx="370.05" cy="444.85" r="0.62" fill="#4fa5a1"/>
<circle cx="372.1" cy="445.65" r="0.62" fill="#4fa5a1"/>
<circle cx="373.46" cy="445.69" r="0.62" fill="#4fa5a1"/>
<circle cx="371.19" cy="445.69" r="0.62" fill="#4fa5a1"/>
<circle cx="373.51" cy="445.76" r="0.62" fill="#4fa5a1"/>
<circle cx="373.5" cy="445.87" r="0.62" fill="#4fa5a1"/>
<circle cx="372.05" cy="445.92" r="0.62" fill="#4fa5a1"/>
<circle cx="370.05" cy="446.03" r="0.62" fill="#4fa5a1"/>
<circle cx="373.76" cy="446.05" r="0.62" fill="#4fa5a1"/>
<circle cx="372.8" cy="446.23" r="0.62" fill="#4fa5a1"/>
<circle cx="372.95" cy="446.4" r="0.62" fill="#4fa5a1"/>
<circle cx="371.04" cy="446.4" r="0.62" fill="#4fa5a1"/>
<circle cx="370.91" cy="446.55" r="0.62" fill="#4fa5a1"/>
<circle cx="370.85" cy="446.58" r="0.62" fill="#4fa5a1"/>
<circle cx="374" cy="446.76" r="0.62" fill="#4fa5a1"/>
<circle cx="373.48" cy="446.8" r="0.62" fill="#4fa5a1"/>
<circle cx="373.94" cy="446.85" r="0.62" fill="#4fa5a1"/>
<circle cx="373.58" cy="446.87" r="0.62" fill="#4fa5a1"/>
<circle cx="373.5" cy="447" r="0.62" fill="#4fa5a1"/>
<circle cx="371.81" cy="447.04" r="0.62" fill="#4fa5a1"/>
<circle cx="373.32" cy="447.1" r="0.62" fill="#4fa5a1"/>
<circle cx="370.57" cy="447.16" r="0.62" fill="#4fa5a1"/>
<circle cx="372.82" cy="447.31" r="0.62" fill="#4fa5a1"/>
<circle cx="370" cy="447.42" r="0.62" fill="#4fa5a1"/>
<circle cx="374.24" cy="447.5" r="0.62" fill="#4fa5a1"/>
<circle cx="373.85" cy="447.51" r="0.62" fill="#4fa5a1"/>
<circle cx="370.56" cy="447.52" r="0.62" fill="#4fa5a1"/>
<circle cx="373.34" cy="447.6" r="0.62" fill="#4fa5a1"/>
<circle cx="373.59" cy="447.61" r="0.62" fill="#4fa5a1"/>
<circle cx="369.99" cy="447.62" r="0.62" fill="#4fa5a1"/>
<circle cx="372.4" cy="447.63" r="0.62" fill="#4fa5a1"/>
<circle cx="371.73" cy="447.75" r="0.62" fill="#4fa5a1"/>
<circle cx="372.65" cy="447.79" r="0.62" fill="#4fa5a1"/>
<circle cx="373.88" cy="447.81" r="0.62" fill="#4fa5a1"/>
<circle cx="373.13" cy="447.99" r="0.62" fill="#4fa5a1"/>
<circle cx="370.77" cy="448" r="0.62" fill="#4fa5a1"/>
<circle cx="372.35" cy="448.07" r="0.62" fill="#4fa5a1"/>
<circle cx="372.38" cy="448.14" r="0.62" fill="#4fa5a1"/>
<circle cx="369.85" cy="448.16" r="0.62" fill="#4fa5a1"/>
<circle cx="370.41" cy="448.17" r="0.62" fill="#4fa5a1"/>
<circle cx="371.45" cy="448.3" r="0.62" fill="#4fa5a1"/>
<circle cx="370.62" cy="448.57" r="0.62" fill="#4fa5a1"/>
<circle cx="370.89" cy="448.63" r="0.62" fill="#4fa5a1"/>
<circle cx="372.1" cy="449.48" r="0.62" fill="#4fa5a1"/>
<line x1="369.3" y1="446.66" x2="374.9" y2="446.66" stroke="#222" stroke-width="0.65" />
<line x1="361" y1="436" x2="373.3" y2="436" stroke="#3a3032" stroke-width="1.3" />
<text stroke="#333" stroke-width="0.12" x="367.2" y="433.22" font-size="5.7" text-anchor="middle" font-weight="normal" fill="#333" >ns</text>
<line x1="367.5" y1="452.5" x2="367.5" y2="454.9" stroke="#111" stroke-width="0.8" />
<text stroke="#222" stroke-width="0.12" x="367.5" y="460.46" font-size="4.95" text-anchor="middle" font-weight="bold" fill="#222" >Treg cell</text>
<circle cx="386.7" cy="408.17" r="0.62" fill="#d2c6a2"/>
<circle cx="386.7" cy="410.39" r="0.62" fill="#d2c6a2"/>
<circle cx="388.06" cy="410.65" r="0.62" fill="#d2c6a2"/>
<circle cx="386.7" cy="411.7" r="0.62" fill="#d2c6a2"/>
<circle cx="388.06" cy="412.3" r="0.62" fill="#d2c6a2"/>
<circle cx="386.02" cy="412.7" r="0.62" fill="#d2c6a2"/>
<circle cx="386.7" cy="415.35" r="0.62" fill="#d2c6a2"/>
<circle cx="388.06" cy="415.37" r="0.62" fill="#d2c6a2"/>
<circle cx="385.34" cy="415.96" r="0.62" fill="#d2c6a2"/>
<circle cx="386.7" cy="416.59" r="0.62" fill="#d2c6a2"/>
<circle cx="386.7" cy="417.73" r="0.62" fill="#d2c6a2"/>
<circle cx="386.7" cy="419.28" r="0.62" fill="#d2c6a2"/>
<circle cx="388.06" cy="419.38" r="0.62" fill="#d2c6a2"/>
<circle cx="385.34" cy="419.55" r="0.62" fill="#d2c6a2"/>
<circle cx="389.43" cy="419.59" r="0.62" fill="#d2c6a2"/>
<circle cx="383.97" cy="420.01" r="0.62" fill="#d2c6a2"/>
<circle cx="386.7" cy="422.19" r="0.62" fill="#d2c6a2"/>
<circle cx="388.06" cy="422.32" r="0.62" fill="#d2c6a2"/>
<circle cx="385.34" cy="422.33" r="0.62" fill="#d2c6a2"/>
<circle cx="389.43" cy="422.4" r="0.62" fill="#d2c6a2"/>
<circle cx="383.97" cy="422.66" r="0.62" fill="#d2c6a2"/>
<circle cx="388.54" cy="423.08" r="0.62" fill="#d2c6a2"/>
<circle cx="386.7" cy="423.88" r="0.62" fill="#d2c6a2"/>
<circle cx="388.06" cy="424.29" r="0.62" fill="#d2c6a2"/>
<circle cx="385.34" cy="424.57" r="0.62" fill="#d2c6a2"/>
<circle cx="389.43" cy="424.71" r="0.62" fill="#d2c6a2"/>
<circle cx="386.7" cy="425.74" r="0.62" fill="#d2c6a2"/>
<circle cx="388.06" cy="426.16" r="0.62" fill="#d2c6a2"/>
<circle cx="386.02" cy="426.81" r="0.62" fill="#d2c6a2"/>
<circle cx="387.38" cy="427.25" r="0.62" fill="#d2c6a2"/>
<circle cx="388.75" cy="427.34" r="0.62" fill="#d2c6a2"/>
<circle cx="384.65" cy="427.53" r="0.62" fill="#d2c6a2"/>
<circle cx="383.72" cy="427.69" r="0.62" fill="#d2c6a2"/>
<circle cx="386.7" cy="428.69" r="0.62" fill="#d2c6a2"/>
<circle cx="386.7" cy="429.94" r="0.62" fill="#d2c6a2"/>
<circle cx="388.06" cy="430.05" r="0.62" fill="#d2c6a2"/>
<circle cx="385.34" cy="430.25" r="0.62" fill="#d2c6a2"/>
<circle cx="389.43" cy="430.76" r="0.62" fill="#d2c6a2"/>
<circle cx="383.97" cy="430.84" r="0.62" fill="#d2c6a2"/>
<circle cx="386.7" cy="431.5" r="0.62" fill="#d2c6a2"/>
<circle cx="388.06" cy="431.67" r="0.62" fill="#d2c6a2"/>
<circle cx="386.7" cy="433.49" r="0.62" fill="#d2c6a2"/>
<circle cx="386.7" cy="436.16" r="0.62" fill="#d2c6a2"/>
<circle cx="388.06" cy="436.29" r="0.62" fill="#d2c6a2"/>
<circle cx="385.34" cy="436.41" r="0.62" fill="#d2c6a2"/>
<line x1="383.9" y1="421.11" x2="389.5" y2="421.11" stroke="#222" stroke-width="0.65" />
<circle cx="395.7" cy="404.86" r="0.62" fill="#4fa5a1"/>
<circle cx="397.06" cy="405" r="0.62" fill="#4fa5a1"/>
<circle cx="394.34" cy="405.63" r="0.62" fill="#4fa5a1"/>
<circle cx="395.7" cy="406.72" r="0.62" fill="#4fa5a1"/>
<circle cx="397.06" cy="407.55" r="0.62" fill="#4fa5a1"/>
<circle cx="395.7" cy="408.45" r="0.62" fill="#4fa5a1"/>
<circle cx="394.34" cy="408.51" r="0.62" fill="#4fa5a1"/>
<circle cx="395.7" cy="409.59" r="0.62" fill="#4fa5a1"/>
<circle cx="397.06" cy="409.61" r="0.62" fill="#4fa5a1"/>
<circle cx="396.38" cy="410.53" r="0.62" fill="#4fa5a1"/>
<circle cx="395.02" cy="410.93" r="0.62" fill="#4fa5a1"/>
<circle cx="396.38" cy="411.76" r="0.62" fill="#4fa5a1"/>
<circle cx="395.7" cy="413.03" r="0.62" fill="#4fa5a1"/>
<circle cx="397.06" cy="413.31" r="0.62" fill="#4fa5a1"/>
<circle cx="394.34" cy="413.64" r="0.62" fill="#4fa5a1"/>
<circle cx="395.29" cy="413.75" r="0.62" fill="#4fa5a1"/>
<circle cx="396.38" cy="414.57" r="0.62" fill="#4fa5a1"/>
<circle cx="397.75" cy="414.7" r="0.62" fill="#4fa5a1"/>
<circle cx="395.02" cy="415.06" r="0.62" fill="#4fa5a1"/>
<circle cx="395.7" cy="416.21" r="0.62" fill="#4fa5a1"/>
<circle cx="397.06" cy="416.39" r="0.62" fill="#4fa5a1"/>
<circle cx="394.34" cy="416.46" r="0.62" fill="#4fa5a1"/>
<circle cx="396.66" cy="416.84" r="0.62" fill="#4fa5a1"/>
<circle cx="397.14" cy="416.94" r="0.62" fill="#4fa5a1"/>
<circle cx="396.38" cy="417.27" r="0.62" fill="#4fa5a1"/>
<circle cx="395.02" cy="417.63" r="0.62" fill="#4fa5a1"/>
<circle cx="396.38" cy="418.43" r="0.62" fill="#4fa5a1"/>
<circle cx="394.34" cy="418.72" r="0.62" fill="#4fa5a1"/>
<circle cx="395.7" cy="419.69" r="0.62" fill="#4fa5a1"/>
<circle cx="397.06" cy="419.7" r="0.62" fill="#4fa5a1"/>
<circle cx="393.65" cy="419.78" r="0.62" fill="#4fa5a1"/>
<circle cx="394.97" cy="420" r="0.62" fill="#4fa5a1"/>
<circle cx="397.71" cy="420.2" r="0.62" fill="#4fa5a1"/>
<circle cx="395.7" cy="421.02" r="0.62" fill="#4fa5a1"/>
<circle cx="397.06" cy="421.37" r="0.62" fill="#4fa5a1"/>
<circle cx="394.34" cy="421.62" r="0.62" fill="#4fa5a1"/>
<circle cx="393.88" cy="421.87" r="0.62" fill="#4fa5a1"/>
<circle cx="397.11" cy="421.91" r="0.62" fill="#4fa5a1"/>
<circle cx="395.7" cy="422.34" r="0.62" fill="#4fa5a1"/>
<circle cx="394.34" cy="422.97" r="0.62" fill="#4fa5a1"/>
<circle cx="396.38" cy="423.28" r="0.62" fill="#4fa5a1"/>
<circle cx="395.7" cy="424.37" r="0.62" fill="#4fa5a1"/>
<circle cx="397.06" cy="424.62" r="0.62" fill="#4fa5a1"/>
<circle cx="394.34" cy="424.94" r="0.62" fill="#4fa5a1"/>
<circle cx="395.34" cy="425.11" r="0.62" fill="#4fa5a1"/>
<circle cx="395.22" cy="425.39" r="0.62" fill="#4fa5a1"/>
<circle cx="396.38" cy="425.57" r="0.62" fill="#4fa5a1"/>
<circle cx="397.75" cy="426.02" r="0.62" fill="#4fa5a1"/>
<circle cx="394.34" cy="426.26" r="0.62" fill="#4fa5a1"/>
<circle cx="395.7" cy="427.28" r="0.62" fill="#4fa5a1"/>
<circle cx="396.38" cy="428.3" r="0.62" fill="#4fa5a1"/>
<circle cx="395.02" cy="428.48" r="0.62" fill="#4fa5a1"/>
<circle cx="395.7" cy="429.73" r="0.62" fill="#4fa5a1"/>
<circle cx="397.06" cy="429.9" r="0.62" fill="#4fa5a1"/>
<circle cx="394.34" cy="430.14" r="0.62" fill="#4fa5a1"/>
<circle cx="395.7" cy="431.46" r="0.62" fill="#4fa5a1"/>
<circle cx="395.7" cy="432.64" r="0.62" fill="#4fa5a1"/>
<circle cx="397.06" cy="433.15" r="0.62" fill="#4fa5a1"/>
<circle cx="395.7" cy="433.77" r="0.62" fill="#4fa5a1"/>
<circle cx="395.7" cy="435.61" r="0.62" fill="#4fa5a1"/>
<circle cx="397.06" cy="435.83" r="0.62" fill="#4fa5a1"/>
<line x1="392.9" y1="420.75" x2="398.5" y2="420.75" stroke="#222" stroke-width="0.65" />
<line x1="384.6" y1="396.5" x2="396.8" y2="396.5" stroke="#3a3032" stroke-width="1.3" />
<text stroke="#333" stroke-width="0.12" x="391.1" y="393.82" font-size="5.7" text-anchor="middle" font-weight="normal" fill="#333" >ns</text>
<line x1="391.1" y1="452.5" x2="391.1" y2="454.9" stroke="#111" stroke-width="0.8" />
<text stroke="#222" stroke-width="0.12" x="391.1" y="460.46" font-size="4.95" text-anchor="middle" font-weight="bold" fill="#222" >Th cell</text>
<circle cx="410.4" cy="411.73" r="0.62" fill="#d2c6a2"/>
<circle cx="410.4" cy="413.8" r="0.62" fill="#d2c6a2"/>
<circle cx="411.76" cy="414.01" r="0.62" fill="#d2c6a2"/>
<circle cx="409.72" cy="414.87" r="0.62" fill="#d2c6a2"/>
<circle cx="410.4" cy="416.01" r="0.62" fill="#d2c6a2"/>
<circle cx="410.4" cy="420.34" r="0.62" fill="#d2c6a2"/>
<circle cx="411.08" cy="421.38" r="0.62" fill="#d2c6a2"/>
<circle cx="410.4" cy="423.59" r="0.62" fill="#d2c6a2"/>
<circle cx="411.76" cy="423.78" r="0.62" fill="#d2c6a2"/>
<circle cx="409.04" cy="423.93" r="0.62" fill="#d2c6a2"/>
<circle cx="413.13" cy="424.03" r="0.62" fill="#d2c6a2"/>
<circle cx="407.67" cy="424.47" r="0.62" fill="#d2c6a2"/>
<circle cx="410.4" cy="428.12" r="0.62" fill="#d2c6a2"/>
<circle cx="411.08" cy="429.15" r="0.62" fill="#d2c6a2"/>
<circle cx="410.4" cy="430.79" r="0.62" fill="#d2c6a2"/>
<circle cx="411.76" cy="431.02" r="0.62" fill="#d2c6a2"/>
<circle cx="409.72" cy="431.8" r="0.62" fill="#d2c6a2"/>
<circle cx="411.08" cy="432.53" r="0.62" fill="#d2c6a2"/>
<circle cx="409.72" cy="433.23" r="0.62" fill="#d2c6a2"/>
<circle cx="411.76" cy="433.46" r="0.62" fill="#d2c6a2"/>
<circle cx="410.4" cy="434.42" r="0.62" fill="#d2c6a2"/>
<circle cx="411.76" cy="435.22" r="0.62" fill="#d2c6a2"/>
<circle cx="409.72" cy="435.33" r="0.62" fill="#d2c6a2"/>
<circle cx="408.35" cy="435.73" r="0.62" fill="#d2c6a2"/>
<circle cx="413.13" cy="435.97" r="0.62" fill="#d2c6a2"/>
<circle cx="410.64" cy="436.06" r="0.62" fill="#d2c6a2"/>
<circle cx="411.76" cy="436.35" r="0.62" fill="#d2c6a2"/>
<circle cx="410.4" cy="437.54" r="0.62" fill="#d2c6a2"/>
<circle cx="411.76" cy="438.09" r="0.62" fill="#d2c6a2"/>
<circle cx="409.72" cy="438.63" r="0.62" fill="#d2c6a2"/>
<circle cx="408.35" cy="438.83" r="0.62" fill="#d2c6a2"/>
<circle cx="411.08" cy="439.42" r="0.62" fill="#d2c6a2"/>
<circle cx="409.72" cy="440.1" r="0.62" fill="#d2c6a2"/>
<circle cx="411.08" cy="440.67" r="0.62" fill="#d2c6a2"/>
<circle cx="412.45" cy="440.71" r="0.62" fill="#d2c6a2"/>
<circle cx="409.04" cy="441.2" r="0.62" fill="#d2c6a2"/>
<circle cx="407.67" cy="441.21" r="0.62" fill="#d2c6a2"/>
<circle cx="411.66" cy="441.49" r="0.62" fill="#d2c6a2"/>
<circle cx="410.4" cy="442.16" r="0.62" fill="#d2c6a2"/>
<circle cx="408.35" cy="442.24" r="0.62" fill="#d2c6a2"/>
<circle cx="413.13" cy="442.28" r="0.62" fill="#d2c6a2"/>
<circle cx="412.52" cy="442.59" r="0.62" fill="#d2c6a2"/>
<circle cx="410.4" cy="443.41" r="0.62" fill="#d2c6a2"/>
<circle cx="410.4" cy="445.81" r="0.62" fill="#d2c6a2"/>
<circle cx="411.76" cy="446.67" r="0.62" fill="#d2c6a2"/>
<line x1="407.6" y1="436.44" x2="413.2" y2="436.44" stroke="#222" stroke-width="0.65" />
<circle cx="419.4" cy="423.85" r="0.62" fill="#4fa5a1"/>
<circle cx="420.76" cy="424.01" r="0.62" fill="#4fa5a1"/>
<circle cx="418.04" cy="424.35" r="0.62" fill="#4fa5a1"/>
<circle cx="419.4" cy="425.9" r="0.62" fill="#4fa5a1"/>
<circle cx="420.76" cy="425.96" r="0.62" fill="#4fa5a1"/>
<circle cx="418.04" cy="425.97" r="0.62" fill="#4fa5a1"/>
<circle cx="420.66" cy="426.04" r="0.62" fill="#4fa5a1"/>
<circle cx="417.31" cy="426.46" r="0.62" fill="#4fa5a1"/>
<circle cx="419.61" cy="426.48" r="0.62" fill="#4fa5a1"/>
<circle cx="421.45" cy="426.93" r="0.62" fill="#4fa5a1"/>
<circle cx="418.72" cy="427.49" r="0.62" fill="#4fa5a1"/>
<circle cx="420.08" cy="427.55" r="0.62" fill="#4fa5a1"/>
<circle cx="418.04" cy="428.38" r="0.62" fill="#4fa5a1"/>
<circle cx="419.4" cy="429.17" r="0.62" fill="#4fa5a1"/>
<circle cx="419.4" cy="430.47" r="0.62" fill="#4fa5a1"/>
<circle cx="420.76" cy="430.86" r="0.62" fill="#4fa5a1"/>
<circle cx="418.04" cy="431.26" r="0.62" fill="#4fa5a1"/>
<circle cx="420.73" cy="431.3" r="0.62" fill="#4fa5a1"/>
<circle cx="417.33" cy="431.47" r="0.62" fill="#4fa5a1"/>
<circle cx="419.4" cy="431.92" r="0.62" fill="#4fa5a1"/>
<circle cx="420.08" cy="432.95" r="0.62" fill="#4fa5a1"/>
<circle cx="418.72" cy="433.1" r="0.62" fill="#4fa5a1"/>
<circle cx="420.76" cy="433.89" r="0.62" fill="#4fa5a1"/>
<circle cx="419.4" cy="434.45" r="0.62" fill="#4fa5a1"/>
<circle cx="418.04" cy="434.54" r="0.62" fill="#4fa5a1"/>
<circle cx="421.45" cy="434.82" r="0.62" fill="#4fa5a1"/>
<circle cx="419.61" cy="434.84" r="0.62" fill="#4fa5a1"/>
<circle cx="419.13" cy="435.32" r="0.62" fill="#4fa5a1"/>
<circle cx="417.35" cy="435.51" r="0.62" fill="#4fa5a1"/>
<circle cx="420.08" cy="436.26" r="0.62" fill="#4fa5a1"/>
<circle cx="418.72" cy="436.53" r="0.62" fill="#4fa5a1"/>
<circle cx="421.45" cy="436.62" r="0.62" fill="#4fa5a1"/>
<circle cx="417.35" cy="437.01" r="0.62" fill="#4fa5a1"/>
<circle cx="418.96" cy="437.13" r="0.62" fill="#4fa5a1"/>
<circle cx="419.57" cy="437.34" r="0.62" fill="#4fa5a1"/>
<circle cx="420.76" cy="437.58" r="0.62" fill="#4fa5a1"/>
<circle cx="419.97" cy="437.64" r="0.62" fill="#4fa5a1"/>
<circle cx="420.34" cy="437.86" r="0.62" fill="#4fa5a1"/>
<circle cx="418.04" cy="437.97" r="0.62" fill="#4fa5a1"/>
<circle cx="421.23" cy="438" r="0.62" fill="#4fa5a1"/>
<circle cx="419.4" cy="438.8" r="0.62" fill="#4fa5a1"/>
<circle cx="417.35" cy="438.86" r="0.62" fill="#4fa5a1"/>
<circle cx="420.76" cy="439.15" r="0.62" fill="#4fa5a1"/>
<circle cx="420.12" cy="439.56" r="0.62" fill="#4fa5a1"/>
<circle cx="418.72" cy="439.74" r="0.62" fill="#4fa5a1"/>
<circle cx="421.7" cy="439.88" r="0.62" fill="#4fa5a1"/>
<circle cx="420.16" cy="439.89" r="0.62" fill="#4fa5a1"/>
<circle cx="418.34" cy="439.94" r="0.62" fill="#4fa5a1"/>
<circle cx="417.78" cy="440.09" r="0.62" fill="#4fa5a1"/>
<circle cx="417.43" cy="440.51" r="0.62" fill="#4fa5a1"/>
<circle cx="419.4" cy="440.93" r="0.62" fill="#4fa5a1"/>
<circle cx="420.76" cy="440.97" r="0.62" fill="#4fa5a1"/>
<circle cx="418.33" cy="441.15" r="0.62" fill="#4fa5a1"/>
<circle cx="417.65" cy="441.32" r="0.62" fill="#4fa5a1"/>
<circle cx="420.24" cy="441.5" r="0.62" fill="#4fa5a1"/>
<circle cx="421.45" cy="441.86" r="0.62" fill="#4fa5a1"/>
<circle cx="420.27" cy="442.02" r="0.62" fill="#4fa5a1"/>
<circle cx="419.92" cy="442.11" r="0.62" fill="#4fa5a1"/>
<circle cx="418.72" cy="442.35" r="0.62" fill="#4fa5a1"/>
<circle cx="417.35" cy="442.58" r="0.62" fill="#4fa5a1"/>
<circle cx="419.4" cy="444.21" r="0.62" fill="#4fa5a1"/>
<line x1="416.6" y1="436.44" x2="422.2" y2="436.44" stroke="#222" stroke-width="0.65" />
<line x1="407.4" y1="400.5" x2="419.6" y2="400.5" stroke="#3a3032" stroke-width="1.3" />
<text stroke="#333" stroke-width="0.12" x="414.8" y="398.12" font-size="5.7" text-anchor="middle" font-weight="normal" fill="#333" >ns</text>
<line x1="414.8" y1="452.5" x2="414.8" y2="454.9" stroke="#111" stroke-width="0.8" />
<text stroke="#222" stroke-width="0.12" x="414.8" y="460.46" font-size="4.95" text-anchor="middle" font-weight="bold" fill="#222" >Ts cell</text>
<circle cx="433.2" cy="388.65" r="0.62" fill="#d2c6a2"/>
<circle cx="433.88" cy="389.74" r="0.62" fill="#d2c6a2"/>
<circle cx="432.52" cy="390.09" r="0.62" fill="#d2c6a2"/>
<circle cx="433.2" cy="391.2" r="0.62" fill="#d2c6a2"/>
<circle cx="434.56" cy="391.41" r="0.62" fill="#d2c6a2"/>
<circle cx="433.2" cy="392.48" r="0.62" fill="#d2c6a2"/>
<circle cx="433.2" cy="394.63" r="0.62" fill="#d2c6a2"/>
<circle cx="434.56" cy="394.72" r="0.62" fill="#d2c6a2"/>
<circle cx="433.2" cy="395.92" r="0.62" fill="#d2c6a2"/>
<circle cx="434.56" cy="396.02" r="0.62" fill="#d2c6a2"/>
<circle cx="431.84" cy="396.41" r="0.62" fill="#d2c6a2"/>
<circle cx="435.93" cy="396.53" r="0.62" fill="#d2c6a2"/>
<circle cx="430.47" cy="396.59" r="0.62" fill="#d2c6a2"/>
<circle cx="433.2" cy="397.34" r="0.62" fill="#d2c6a2"/>
<circle cx="433.2" cy="398.46" r="0.62" fill="#d2c6a2"/>
<circle cx="434.56" cy="399.1" r="0.62" fill="#d2c6a2"/>
<circle cx="433.2" cy="399.64" r="0.62" fill="#d2c6a2"/>
<circle cx="431.84" cy="399.87" r="0.62" fill="#d2c6a2"/>
<circle cx="435.93" cy="399.95" r="0.62" fill="#d2c6a2"/>
<circle cx="430.47" cy="400.08" r="0.62" fill="#d2c6a2"/>
<circle cx="431.63" cy="400.14" r="0.62" fill="#d2c6a2"/>
<circle cx="433.2" cy="400.98" r="0.62" fill="#d2c6a2"/>
<circle cx="434.56" cy="401.77" r="0.62" fill="#d2c6a2"/>
<circle cx="433.2" cy="402.29" r="0.62" fill="#d2c6a2"/>
<circle cx="431.84" cy="402.72" r="0.62" fill="#d2c6a2"/>
<circle cx="435.25" cy="402.87" r="0.62" fill="#d2c6a2"/>
<circle cx="430.47" cy="403.01" r="0.62" fill="#d2c6a2"/>
<circle cx="434.61" cy="403.15" r="0.62" fill="#d2c6a2"/>
<circle cx="436.16" cy="403.24" r="0.62" fill="#d2c6a2"/>
<circle cx="433.2" cy="403.44" r="0.62" fill="#d2c6a2"/>
<circle cx="430.67" cy="403.78" r="0.62" fill="#d2c6a2"/>
<circle cx="433.88" cy="404.34" r="0.62" fill="#d2c6a2"/>
<circle cx="432.52" cy="405.2" r="0.62" fill="#d2c6a2"/>
<circle cx="434.56" cy="405.29" r="0.62" fill="#d2c6a2"/>
<circle cx="431.15" cy="405.5" r="0.62" fill="#d2c6a2"/>
<circle cx="435.93" cy="405.55" r="0.62" fill="#d2c6a2"/>
<circle cx="432.11" cy="405.71" r="0.62" fill="#d2c6a2"/>
<circle cx="433.2" cy="407.69" r="0.62" fill="#d2c6a2"/>
<circle cx="434.56" cy="408.25" r="0.62" fill="#d2c6a2"/>
<circle cx="432.52" cy="408.68" r="0.62" fill="#d2c6a2"/>
<circle cx="433.2" cy="410.44" r="0.62" fill="#d2c6a2"/>
<circle cx="433.2" cy="412.49" r="0.62" fill="#d2c6a2"/>
<circle cx="433.88" cy="413.6" r="0.62" fill="#d2c6a2"/>
<circle cx="433.2" cy="415.45" r="0.62" fill="#d2c6a2"/>
<circle cx="433.2" cy="416.65" r="0.62" fill="#d2c6a2"/>
<line x1="430.4" y1="401.69" x2="436" y2="401.69" stroke="#222" stroke-width="0.65" />
<circle cx="442.2" cy="390.98" r="0.62" fill="#4fa5a1"/>
<circle cx="442.88" cy="391.87" r="0.62" fill="#4fa5a1"/>
<circle cx="442.2" cy="392.92" r="0.62" fill="#4fa5a1"/>
<circle cx="443.56" cy="393.61" r="0.62" fill="#4fa5a1"/>
<circle cx="440.84" cy="393.72" r="0.62" fill="#4fa5a1"/>
<circle cx="442.2" cy="395.69" r="0.62" fill="#4fa5a1"/>
<circle cx="443.56" cy="396.41" r="0.62" fill="#4fa5a1"/>
<circle cx="440.84" cy="396.46" r="0.62" fill="#4fa5a1"/>
<circle cx="442.2" cy="398.08" r="0.62" fill="#4fa5a1"/>
<circle cx="443.56" cy="398.63" r="0.62" fill="#4fa5a1"/>
<circle cx="440.84" cy="398.64" r="0.62" fill="#4fa5a1"/>
<circle cx="441.43" cy="398.68" r="0.62" fill="#4fa5a1"/>
<circle cx="442.2" cy="399.64" r="0.62" fill="#4fa5a1"/>
<circle cx="444.25" cy="399.65" r="0.62" fill="#4fa5a1"/>
<circle cx="440.84" cy="399.86" r="0.62" fill="#4fa5a1"/>
<circle cx="443.92" cy="400.15" r="0.62" fill="#4fa5a1"/>
<circle cx="441.7" cy="400.2" r="0.62" fill="#4fa5a1"/>
<circle cx="442.88" cy="400.61" r="0.62" fill="#4fa5a1"/>
<circle cx="443.32" cy="400.73" r="0.62" fill="#4fa5a1"/>
<circle cx="442.2" cy="401.69" r="0.62" fill="#4fa5a1"/>
<circle cx="443.56" cy="402.14" r="0.62" fill="#4fa5a1"/>
<circle cx="440.84" cy="402.29" r="0.62" fill="#4fa5a1"/>
<circle cx="441.03" cy="402.3" r="0.62" fill="#4fa5a1"/>
<circle cx="442.2" cy="402.88" r="0.62" fill="#4fa5a1"/>
<circle cx="443.56" cy="403.28" r="0.62" fill="#4fa5a1"/>
<circle cx="440.84" cy="403.69" r="0.62" fill="#4fa5a1"/>
<circle cx="442.8" cy="403.73" r="0.62" fill="#4fa5a1"/>
<circle cx="444.04" cy="403.84" r="0.62" fill="#4fa5a1"/>
<circle cx="442.2" cy="404.87" r="0.62" fill="#4fa5a1"/>
<circle cx="443.56" cy="404.96" r="0.62" fill="#4fa5a1"/>
<circle cx="440.84" cy="405.04" r="0.62" fill="#4fa5a1"/>
<circle cx="443.87" cy="405.15" r="0.62" fill="#4fa5a1"/>
<circle cx="441.59" cy="405.42" r="0.62" fill="#4fa5a1"/>
<circle cx="442.88" cy="405.85" r="0.62" fill="#4fa5a1"/>
<circle cx="440.15" cy="405.98" r="0.62" fill="#4fa5a1"/>
<circle cx="442.12" cy="406.12" r="0.62" fill="#4fa5a1"/>
<circle cx="442.36" cy="406.16" r="0.62" fill="#4fa5a1"/>
<circle cx="444.25" cy="406.31" r="0.62" fill="#4fa5a1"/>
<circle cx="441.48" cy="406.49" r="0.62" fill="#4fa5a1"/>
<circle cx="442.13" cy="407.02" r="0.62" fill="#4fa5a1"/>
<circle cx="443.56" cy="407.32" r="0.62" fill="#4fa5a1"/>
<circle cx="440.15" cy="407.39" r="0.62" fill="#4fa5a1"/>
<circle cx="444.34" cy="407.54" r="0.62" fill="#4fa5a1"/>
<circle cx="443.95" cy="407.76" r="0.62" fill="#4fa5a1"/>
<circle cx="441.35" cy="407.81" r="0.62" fill="#4fa5a1"/>
<circle cx="443.05" cy="407.96" r="0.62" fill="#4fa5a1"/>
<circle cx="444.26" cy="408.25" r="0.62" fill="#4fa5a1"/>
<circle cx="440.15" cy="408.54" r="0.62" fill="#4fa5a1"/>
<circle cx="442.2" cy="409.16" r="0.62" fill="#4fa5a1"/>
<circle cx="443.56" cy="409.43" r="0.62" fill="#4fa5a1"/>
<circle cx="440.84" cy="409.69" r="0.62" fill="#4fa5a1"/>
<circle cx="441.57" cy="410.2" r="0.62" fill="#4fa5a1"/>
<circle cx="442.2" cy="411.19" r="0.62" fill="#4fa5a1"/>
<circle cx="443.56" cy="411.2" r="0.62" fill="#4fa5a1"/>
<circle cx="440.84" cy="411.33" r="0.62" fill="#4fa5a1"/>
<circle cx="443.8" cy="411.4" r="0.62" fill="#4fa5a1"/>
<circle cx="443.57" cy="412.05" r="0.62" fill="#4fa5a1"/>
<circle cx="442.2" cy="413.34" r="0.62" fill="#4fa5a1"/>
<circle cx="443.56" cy="414.06" r="0.62" fill="#4fa5a1"/>
<circle cx="442.2" cy="415.82" r="0.62" fill="#4fa5a1"/>
<circle cx="443.56" cy="416.5" r="0.62" fill="#4fa5a1"/>
<line x1="439.4" y1="403.59" x2="445" y2="403.59" stroke="#222" stroke-width="0.65" />
<line x1="432.1" y1="381.1" x2="443.9" y2="381.1" stroke="#3a3032" stroke-width="1.3" />
<text stroke="#333" stroke-width="0.12" x="438.2" y="378.42" font-size="5.7" text-anchor="middle" font-weight="normal" fill="#333" >ns</text>
<line x1="437.6" y1="452.5" x2="437.6" y2="454.9" stroke="#111" stroke-width="0.8" />
<text stroke="#222" stroke-width="0.12" x="437.6" y="460.46" font-size="4.95" text-anchor="middle" font-weight="bold" fill="#222" >T cell</text>
<circle cx="456.1" cy="442.47" r="0.62" fill="#d2c6a2"/>
<circle cx="457.46" cy="443.09" r="0.62" fill="#d2c6a2"/>
<circle cx="455.42" cy="443.44" r="0.62" fill="#d2c6a2"/>
<circle cx="454.05" cy="443.66" r="0.62" fill="#d2c6a2"/>
<circle cx="458.83" cy="443.82" r="0.62" fill="#d2c6a2"/>
<circle cx="457.33" cy="443.93" r="0.62" fill="#d2c6a2"/>
<circle cx="455.18" cy="443.94" r="0.62" fill="#d2c6a2"/>
<circle cx="455.12" cy="444.04" r="0.62" fill="#d2c6a2"/>
<circle cx="456.1" cy="444.62" r="0.62" fill="#d2c6a2"/>
<circle cx="453.37" cy="444.63" r="0.62" fill="#d2c6a2"/>
<circle cx="457.68" cy="444.64" r="0.62" fill="#d2c6a2"/>
<circle cx="458.94" cy="444.86" r="0.62" fill="#d2c6a2"/>
<circle cx="454.74" cy="445.14" r="0.62" fill="#d2c6a2"/>
<circle cx="456.78" cy="445.6" r="0.62" fill="#d2c6a2"/>
<circle cx="458.15" cy="445.8" r="0.62" fill="#d2c6a2"/>
<circle cx="453.37" cy="445.82" r="0.62" fill="#d2c6a2"/>
<circle cx="454.43" cy="446" r="0.62" fill="#d2c6a2"/>
<circle cx="455.58" cy="446.43" r="0.62" fill="#d2c6a2"/>
<circle cx="454.76" cy="446.53" r="0.62" fill="#d2c6a2"/>
<circle cx="458.95" cy="446.57" r="0.62" fill="#d2c6a2"/>
<circle cx="457.46" cy="446.69" r="0.62" fill="#d2c6a2"/>
<circle cx="453.2" cy="446.72" r="0.62" fill="#d2c6a2"/>
<circle cx="458.45" cy="446.75" r="0.62" fill="#d2c6a2"/>
<circle cx="457.7" cy="446.79" r="0.62" fill="#d2c6a2"/>
<circle cx="455.09" cy="447.12" r="0.62" fill="#d2c6a2"/>
<circle cx="457.18" cy="447.34" r="0.62" fill="#d2c6a2"/>
<circle cx="456.1" cy="447.64" r="0.62" fill="#d2c6a2"/>
<circle cx="454.05" cy="447.74" r="0.62" fill="#d2c6a2"/>
<circle cx="457.46" cy="448.51" r="0.62" fill="#d2c6a2"/>
<circle cx="455.42" cy="448.56" r="0.62" fill="#d2c6a2"/>
<circle cx="458.83" cy="448.71" r="0.62" fill="#d2c6a2"/>
<circle cx="453.37" cy="448.73" r="0.62" fill="#d2c6a2"/>
<circle cx="455.32" cy="448.8" r="0.62" fill="#d2c6a2"/>
<circle cx="456.92" cy="448.87" r="0.62" fill="#d2c6a2"/>
<circle cx="455.65" cy="448.93" r="0.62" fill="#d2c6a2"/>
<circle cx="458.59" cy="448.95" r="0.62" fill="#d2c6a2"/>
<circle cx="455.85" cy="449.17" r="0.62" fill="#d2c6a2"/>
<circle cx="457.97" cy="449.19" r="0.62" fill="#d2c6a2"/>
<circle cx="456.56" cy="449.46" r="0.62" fill="#d2c6a2"/>
<circle cx="455.33" cy="449.54" r="0.62" fill="#d2c6a2"/>
<circle cx="458.9" cy="449.58" r="0.62" fill="#d2c6a2"/>
<circle cx="454.27" cy="449.59" r="0.62" fill="#d2c6a2"/>
<circle cx="458.55" cy="450.14" r="0.62" fill="#d2c6a2"/>
<circle cx="453.37" cy="450.27" r="0.62" fill="#d2c6a2"/>
<circle cx="458.99" cy="450.34" r="0.62" fill="#d2c6a2"/>
<line x1="453.3" y1="447.39" x2="458.9" y2="447.39" stroke="#222" stroke-width="0.65" />
<circle cx="465.1" cy="433.09" r="0.62" fill="#4fa5a1"/>
<circle cx="466.46" cy="433.19" r="0.62" fill="#4fa5a1"/>
<circle cx="465.1" cy="434.76" r="0.62" fill="#4fa5a1"/>
<circle cx="466.46" cy="435.23" r="0.62" fill="#4fa5a1"/>
<circle cx="463.74" cy="435.58" r="0.62" fill="#4fa5a1"/>
<circle cx="465.1" cy="435.91" r="0.62" fill="#4fa5a1"/>
<circle cx="466.46" cy="436.51" r="0.62" fill="#4fa5a1"/>
<circle cx="465.1" cy="437.32" r="0.62" fill="#4fa5a1"/>
<circle cx="463.74" cy="437.46" r="0.62" fill="#4fa5a1"/>
<circle cx="466.46" cy="438.04" r="0.62" fill="#4fa5a1"/>
<circle cx="464.42" cy="438.37" r="0.62" fill="#4fa5a1"/>
<circle cx="465.78" cy="439.03" r="0.62" fill="#4fa5a1"/>
<circle cx="467.15" cy="439.16" r="0.62" fill="#4fa5a1"/>
<circle cx="464.42" cy="439.68" r="0.62" fill="#4fa5a1"/>
<circle cx="466.46" cy="440.09" r="0.62" fill="#4fa5a1"/>
<circle cx="465.1" cy="440.74" r="0.62" fill="#4fa5a1"/>
<circle cx="463.74" cy="440.92" r="0.62" fill="#4fa5a1"/>
<circle cx="467.15" cy="441.2" r="0.62" fill="#4fa5a1"/>
<circle cx="463.59" cy="441.42" r="0.62" fill="#4fa5a1"/>
<circle cx="466.81" cy="441.45" r="0.62" fill="#4fa5a1"/>
<circle cx="465.54" cy="441.63" r="0.62" fill="#4fa5a1"/>
<circle cx="463.43" cy="441.95" r="0.62" fill="#4fa5a1"/>
<circle cx="464.42" cy="442.47" r="0.62" fill="#4fa5a1"/>
<circle cx="465.78" cy="442.82" r="0.62" fill="#4fa5a1"/>
<circle cx="465.1" cy="444.16" r="0.62" fill="#4fa5a1"/>
<circle cx="466.46" cy="444.9" r="0.62" fill="#4fa5a1"/>
<circle cx="465.1" cy="445.64" r="0.62" fill="#4fa5a1"/>
<circle cx="463.74" cy="445.7" r="0.62" fill="#4fa5a1"/>
<circle cx="466.71" cy="445.79" r="0.62" fill="#4fa5a1"/>
<circle cx="465.78" cy="446.7" r="0.62" fill="#4fa5a1"/>
<circle cx="464.42" cy="446.72" r="0.62" fill="#4fa5a1"/>
<circle cx="463.05" cy="446.76" r="0.62" fill="#4fa5a1"/>
<circle cx="467.15" cy="446.96" r="0.62" fill="#4fa5a1"/>
<circle cx="465.21" cy="447.02" r="0.62" fill="#4fa5a1"/>
<circle cx="465.03" cy="447.04" r="0.62" fill="#4fa5a1"/>
<circle cx="463.17" cy="447.08" r="0.62" fill="#4fa5a1"/>
<circle cx="466.97" cy="447.27" r="0.62" fill="#4fa5a1"/>
<circle cx="465.16" cy="447.28" r="0.62" fill="#4fa5a1"/>
<circle cx="466.78" cy="447.73" r="0.62" fill="#4fa5a1"/>
<circle cx="463.15" cy="447.79" r="0.62" fill="#4fa5a1"/>
<circle cx="465.93" cy="447.82" r="0.62" fill="#4fa5a1"/>
<circle cx="464.53" cy="447.83" r="0.62" fill="#4fa5a1"/>
<circle cx="465.27" cy="447.89" r="0.62" fill="#4fa5a1"/>
<circle cx="465.67" cy="447.9" r="0.62" fill="#4fa5a1"/>
<circle cx="466.6" cy="447.91" r="0.62" fill="#4fa5a1"/>
<circle cx="467.05" cy="448.11" r="0.62" fill="#4fa5a1"/>
<circle cx="463.57" cy="448.15" r="0.62" fill="#4fa5a1"/>
<circle cx="466.75" cy="448.25" r="0.62" fill="#4fa5a1"/>
<circle cx="463.34" cy="448.25" r="0.62" fill="#4fa5a1"/>
<circle cx="462.85" cy="448.93" r="0.62" fill="#4fa5a1"/>
<circle cx="465.1" cy="449.19" r="0.62" fill="#4fa5a1"/>
<circle cx="466.46" cy="449.44" r="0.62" fill="#4fa5a1"/>
<circle cx="464.19" cy="449.46" r="0.62" fill="#4fa5a1"/>
<circle cx="464.11" cy="449.55" r="0.62" fill="#4fa5a1"/>
<circle cx="466.35" cy="449.69" r="0.62" fill="#4fa5a1"/>
<circle cx="465.38" cy="449.87" r="0.62" fill="#4fa5a1"/>
<circle cx="464.59" cy="449.97" r="0.62" fill="#4fa5a1"/>
<circle cx="466.44" cy="450" r="0.62" fill="#4fa5a1"/>
<circle cx="463.05" cy="450.22" r="0.62" fill="#4fa5a1"/>
<circle cx="467.1" cy="450.47" r="0.62" fill="#4fa5a1"/>
<circle cx="465.1" cy="451.6" r="0.62" fill="#4fa5a1"/>
<line x1="462.3" y1="446.66" x2="467.9" y2="446.66" stroke="#222" stroke-width="0.65" />
<line x1="454.2" y1="420.9" x2="466.7" y2="420.9" stroke="#3a3032" stroke-width="1.3" />
<text stroke="#333" stroke-width="0.12" x="460.5" y="417.82" font-size="5.7" text-anchor="middle" font-weight="normal" fill="#333" >ns</text>
<line x1="460.5" y1="452.5" x2="460.5" y2="454.9" stroke="#111" stroke-width="0.8" />
<text stroke="#222" stroke-width="0.12" x="460.5" y="460.46" font-size="4.95" text-anchor="middle" font-weight="bold" fill="#222" >B cell</text>
<circle cx="479" cy="422.26" r="0.62" fill="#d2c6a2"/>
<circle cx="479" cy="425.64" r="0.62" fill="#d2c6a2"/>
<circle cx="480.36" cy="425.9" r="0.62" fill="#d2c6a2"/>
<circle cx="477.64" cy="426.09" r="0.62" fill="#d2c6a2"/>
<circle cx="481.73" cy="426.16" r="0.62" fill="#d2c6a2"/>
<circle cx="479" cy="427.05" r="0.62" fill="#d2c6a2"/>
<circle cx="480.36" cy="427.4" r="0.62" fill="#d2c6a2"/>
<circle cx="477.64" cy="427.78" r="0.62" fill="#d2c6a2"/>
<circle cx="479" cy="429.36" r="0.62" fill="#d2c6a2"/>
<circle cx="479" cy="431.12" r="0.62" fill="#d2c6a2"/>
<circle cx="480.36" cy="431.58" r="0.62" fill="#d2c6a2"/>
<circle cx="477.64" cy="431.74" r="0.62" fill="#d2c6a2"/>
<circle cx="481.73" cy="431.97" r="0.62" fill="#d2c6a2"/>
<circle cx="479" cy="432.41" r="0.62" fill="#d2c6a2"/>
<circle cx="480.36" cy="433.12" r="0.62" fill="#d2c6a2"/>
<circle cx="479" cy="433.65" r="0.62" fill="#d2c6a2"/>
<circle cx="479.68" cy="434.61" r="0.62" fill="#d2c6a2"/>
<circle cx="478.32" cy="434.69" r="0.62" fill="#d2c6a2"/>
<circle cx="479" cy="436.55" r="0.62" fill="#d2c6a2"/>
<circle cx="480.36" cy="436.62" r="0.62" fill="#d2c6a2"/>
<circle cx="477.64" cy="436.68" r="0.62" fill="#d2c6a2"/>
<circle cx="481.73" cy="436.69" r="0.62" fill="#d2c6a2"/>
<circle cx="476.27" cy="437.01" r="0.62" fill="#d2c6a2"/>
<circle cx="477.38" cy="437.1" r="0.62" fill="#d2c6a2"/>
<circle cx="479" cy="437.77" r="0.62" fill="#d2c6a2"/>
<circle cx="480.36" cy="438.19" r="0.62" fill="#d2c6a2"/>
<circle cx="477.64" cy="438.25" r="0.62" fill="#d2c6a2"/>
<circle cx="481.73" cy="438.84" r="0.62" fill="#d2c6a2"/>
<circle cx="479" cy="439.19" r="0.62" fill="#d2c6a2"/>
<circle cx="480.36" cy="439.46" r="0.62" fill="#d2c6a2"/>
<circle cx="477.64" cy="439.96" r="0.62" fill="#d2c6a2"/>
<circle cx="481.73" cy="440.26" r="0.62" fill="#d2c6a2"/>
<circle cx="479" cy="440.61" r="0.62" fill="#d2c6a2"/>
<circle cx="480.36" cy="440.99" r="0.62" fill="#d2c6a2"/>
<circle cx="479" cy="443.05" r="0.62" fill="#d2c6a2"/>
<circle cx="480.36" cy="443.23" r="0.62" fill="#d2c6a2"/>
<circle cx="477.64" cy="443.57" r="0.62" fill="#d2c6a2"/>
<circle cx="481.73" cy="443.67" r="0.62" fill="#d2c6a2"/>
<circle cx="476.27" cy="444.07" r="0.62" fill="#d2c6a2"/>
<circle cx="479" cy="444.28" r="0.62" fill="#d2c6a2"/>
<circle cx="480.36" cy="444.39" r="0.62" fill="#d2c6a2"/>
<circle cx="481.13" cy="444.43" r="0.62" fill="#d2c6a2"/>
<circle cx="479.53" cy="444.57" r="0.62" fill="#d2c6a2"/>
<circle cx="478.01" cy="444.64" r="0.62" fill="#d2c6a2"/>
<circle cx="480.82" cy="444.66" r="0.62" fill="#d2c6a2"/>
<line x1="476.2" y1="438.63" x2="481.8" y2="438.63" stroke="#222" stroke-width="0.65" />
<circle cx="488" cy="420.65" r="0.62" fill="#4fa5a1"/>
<circle cx="488" cy="422.84" r="0.62" fill="#4fa5a1"/>
<circle cx="488" cy="424.28" r="0.62" fill="#4fa5a1"/>
<circle cx="489.36" cy="424.36" r="0.62" fill="#4fa5a1"/>
<circle cx="486.64" cy="424.86" r="0.62" fill="#4fa5a1"/>
<circle cx="488" cy="425.75" r="0.62" fill="#4fa5a1"/>
<circle cx="489.36" cy="426.01" r="0.62" fill="#4fa5a1"/>
<circle cx="486.64" cy="426.38" r="0.62" fill="#4fa5a1"/>
<circle cx="488" cy="428.14" r="0.62" fill="#4fa5a1"/>
<circle cx="489.36" cy="428.57" r="0.62" fill="#4fa5a1"/>
<circle cx="486.64" cy="428.77" r="0.62" fill="#4fa5a1"/>
<circle cx="489.39" cy="428.78" r="0.62" fill="#4fa5a1"/>
<circle cx="488.68" cy="428.83" r="0.62" fill="#4fa5a1"/>
<circle cx="486.98" cy="429.19" r="0.62" fill="#4fa5a1"/>
<circle cx="488" cy="430.31" r="0.62" fill="#4fa5a1"/>
<circle cx="488.68" cy="431.39" r="0.62" fill="#4fa5a1"/>
<circle cx="487.32" cy="431.58" r="0.62" fill="#4fa5a1"/>
<circle cx="488" cy="432.64" r="0.62" fill="#4fa5a1"/>
<circle cx="489.36" cy="433.23" r="0.62" fill="#4fa5a1"/>
<circle cx="487.32" cy="433.66" r="0.62" fill="#4fa5a1"/>
<circle cx="485.95" cy="433.91" r="0.62" fill="#4fa5a1"/>
<circle cx="488.68" cy="434.33" r="0.62" fill="#4fa5a1"/>
<circle cx="490.05" cy="434.76" r="0.62" fill="#4fa5a1"/>
<circle cx="488" cy="435.61" r="0.62" fill="#4fa5a1"/>
<circle cx="489.36" cy="436.14" r="0.62" fill="#4fa5a1"/>
<circle cx="486.64" cy="436.18" r="0.62" fill="#4fa5a1"/>
<circle cx="487.02" cy="436.57" r="0.62" fill="#4fa5a1"/>
<circle cx="486.49" cy="436.81" r="0.62" fill="#4fa5a1"/>
<circle cx="488" cy="437.22" r="0.62" fill="#4fa5a1"/>
<circle cx="489.36" cy="437.55" r="0.62" fill="#4fa5a1"/>
<circle cx="488.22" cy="437.7" r="0.62" fill="#4fa5a1"/>
<circle cx="487.32" cy="438.69" r="0.62" fill="#4fa5a1"/>
<circle cx="488" cy="439.61" r="0.62" fill="#4fa5a1"/>
<circle cx="489.36" cy="440.37" r="0.62" fill="#4fa5a1"/>
<circle cx="487.32" cy="440.67" r="0.62" fill="#4fa5a1"/>
<circle cx="485.95" cy="441.07" r="0.62" fill="#4fa5a1"/>
<circle cx="490.16" cy="441.12" r="0.62" fill="#4fa5a1"/>
<circle cx="489.33" cy="441.16" r="0.62" fill="#4fa5a1"/>
<circle cx="486.47" cy="441.34" r="0.62" fill="#4fa5a1"/>
<circle cx="486.25" cy="441.42" r="0.62" fill="#4fa5a1"/>
<circle cx="488" cy="441.95" r="0.62" fill="#4fa5a1"/>
<circle cx="490.05" cy="442.23" r="0.62" fill="#4fa5a1"/>
<circle cx="487" cy="442.41" r="0.62" fill="#4fa5a1"/>
<circle cx="486.46" cy="442.67" r="0.62" fill="#4fa5a1"/>
<circle cx="486.36" cy="442.74" r="0.62" fill="#4fa5a1"/>
<circle cx="488.68" cy="442.91" r="0.62" fill="#4fa5a1"/>
<circle cx="490.05" cy="443.46" r="0.62" fill="#4fa5a1"/>
<circle cx="488" cy="444" r="0.62" fill="#4fa5a1"/>
<circle cx="486.64" cy="444.34" r="0.62" fill="#4fa5a1"/>
<circle cx="489.36" cy="444.42" r="0.62" fill="#4fa5a1"/>
<circle cx="489.07" cy="444.5" r="0.62" fill="#4fa5a1"/>
<circle cx="487.15" cy="444.96" r="0.62" fill="#4fa5a1"/>
<circle cx="488.3" cy="445.1" r="0.62" fill="#4fa5a1"/>
<circle cx="490.05" cy="445.39" r="0.62" fill="#4fa5a1"/>
<circle cx="486.64" cy="445.97" r="0.62" fill="#4fa5a1"/>
<circle cx="487.15" cy="446.11" r="0.62" fill="#4fa5a1"/>
<circle cx="488.68" cy="446.58" r="0.62" fill="#4fa5a1"/>
<circle cx="490.05" cy="447.02" r="0.62" fill="#4fa5a1"/>
<circle cx="486.64" cy="447.18" r="0.62" fill="#4fa5a1"/>
<circle cx="490.23" cy="447.21" r="0.62" fill="#4fa5a1"/>
<circle cx="488" cy="448.18" r="0.62" fill="#4fa5a1"/>
<line x1="485.2" y1="440.09" x2="490.8" y2="440.09" stroke="#222" stroke-width="0.65" />
<line x1="478" y1="411.9" x2="490.6" y2="411.9" stroke="#3a3032" stroke-width="1.3" />
<text stroke="#333" stroke-width="0.12" x="483.4" y="409.22" font-size="5.7" text-anchor="middle" font-weight="normal" fill="#333" >ns</text>
<line x1="483.4" y1="452.5" x2="483.4" y2="454.9" stroke="#111" stroke-width="0.8" />
<text stroke="#222" stroke-width="0.12" x="483.4" y="460.46" font-size="4.95" text-anchor="middle" font-weight="bold" fill="#222" >NK cell</text>
<line x1="358.1" y1="343.1" x2="358.1" y2="453" stroke="#111" stroke-width="1.1" />
<line x1="357.6" y1="452.5" x2="494.5" y2="452.5" stroke="#111" stroke-width="1.1" />
<line x1="355.3" y1="452.5" x2="358.1" y2="452.5" stroke="#111" stroke-width="0.8" />
<text stroke="#333" stroke-width="0.12" x="354.8" y="454.06" font-size="4.4" text-anchor="end" font-weight="bold" fill="#333" >0</text>
<line x1="355.3" y1="416" x2="358.1" y2="416" stroke="#111" stroke-width="0.8" />
<text stroke="#333" stroke-width="0.12" x="354.8" y="417.56" font-size="4.4" text-anchor="end" font-weight="bold" fill="#333" >50</text>
<line x1="355.3" y1="379.5" x2="358.1" y2="379.5" stroke="#111" stroke-width="0.8" />
<text stroke="#333" stroke-width="0.12" x="354.8" y="381.06" font-size="4.4" text-anchor="end" font-weight="bold" fill="#333" >100</text>
<line x1="355.3" y1="343" x2="358.1" y2="343" stroke="#111" stroke-width="0.8" />
<text stroke="#333" stroke-width="0.12" x="354.8" y="344.56" font-size="4.4" text-anchor="end" font-weight="bold" fill="#333" >150</text>
<line x1="356.1" y1="434.25" x2="358.1" y2="434.25" stroke="#111" stroke-width="0.7" />
<line x1="356.1" y1="397.75" x2="358.1" y2="397.75" stroke="#111" stroke-width="0.7" />
<line x1="356.1" y1="361.25" x2="358.1" y2="361.25" stroke="#111" stroke-width="0.7" />
<circle cx="368.5" cy="361.4" r="0.7" fill="#d2c6a2"/>
<circle cx="368.5" cy="370.3" r="0.7" fill="#4fa5a1"/>
<text stroke="#555" stroke-width="0.12" x="375.5" y="363.25" font-size="5.2" text-anchor="start" font-weight="normal" fill="#555" >PR+CR</text>
<text stroke="#555" stroke-width="0.12" x="375.5" y="372.15" font-size="5.2" text-anchor="start" font-weight="normal" fill="#555" >PD+SD</text>
<text stroke="#222" stroke-width="0.12" transform="translate(343.67,399.7) rotate(-90)" font-size="6.4" text-anchor="middle" font-weight="bold" fill="#222"  textLength="64.5" lengthAdjust="spacingAndGlyphs">Lymphocyte(%),n=106</text>
<text x="499.7" y="331.5" font-size="13.6" fill="#231f20">I</text>
<circle cx="529.2" cy="412.52" r="0.62" fill="#d2c6a2"/>
<circle cx="529.2" cy="418.85" r="0.62" fill="#d2c6a2"/>
<circle cx="529.2" cy="427.13" r="0.62" fill="#d2c6a2"/>
<circle cx="529.2" cy="429.96" r="0.62" fill="#d2c6a2"/>
<circle cx="529.2" cy="433.43" r="0.62" fill="#d2c6a2"/>
<circle cx="530.56" cy="433.56" r="0.62" fill="#d2c6a2"/>
<circle cx="527.84" cy="434.07" r="0.62" fill="#d2c6a2"/>
<circle cx="531.93" cy="434.25" r="0.62" fill="#d2c6a2"/>
<circle cx="529.2" cy="434.77" r="0.62" fill="#d2c6a2"/>
<circle cx="530.56" cy="435.25" r="0.62" fill="#d2c6a2"/>
<circle cx="527.84" cy="435.32" r="0.62" fill="#d2c6a2"/>
<circle cx="531.93" cy="435.45" r="0.62" fill="#d2c6a2"/>
<circle cx="526.47" cy="435.48" r="0.62" fill="#d2c6a2"/>
<circle cx="528.67" cy="435.72" r="0.62" fill="#d2c6a2"/>
<circle cx="529.68" cy="435.78" r="0.62" fill="#d2c6a2"/>
<circle cx="527.08" cy="435.9" r="0.62" fill="#d2c6a2"/>
<circle cx="526.47" cy="436.15" r="0.62" fill="#d2c6a2"/>
<circle cx="529.2" cy="437.05" r="0.62" fill="#d2c6a2"/>
<circle cx="530.56" cy="437.35" r="0.62" fill="#d2c6a2"/>
<circle cx="527.84" cy="437.53" r="0.62" fill="#d2c6a2"/>
<circle cx="531.93" cy="437.71" r="0.62" fill="#d2c6a2"/>
<circle cx="529.2" cy="438.33" r="0.62" fill="#d2c6a2"/>
<circle cx="530.56" cy="438.71" r="0.62" fill="#d2c6a2"/>
<circle cx="527.84" cy="438.76" r="0.62" fill="#d2c6a2"/>
<circle cx="531.93" cy="438.99" r="0.62" fill="#d2c6a2"/>
<circle cx="526.47" cy="439.04" r="0.62" fill="#d2c6a2"/>
<circle cx="528.56" cy="439.25" r="0.62" fill="#d2c6a2"/>
<circle cx="527.62" cy="439.35" r="0.62" fill="#d2c6a2"/>
<circle cx="529.2" cy="440.32" r="0.62" fill="#d2c6a2"/>
<circle cx="530.56" cy="440.57" r="0.62" fill="#d2c6a2"/>
<circle cx="527.84" cy="440.7" r="0.62" fill="#d2c6a2"/>
<circle cx="531.93" cy="440.95" r="0.62" fill="#d2c6a2"/>
<circle cx="526.47" cy="441.03" r="0.62" fill="#d2c6a2"/>
<circle cx="526.83" cy="441.33" r="0.62" fill="#d2c6a2"/>
<circle cx="529.2" cy="441.81" r="0.62" fill="#d2c6a2"/>
<circle cx="530.56" cy="441.95" r="0.62" fill="#d2c6a2"/>
<circle cx="527.84" cy="442.05" r="0.62" fill="#d2c6a2"/>
<circle cx="531.93" cy="442.11" r="0.62" fill="#d2c6a2"/>
<circle cx="532.36" cy="442.34" r="0.62" fill="#d2c6a2"/>
<circle cx="530.54" cy="442.35" r="0.62" fill="#d2c6a2"/>
<circle cx="526.47" cy="442.52" r="0.62" fill="#d2c6a2"/>
<circle cx="529.2" cy="443.1" r="0.62" fill="#d2c6a2"/>
<circle cx="530.56" cy="443.63" r="0.62" fill="#d2c6a2"/>
<circle cx="527.84" cy="443.84" r="0.62" fill="#d2c6a2"/>
<circle cx="529.2" cy="444.57" r="0.62" fill="#d2c6a2"/>
<line x1="525.6" y1="439.77" x2="532.8" y2="439.77" stroke="#333" stroke-width="0.9" />
<circle cx="542.1" cy="413.61" r="0.62" fill="#4fa5a1"/>
<circle cx="542.1" cy="419.5" r="0.62" fill="#4fa5a1"/>
<circle cx="542.1" cy="423.64" r="0.62" fill="#4fa5a1"/>
<circle cx="542.1" cy="429.31" r="0.62" fill="#4fa5a1"/>
<circle cx="542.1" cy="435.16" r="0.62" fill="#4fa5a1"/>
<circle cx="543.46" cy="435.32" r="0.62" fill="#4fa5a1"/>
<circle cx="540.74" cy="435.93" r="0.62" fill="#4fa5a1"/>
<circle cx="544.83" cy="436" r="0.62" fill="#4fa5a1"/>
<circle cx="542.1" cy="436.42" r="0.62" fill="#4fa5a1"/>
<circle cx="543.46" cy="437.23" r="0.62" fill="#4fa5a1"/>
<circle cx="541.42" cy="437.53" r="0.62" fill="#4fa5a1"/>
<circle cx="540.05" cy="438.1" r="0.62" fill="#4fa5a1"/>
<circle cx="542.78" cy="438.24" r="0.62" fill="#4fa5a1"/>
<circle cx="544.15" cy="438.41" r="0.62" fill="#4fa5a1"/>
<circle cx="541.34" cy="438.51" r="0.62" fill="#4fa5a1"/>
<circle cx="545.44" cy="438.87" r="0.62" fill="#4fa5a1"/>
<circle cx="539.37" cy="438.98" r="0.62" fill="#4fa5a1"/>
<circle cx="539.43" cy="439.18" r="0.62" fill="#4fa5a1"/>
<circle cx="542.1" cy="439.35" r="0.62" fill="#4fa5a1"/>
<circle cx="543.46" cy="439.44" r="0.62" fill="#4fa5a1"/>
<circle cx="540.74" cy="439.7" r="0.62" fill="#4fa5a1"/>
<circle cx="541.07" cy="439.78" r="0.62" fill="#4fa5a1"/>
<circle cx="544.83" cy="439.98" r="0.62" fill="#4fa5a1"/>
<circle cx="544.71" cy="440.07" r="0.62" fill="#4fa5a1"/>
<circle cx="545.28" cy="440.29" r="0.62" fill="#4fa5a1"/>
<circle cx="539.37" cy="440.3" r="0.62" fill="#4fa5a1"/>
<circle cx="542.78" cy="440.39" r="0.62" fill="#4fa5a1"/>
<circle cx="544.09" cy="440.5" r="0.62" fill="#4fa5a1"/>
<circle cx="539.97" cy="440.6" r="0.62" fill="#4fa5a1"/>
<circle cx="541.42" cy="440.91" r="0.62" fill="#4fa5a1"/>
<circle cx="542.55" cy="440.98" r="0.62" fill="#4fa5a1"/>
<circle cx="539.18" cy="441.11" r="0.62" fill="#4fa5a1"/>
<circle cx="539.13" cy="441.18" r="0.62" fill="#4fa5a1"/>
<circle cx="544.83" cy="441.37" r="0.62" fill="#4fa5a1"/>
<circle cx="544.57" cy="441.39" r="0.62" fill="#4fa5a1"/>
<circle cx="543.46" cy="441.66" r="0.62" fill="#4fa5a1"/>
<circle cx="538.72" cy="441.71" r="0.62" fill="#4fa5a1"/>
<circle cx="540.74" cy="441.8" r="0.62" fill="#4fa5a1"/>
<circle cx="539.36" cy="441.81" r="0.62" fill="#4fa5a1"/>
<circle cx="539.42" cy="441.98" r="0.62" fill="#4fa5a1"/>
<circle cx="542.1" cy="442.12" r="0.62" fill="#4fa5a1"/>
<circle cx="543.54" cy="442.28" r="0.62" fill="#4fa5a1"/>
<circle cx="542.97" cy="442.4" r="0.62" fill="#4fa5a1"/>
<circle cx="540.17" cy="442.43" r="0.62" fill="#4fa5a1"/>
<circle cx="541.42" cy="443.12" r="0.62" fill="#4fa5a1"/>
<circle cx="543.46" cy="443.42" r="0.62" fill="#4fa5a1"/>
<circle cx="540.05" cy="443.91" r="0.62" fill="#4fa5a1"/>
<circle cx="542.1" cy="444.03" r="0.62" fill="#4fa5a1"/>
<circle cx="544.83" cy="444.13" r="0.62" fill="#4fa5a1"/>
<circle cx="541.49" cy="444.33" r="0.62" fill="#4fa5a1"/>
<circle cx="545.17" cy="444.33" r="0.62" fill="#4fa5a1"/>
<circle cx="540.13" cy="444.37" r="0.62" fill="#4fa5a1"/>
<circle cx="539.16" cy="444.5" r="0.62" fill="#4fa5a1"/>
<circle cx="543.46" cy="444.7" r="0.62" fill="#4fa5a1"/>
<circle cx="543.1" cy="444.74" r="0.62" fill="#4fa5a1"/>
<circle cx="539.43" cy="445.2" r="0.62" fill="#4fa5a1"/>
<circle cx="542.48" cy="445.26" r="0.62" fill="#4fa5a1"/>
<circle cx="540.74" cy="445.48" r="0.62" fill="#4fa5a1"/>
<circle cx="544.83" cy="445.52" r="0.62" fill="#4fa5a1"/>
<circle cx="543.46" cy="445.98" r="0.62" fill="#4fa5a1"/>
<circle cx="542.1" cy="446.61" r="0.62" fill="#4fa5a1"/>
<line x1="538.5" y1="441.08" x2="545.7" y2="441.08" stroke="#333" stroke-width="0.9" />
<line x1="526.6" y1="405.9" x2="546.6" y2="405.9" stroke="#3a3032" stroke-width="1.3" />
<text stroke="#333" stroke-width="0.12" x="536.6" y="403.62" font-size="5.7" text-anchor="middle" font-weight="normal" fill="#333" >ns</text>
<line x1="535.9" y1="452.2" x2="535.9" y2="454.6" stroke="#111" stroke-width="0.8" />
<text stroke="#222" stroke-width="0.12" x="535.9" y="460.04" font-size="4.9" text-anchor="middle" font-weight="bold" fill="#222" >WBC(×10<tspan font-size="3.6" dy="-2">9</tspan><tspan dy="2">/L)</tspan></text>
<circle cx="564" cy="426.04" r="0.62" fill="#d2c6a2"/>
<circle cx="564" cy="429.31" r="0.62" fill="#d2c6a2"/>
<circle cx="564" cy="432.58" r="0.62" fill="#d2c6a2"/>
<circle cx="564" cy="438.21" r="0.62" fill="#d2c6a2"/>
<circle cx="565.36" cy="438.27" r="0.62" fill="#d2c6a2"/>
<circle cx="562.64" cy="438.5" r="0.62" fill="#d2c6a2"/>
<circle cx="566.73" cy="439.04" r="0.62" fill="#d2c6a2"/>
<circle cx="561.27" cy="439.05" r="0.62" fill="#d2c6a2"/>
<circle cx="562.33" cy="439.15" r="0.62" fill="#d2c6a2"/>
<circle cx="564" cy="439.51" r="0.62" fill="#d2c6a2"/>
<circle cx="565.36" cy="439.84" r="0.62" fill="#d2c6a2"/>
<circle cx="562.64" cy="440.29" r="0.62" fill="#d2c6a2"/>
<circle cx="566.73" cy="440.41" r="0.62" fill="#d2c6a2"/>
<circle cx="564" cy="441.46" r="0.62" fill="#d2c6a2"/>
<circle cx="565.36" cy="441.75" r="0.62" fill="#d2c6a2"/>
<circle cx="563.32" cy="442.45" r="0.62" fill="#d2c6a2"/>
<circle cx="561.95" cy="442.46" r="0.62" fill="#d2c6a2"/>
<circle cx="564.68" cy="442.66" r="0.62" fill="#d2c6a2"/>
<circle cx="566.05" cy="442.67" r="0.62" fill="#d2c6a2"/>
<circle cx="560.82" cy="442.95" r="0.62" fill="#d2c6a2"/>
<circle cx="565.08" cy="443.15" r="0.62" fill="#d2c6a2"/>
<circle cx="565.71" cy="443.24" r="0.62" fill="#d2c6a2"/>
<circle cx="564" cy="444.17" r="0.62" fill="#d2c6a2"/>
<circle cx="562.64" cy="444.24" r="0.62" fill="#d2c6a2"/>
<circle cx="565.36" cy="444.36" r="0.62" fill="#d2c6a2"/>
<circle cx="563.32" cy="445.16" r="0.62" fill="#d2c6a2"/>
<circle cx="564.68" cy="445.26" r="0.62" fill="#d2c6a2"/>
<circle cx="566.05" cy="445.32" r="0.62" fill="#d2c6a2"/>
<circle cx="561.95" cy="445.63" r="0.62" fill="#d2c6a2"/>
<circle cx="562.74" cy="445.67" r="0.62" fill="#d2c6a2"/>
<circle cx="561.68" cy="445.7" r="0.62" fill="#d2c6a2"/>
<circle cx="567.24" cy="445.74" r="0.62" fill="#d2c6a2"/>
<circle cx="562.26" cy="445.77" r="0.62" fill="#d2c6a2"/>
<circle cx="562.27" cy="445.93" r="0.62" fill="#d2c6a2"/>
<circle cx="564" cy="446.16" r="0.62" fill="#d2c6a2"/>
<circle cx="563.09" cy="446.2" r="0.62" fill="#d2c6a2"/>
<circle cx="565.36" cy="446.21" r="0.62" fill="#d2c6a2"/>
<circle cx="562.23" cy="446.59" r="0.62" fill="#d2c6a2"/>
<circle cx="562.27" cy="446.69" r="0.62" fill="#d2c6a2"/>
<circle cx="566.73" cy="446.82" r="0.62" fill="#d2c6a2"/>
<circle cx="566.89" cy="446.97" r="0.62" fill="#d2c6a2"/>
<circle cx="564" cy="447.53" r="0.62" fill="#d2c6a2"/>
<circle cx="565.36" cy="447.59" r="0.62" fill="#d2c6a2"/>
<circle cx="562.64" cy="447.98" r="0.62" fill="#d2c6a2"/>
<circle cx="561.27" cy="448.05" r="0.62" fill="#d2c6a2"/>
<line x1="560.4" y1="445.22" x2="567.6" y2="445.22" stroke="#333" stroke-width="0.9" />
<circle cx="577.3" cy="417.76" r="0.62" fill="#4fa5a1"/>
<circle cx="577.3" cy="427.78" r="0.62" fill="#4fa5a1"/>
<circle cx="577.3" cy="431.49" r="0.62" fill="#4fa5a1"/>
<circle cx="577.3" cy="438.95" r="0.62" fill="#4fa5a1"/>
<circle cx="578.66" cy="439.15" r="0.62" fill="#4fa5a1"/>
<circle cx="575.94" cy="439.37" r="0.62" fill="#4fa5a1"/>
<circle cx="580.03" cy="439.87" r="0.62" fill="#4fa5a1"/>
<circle cx="577.3" cy="440.25" r="0.62" fill="#4fa5a1"/>
<circle cx="578.66" cy="440.58" r="0.62" fill="#4fa5a1"/>
<circle cx="575.94" cy="441.12" r="0.62" fill="#4fa5a1"/>
<circle cx="580.03" cy="441.3" r="0.62" fill="#4fa5a1"/>
<circle cx="577.3" cy="441.87" r="0.62" fill="#4fa5a1"/>
<circle cx="578.66" cy="441.98" r="0.62" fill="#4fa5a1"/>
<circle cx="574.57" cy="441.98" r="0.62" fill="#4fa5a1"/>
<circle cx="574.46" cy="442.05" r="0.62" fill="#4fa5a1"/>
<circle cx="579.57" cy="442.1" r="0.62" fill="#4fa5a1"/>
<circle cx="577.54" cy="442.14" r="0.62" fill="#4fa5a1"/>
<circle cx="575.94" cy="442.3" r="0.62" fill="#4fa5a1"/>
<circle cx="574.14" cy="442.49" r="0.62" fill="#4fa5a1"/>
<circle cx="574.93" cy="442.53" r="0.62" fill="#4fa5a1"/>
<circle cx="578.36" cy="442.77" r="0.62" fill="#4fa5a1"/>
<circle cx="577.71" cy="442.8" r="0.62" fill="#4fa5a1"/>
<circle cx="575.55" cy="442.8" r="0.62" fill="#4fa5a1"/>
<circle cx="575.88" cy="442.83" r="0.62" fill="#4fa5a1"/>
<circle cx="580.21" cy="442.84" r="0.62" fill="#4fa5a1"/>
<circle cx="578.91" cy="443.28" r="0.62" fill="#4fa5a1"/>
<circle cx="578.4" cy="443.28" r="0.62" fill="#4fa5a1"/>
<circle cx="580.18" cy="443.32" r="0.62" fill="#4fa5a1"/>
<circle cx="575.48" cy="443.45" r="0.62" fill="#4fa5a1"/>
<circle cx="576.14" cy="443.51" r="0.62" fill="#4fa5a1"/>
<circle cx="579.6" cy="443.58" r="0.62" fill="#4fa5a1"/>
<circle cx="576.89" cy="443.64" r="0.62" fill="#4fa5a1"/>
<circle cx="576.94" cy="443.76" r="0.62" fill="#4fa5a1"/>
<circle cx="579.4" cy="443.83" r="0.62" fill="#4fa5a1"/>
<circle cx="580.7" cy="443.84" r="0.62" fill="#4fa5a1"/>
<circle cx="579.94" cy="443.93" r="0.62" fill="#4fa5a1"/>
<circle cx="574.57" cy="444.15" r="0.62" fill="#4fa5a1"/>
<circle cx="579.14" cy="444.19" r="0.62" fill="#4fa5a1"/>
<circle cx="576.94" cy="444.22" r="0.62" fill="#4fa5a1"/>
<circle cx="578.7" cy="444.28" r="0.62" fill="#4fa5a1"/>
<circle cx="575.43" cy="444.54" r="0.62" fill="#4fa5a1"/>
<circle cx="575.63" cy="444.67" r="0.62" fill="#4fa5a1"/>
<circle cx="575.29" cy="444.68" r="0.62" fill="#4fa5a1"/>
<circle cx="578.54" cy="444.85" r="0.62" fill="#4fa5a1"/>
<circle cx="580.03" cy="445.06" r="0.62" fill="#4fa5a1"/>
<circle cx="580.35" cy="445.07" r="0.62" fill="#4fa5a1"/>
<circle cx="579.04" cy="445.21" r="0.62" fill="#4fa5a1"/>
<circle cx="577.3" cy="445.36" r="0.62" fill="#4fa5a1"/>
<circle cx="575.94" cy="445.82" r="0.62" fill="#4fa5a1"/>
<circle cx="574.57" cy="445.96" r="0.62" fill="#4fa5a1"/>
<circle cx="575.71" cy="446.02" r="0.62" fill="#4fa5a1"/>
<circle cx="578.39" cy="446.09" r="0.62" fill="#4fa5a1"/>
<circle cx="576.28" cy="446.15" r="0.62" fill="#4fa5a1"/>
<circle cx="580.03" cy="446.34" r="0.62" fill="#4fa5a1"/>
<circle cx="579.5" cy="446.42" r="0.62" fill="#4fa5a1"/>
<circle cx="577.3" cy="446.64" r="0.62" fill="#4fa5a1"/>
<circle cx="577.2" cy="446.89" r="0.62" fill="#4fa5a1"/>
<circle cx="578.66" cy="447.64" r="0.62" fill="#4fa5a1"/>
<circle cx="575.94" cy="447.78" r="0.62" fill="#4fa5a1"/>
<circle cx="577.3" cy="448.1" r="0.62" fill="#4fa5a1"/>
<circle cx="579.35" cy="448.58" r="0.62" fill="#4fa5a1"/>
<line x1="573.7" y1="444.35" x2="580.9" y2="444.35" stroke="#333" stroke-width="0.9" />
<line x1="560.6" y1="405.1" x2="581.9" y2="405.1" stroke="#3a3032" stroke-width="1.3" />
<text stroke="#333" stroke-width="0.12" x="571.3" y="403.12" font-size="5.7" text-anchor="middle" font-weight="normal" fill="#333" >ns</text>
<line x1="571.3" y1="452.2" x2="571.3" y2="454.6" stroke="#111" stroke-width="0.8" />
<text stroke="#222" stroke-width="0.12" x="571.3" y="460.04" font-size="4.9" text-anchor="middle" font-weight="bold" fill="#222" >N(×10<tspan font-size="3.6" dy="-2">9</tspan><tspan dy="2">/L)</tspan></text>
<circle cx="599.8" cy="395.52" r="0.62" fill="#d2c6a2"/>
<circle cx="599.8" cy="402.5" r="0.62" fill="#d2c6a2"/>
<circle cx="599.8" cy="414.7" r="0.62" fill="#d2c6a2"/>
<circle cx="599.8" cy="418.41" r="0.62" fill="#d2c6a2"/>
<circle cx="599.8" cy="420.15" r="0.62" fill="#d2c6a2"/>
<circle cx="599.8" cy="422.77" r="0.62" fill="#d2c6a2"/>
<circle cx="599.8" cy="424.51" r="0.62" fill="#d2c6a2"/>
<circle cx="599.8" cy="427.35" r="0.62" fill="#d2c6a2"/>
<circle cx="599.8" cy="429.31" r="0.62" fill="#d2c6a2"/>
<circle cx="599.8" cy="431.49" r="0.62" fill="#d2c6a2"/>
<circle cx="599.8" cy="435.1" r="0.62" fill="#d2c6a2"/>
<circle cx="601.16" cy="435.22" r="0.62" fill="#d2c6a2"/>
<circle cx="600.48" cy="436.12" r="0.62" fill="#d2c6a2"/>
<circle cx="599.12" cy="436.73" r="0.62" fill="#d2c6a2"/>
<circle cx="599.8" cy="438.3" r="0.62" fill="#d2c6a2"/>
<circle cx="601.16" cy="438.38" r="0.62" fill="#d2c6a2"/>
<circle cx="598.44" cy="438.85" r="0.62" fill="#d2c6a2"/>
<circle cx="602.53" cy="439.13" r="0.62" fill="#d2c6a2"/>
<circle cx="599.8" cy="440.31" r="0.62" fill="#d2c6a2"/>
<circle cx="601.16" cy="440.47" r="0.62" fill="#d2c6a2"/>
<circle cx="598.44" cy="440.91" r="0.62" fill="#d2c6a2"/>
<circle cx="602.53" cy="441.03" r="0.62" fill="#d2c6a2"/>
<circle cx="597.07" cy="441.11" r="0.62" fill="#d2c6a2"/>
<circle cx="599.8" cy="441.55" r="0.62" fill="#d2c6a2"/>
<circle cx="601.16" cy="441.61" r="0.62" fill="#d2c6a2"/>
<circle cx="598.44" cy="442.13" r="0.62" fill="#d2c6a2"/>
<circle cx="599.8" cy="443.26" r="0.62" fill="#d2c6a2"/>
<circle cx="601.16" cy="443.86" r="0.62" fill="#d2c6a2"/>
<circle cx="599.8" cy="444.6" r="0.62" fill="#d2c6a2"/>
<circle cx="599.8" cy="445.92" r="0.62" fill="#d2c6a2"/>
<circle cx="601.16" cy="446.51" r="0.62" fill="#d2c6a2"/>
<circle cx="598.44" cy="446.77" r="0.62" fill="#d2c6a2"/>
<circle cx="599.8" cy="447.04" r="0.62" fill="#d2c6a2"/>
<circle cx="602.53" cy="447.16" r="0.62" fill="#d2c6a2"/>
<circle cx="599.8" cy="448.28" r="0.62" fill="#d2c6a2"/>
<circle cx="601.16" cy="448.31" r="0.62" fill="#d2c6a2"/>
<circle cx="598.44" cy="448.35" r="0.62" fill="#d2c6a2"/>
<circle cx="602.53" cy="448.38" r="0.62" fill="#d2c6a2"/>
<circle cx="597.07" cy="448.7" r="0.62" fill="#d2c6a2"/>
<circle cx="598.1" cy="448.77" r="0.62" fill="#d2c6a2"/>
<circle cx="598.38" cy="448.79" r="0.62" fill="#d2c6a2"/>
<circle cx="596.98" cy="449.04" r="0.62" fill="#d2c6a2"/>
<circle cx="599.8" cy="449.84" r="0.62" fill="#d2c6a2"/>
<circle cx="601.16" cy="449.87" r="0.62" fill="#d2c6a2"/>
<circle cx="598.44" cy="450.62" r="0.62" fill="#d2c6a2"/>
<line x1="596.2" y1="440.21" x2="603.4" y2="440.21" stroke="#333" stroke-width="0.9" />
<circle cx="612.4" cy="348" r="0.62" fill="#4fa5a1"/>
<circle cx="612.4" cy="362.82" r="0.62" fill="#4fa5a1"/>
<circle cx="612.4" cy="380.91" r="0.62" fill="#4fa5a1"/>
<circle cx="612.4" cy="392.03" r="0.62" fill="#4fa5a1"/>
<circle cx="612.4" cy="408.16" r="0.62" fill="#4fa5a1"/>
<circle cx="612.4" cy="416.23" r="0.62" fill="#4fa5a1"/>
<circle cx="612.4" cy="419.28" r="0.62" fill="#4fa5a1"/>
<circle cx="612.4" cy="425.17" r="0.62" fill="#4fa5a1"/>
<circle cx="612.4" cy="429.53" r="0.62" fill="#4fa5a1"/>
<circle cx="612.4" cy="433.67" r="0.62" fill="#4fa5a1"/>
<circle cx="612.4" cy="442.56" r="0.62" fill="#4fa5a1"/>
<circle cx="613.76" cy="442.73" r="0.62" fill="#4fa5a1"/>
<circle cx="611.04" cy="442.94" r="0.62" fill="#4fa5a1"/>
<circle cx="615.13" cy="443.32" r="0.62" fill="#4fa5a1"/>
<circle cx="609.67" cy="443.39" r="0.62" fill="#4fa5a1"/>
<circle cx="613.08" cy="443.66" r="0.62" fill="#4fa5a1"/>
<circle cx="611.72" cy="444" r="0.62" fill="#4fa5a1"/>
<circle cx="611.46" cy="444.19" r="0.62" fill="#4fa5a1"/>
<circle cx="614.45" cy="444.23" r="0.62" fill="#4fa5a1"/>
<circle cx="610.35" cy="444.6" r="0.62" fill="#4fa5a1"/>
<circle cx="611.31" cy="444.77" r="0.62" fill="#4fa5a1"/>
<circle cx="612.4" cy="445.29" r="0.62" fill="#4fa5a1"/>
<circle cx="613.76" cy="445.47" r="0.62" fill="#4fa5a1"/>
<circle cx="615.13" cy="445.67" r="0.62" fill="#4fa5a1"/>
<circle cx="609.67" cy="445.7" r="0.62" fill="#4fa5a1"/>
<circle cx="611.04" cy="445.92" r="0.62" fill="#4fa5a1"/>
<circle cx="612.12" cy="446.03" r="0.62" fill="#4fa5a1"/>
<circle cx="613.47" cy="446.13" r="0.62" fill="#4fa5a1"/>
<circle cx="615.31" cy="446.41" r="0.62" fill="#4fa5a1"/>
<circle cx="614.56" cy="446.66" r="0.62" fill="#4fa5a1"/>
<circle cx="612.9" cy="446.78" r="0.62" fill="#4fa5a1"/>
<circle cx="610.35" cy="446.84" r="0.62" fill="#4fa5a1"/>
<circle cx="611.46" cy="446.93" r="0.62" fill="#4fa5a1"/>
<circle cx="610.16" cy="446.94" r="0.62" fill="#4fa5a1"/>
<circle cx="613.02" cy="447.13" r="0.62" fill="#4fa5a1"/>
<circle cx="609.43" cy="447.21" r="0.62" fill="#4fa5a1"/>
<circle cx="609.36" cy="447.54" r="0.62" fill="#4fa5a1"/>
<circle cx="614.45" cy="447.81" r="0.62" fill="#4fa5a1"/>
<circle cx="612.4" cy="448.58" r="0.62" fill="#4fa5a1"/>
<circle cx="611.04" cy="448.64" r="0.62" fill="#4fa5a1"/>
<circle cx="613.08" cy="449.47" r="0.62" fill="#4fa5a1"/>
<circle cx="611.72" cy="449.67" r="0.62" fill="#4fa5a1"/>
<circle cx="614.45" cy="449.68" r="0.62" fill="#4fa5a1"/>
<circle cx="610.35" cy="449.72" r="0.62" fill="#4fa5a1"/>
<circle cx="613.37" cy="449.84" r="0.62" fill="#4fa5a1"/>
<circle cx="610.12" cy="449.86" r="0.62" fill="#4fa5a1"/>
<circle cx="614.77" cy="449.95" r="0.62" fill="#4fa5a1"/>
<circle cx="613.55" cy="450.14" r="0.62" fill="#4fa5a1"/>
<circle cx="612.57" cy="450.3" r="0.62" fill="#4fa5a1"/>
<circle cx="615.37" cy="450.39" r="0.62" fill="#4fa5a1"/>
<circle cx="609.9" cy="450.43" r="0.62" fill="#4fa5a1"/>
<circle cx="611.11" cy="450.43" r="0.62" fill="#4fa5a1"/>
<circle cx="612.45" cy="450.5" r="0.62" fill="#4fa5a1"/>
<circle cx="615.56" cy="450.52" r="0.62" fill="#4fa5a1"/>
<circle cx="609.54" cy="450.55" r="0.62" fill="#4fa5a1"/>
<circle cx="613.09" cy="450.62" r="0.62" fill="#4fa5a1"/>
<circle cx="614.45" cy="451.09" r="0.62" fill="#4fa5a1"/>
<circle cx="611.72" cy="451.52" r="0.62" fill="#4fa5a1"/>
<circle cx="610.35" cy="451.58" r="0.62" fill="#4fa5a1"/>
<circle cx="615.25" cy="451.59" r="0.62" fill="#4fa5a1"/>
<circle cx="613.08" cy="451.77" r="0.62" fill="#4fa5a1"/>
<line x1="608.8" y1="446.97" x2="616" y2="446.97" stroke="#333" stroke-width="0.9" />
<line x1="595.8" y1="344.7" x2="616.6" y2="344.7" stroke="#3a3032" stroke-width="1.3" />
<text stroke="#333" stroke-width="0.12" x="606.1" y="342.62" font-size="5.7" text-anchor="middle" font-weight="normal" fill="#333" >ns</text>
<line x1="606.3" y1="452.2" x2="606.3" y2="454.6" stroke="#111" stroke-width="0.8" />
<text stroke="#222" stroke-width="0.12" x="606.3" y="460.04" font-size="4.9" text-anchor="middle" font-weight="bold" fill="#222" >CRP(mg/L)</text>
<circle cx="635.5" cy="451.57" r="0.62" fill="#d2c6a2"/>
<circle cx="636.86" cy="451.61" r="0.62" fill="#d2c6a2"/>
<circle cx="634.14" cy="451.61" r="0.62" fill="#d2c6a2"/>
<circle cx="638.23" cy="451.62" r="0.62" fill="#d2c6a2"/>
<circle cx="632.77" cy="451.69" r="0.62" fill="#d2c6a2"/>
<circle cx="633.08" cy="451.77" r="0.62" fill="#d2c6a2"/>
<circle cx="636.89" cy="451.77" r="0.62" fill="#d2c6a2"/>
<circle cx="636.8" cy="451.77" r="0.62" fill="#d2c6a2"/>
<circle cx="634.55" cy="451.77" r="0.62" fill="#d2c6a2"/>
<circle cx="635.74" cy="451.79" r="0.62" fill="#d2c6a2"/>
<circle cx="638.46" cy="451.8" r="0.62" fill="#d2c6a2"/>
<circle cx="635.28" cy="451.82" r="0.62" fill="#d2c6a2"/>
<circle cx="635.2" cy="451.85" r="0.62" fill="#d2c6a2"/>
<circle cx="635.94" cy="451.85" r="0.62" fill="#d2c6a2"/>
<circle cx="632.32" cy="451.87" r="0.62" fill="#d2c6a2"/>
<circle cx="637.6" cy="451.9" r="0.62" fill="#d2c6a2"/>
<circle cx="632.45" cy="451.91" r="0.62" fill="#d2c6a2"/>
<circle cx="638.76" cy="451.92" r="0.62" fill="#d2c6a2"/>
<circle cx="638.7" cy="451.92" r="0.62" fill="#d2c6a2"/>
<circle cx="637.67" cy="451.95" r="0.62" fill="#d2c6a2"/>
<circle cx="638.19" cy="451.96" r="0.62" fill="#d2c6a2"/>
<circle cx="636.29" cy="451.99" r="0.62" fill="#d2c6a2"/>
<circle cx="634.18" cy="451.99" r="0.62" fill="#d2c6a2"/>
<circle cx="636.21" cy="452.01" r="0.62" fill="#d2c6a2"/>
<circle cx="636.72" cy="452.01" r="0.62" fill="#d2c6a2"/>
<circle cx="633.06" cy="452.01" r="0.62" fill="#d2c6a2"/>
<circle cx="637.37" cy="452.02" r="0.62" fill="#d2c6a2"/>
<circle cx="634.17" cy="452.02" r="0.62" fill="#d2c6a2"/>
<circle cx="635.59" cy="452.02" r="0.62" fill="#d2c6a2"/>
<circle cx="633.91" cy="452.03" r="0.62" fill="#d2c6a2"/>
<circle cx="634.02" cy="452.03" r="0.62" fill="#d2c6a2"/>
<circle cx="638.06" cy="452.04" r="0.62" fill="#d2c6a2"/>
<circle cx="637.34" cy="452.04" r="0.62" fill="#d2c6a2"/>
<circle cx="632.53" cy="452.04" r="0.62" fill="#d2c6a2"/>
<circle cx="637.34" cy="452.06" r="0.62" fill="#d2c6a2"/>
<circle cx="638.39" cy="452.07" r="0.62" fill="#d2c6a2"/>
<circle cx="636.89" cy="452.08" r="0.62" fill="#d2c6a2"/>
<circle cx="636.81" cy="452.08" r="0.62" fill="#d2c6a2"/>
<circle cx="633.9" cy="452.09" r="0.62" fill="#d2c6a2"/>
<circle cx="636.85" cy="452.09" r="0.62" fill="#d2c6a2"/>
<circle cx="634.68" cy="452.09" r="0.62" fill="#d2c6a2"/>
<circle cx="638.38" cy="452.1" r="0.62" fill="#d2c6a2"/>
<circle cx="636.89" cy="452.11" r="0.62" fill="#d2c6a2"/>
<circle cx="634.29" cy="452.12" r="0.62" fill="#d2c6a2"/>
<circle cx="638.11" cy="452.16" r="0.62" fill="#d2c6a2"/>
<circle cx="647.8" cy="447.4" r="0.62" fill="#4fa5a1"/>
<circle cx="647.8" cy="448.93" r="0.62" fill="#4fa5a1"/>
<circle cx="647.8" cy="450.24" r="0.62" fill="#4fa5a1"/>
<circle cx="649.16" cy="450.26" r="0.62" fill="#4fa5a1"/>
<circle cx="646.44" cy="450.28" r="0.62" fill="#4fa5a1"/>
<circle cx="650.53" cy="450.45" r="0.62" fill="#4fa5a1"/>
<circle cx="645.07" cy="450.53" r="0.62" fill="#4fa5a1"/>
<circle cx="649.66" cy="450.54" r="0.62" fill="#4fa5a1"/>
<circle cx="645.77" cy="450.74" r="0.62" fill="#4fa5a1"/>
<circle cx="645.86" cy="450.74" r="0.62" fill="#4fa5a1"/>
<circle cx="644.49" cy="450.79" r="0.62" fill="#4fa5a1"/>
<circle cx="649.64" cy="450.8" r="0.62" fill="#4fa5a1"/>
<circle cx="644.98" cy="450.82" r="0.62" fill="#4fa5a1"/>
<circle cx="646.27" cy="450.87" r="0.62" fill="#4fa5a1"/>
<circle cx="649.41" cy="450.88" r="0.62" fill="#4fa5a1"/>
<circle cx="646.48" cy="450.96" r="0.62" fill="#4fa5a1"/>
<circle cx="646.34" cy="450.96" r="0.62" fill="#4fa5a1"/>
<circle cx="644.85" cy="450.97" r="0.62" fill="#4fa5a1"/>
<circle cx="644.74" cy="451" r="0.62" fill="#4fa5a1"/>
<circle cx="648.29" cy="451.03" r="0.62" fill="#4fa5a1"/>
<circle cx="645.34" cy="451.11" r="0.62" fill="#4fa5a1"/>
<circle cx="650.95" cy="451.12" r="0.62" fill="#4fa5a1"/>
<circle cx="644.58" cy="451.14" r="0.62" fill="#4fa5a1"/>
<circle cx="646.55" cy="451.17" r="0.62" fill="#4fa5a1"/>
<circle cx="645.65" cy="451.18" r="0.62" fill="#4fa5a1"/>
<circle cx="650.51" cy="451.2" r="0.62" fill="#4fa5a1"/>
<circle cx="649.51" cy="451.2" r="0.62" fill="#4fa5a1"/>
<circle cx="645.16" cy="451.21" r="0.62" fill="#4fa5a1"/>
<circle cx="644.78" cy="451.26" r="0.62" fill="#4fa5a1"/>
<circle cx="644.96" cy="451.27" r="0.62" fill="#4fa5a1"/>
<circle cx="649.43" cy="451.34" r="0.62" fill="#4fa5a1"/>
<circle cx="649.48" cy="451.36" r="0.62" fill="#4fa5a1"/>
<circle cx="648.7" cy="451.37" r="0.62" fill="#4fa5a1"/>
<circle cx="647.73" cy="451.44" r="0.62" fill="#4fa5a1"/>
<circle cx="647.55" cy="451.55" r="0.62" fill="#4fa5a1"/>
<circle cx="648.45" cy="451.64" r="0.62" fill="#4fa5a1"/>
<circle cx="645.14" cy="451.78" r="0.62" fill="#4fa5a1"/>
<circle cx="649.8" cy="451.8" r="0.62" fill="#4fa5a1"/>
<circle cx="649.69" cy="451.8" r="0.62" fill="#4fa5a1"/>
<circle cx="649.03" cy="451.8" r="0.62" fill="#4fa5a1"/>
<circle cx="646" cy="451.8" r="0.62" fill="#4fa5a1"/>
<circle cx="645.86" cy="451.84" r="0.62" fill="#4fa5a1"/>
<circle cx="651.07" cy="451.85" r="0.62" fill="#4fa5a1"/>
<circle cx="650.85" cy="451.85" r="0.62" fill="#4fa5a1"/>
<circle cx="649.49" cy="451.85" r="0.62" fill="#4fa5a1"/>
<circle cx="649.74" cy="451.87" r="0.62" fill="#4fa5a1"/>
<circle cx="647.52" cy="451.87" r="0.62" fill="#4fa5a1"/>
<circle cx="650.36" cy="451.88" r="0.62" fill="#4fa5a1"/>
<circle cx="649.1" cy="451.91" r="0.62" fill="#4fa5a1"/>
<circle cx="647.38" cy="451.92" r="0.62" fill="#4fa5a1"/>
<circle cx="649.03" cy="451.96" r="0.62" fill="#4fa5a1"/>
<circle cx="644.94" cy="451.97" r="0.62" fill="#4fa5a1"/>
<circle cx="647.08" cy="451.97" r="0.62" fill="#4fa5a1"/>
<circle cx="650.14" cy="451.99" r="0.62" fill="#4fa5a1"/>
<circle cx="647.66" cy="451.99" r="0.62" fill="#4fa5a1"/>
<circle cx="648.18" cy="451.99" r="0.62" fill="#4fa5a1"/>
<circle cx="648.21" cy="452.02" r="0.62" fill="#4fa5a1"/>
<circle cx="650.81" cy="452.04" r="0.62" fill="#4fa5a1"/>
<circle cx="645.77" cy="452.04" r="0.62" fill="#4fa5a1"/>
<circle cx="649.03" cy="452.05" r="0.62" fill="#4fa5a1"/>
<circle cx="647.45" cy="452.06" r="0.62" fill="#4fa5a1"/>
<line x1="631" y1="442.3" x2="651" y2="442.3" stroke="#3a3032" stroke-width="1.3" />
<text stroke="#333" stroke-width="0.12" x="641" y="439.82" font-size="5.7" text-anchor="middle" font-weight="normal" fill="#333" >ns</text>
<line x1="641.4" y1="452.2" x2="641.4" y2="454.6" stroke="#111" stroke-width="0.8" />
<text stroke="#222" stroke-width="0.12" x="641.4" y="460.04" font-size="4.9" text-anchor="middle" font-weight="bold" fill="#222" >PCT(ng/ml)</text>
<line x1="520.3" y1="343.4" x2="520.3" y2="452.7" stroke="#111" stroke-width="1.1" />
<line x1="519.8" y1="452.2" x2="656.8" y2="452.2" stroke="#111" stroke-width="1.1" />
<line x1="517.5" y1="452.2" x2="520.3" y2="452.2" stroke="#111" stroke-width="0.8" />
<text stroke="#333" stroke-width="0.12" x="517" y="453.83" font-size="4.6" text-anchor="end" font-weight="bold" fill="#333" >0</text>
<line x1="517.5" y1="430.4" x2="520.3" y2="430.4" stroke="#111" stroke-width="0.8" />
<text stroke="#333" stroke-width="0.12" x="517" y="432.03" font-size="4.6" text-anchor="end" font-weight="bold" fill="#333" >10</text>
<line x1="517.5" y1="408.6" x2="520.3" y2="408.6" stroke="#111" stroke-width="0.8" />
<text stroke="#333" stroke-width="0.12" x="517" y="410.23" font-size="4.6" text-anchor="end" font-weight="bold" fill="#333" >20</text>
<line x1="517.5" y1="386.8" x2="520.3" y2="386.8" stroke="#111" stroke-width="0.8" />
<text stroke="#333" stroke-width="0.12" x="517" y="388.43" font-size="4.6" text-anchor="end" font-weight="bold" fill="#333" >30</text>
<line x1="517.5" y1="365" x2="520.3" y2="365" stroke="#111" stroke-width="0.8" />
<text stroke="#333" stroke-width="0.12" x="517" y="366.63" font-size="4.6" text-anchor="end" font-weight="bold" fill="#333" >40</text>
<line x1="517.5" y1="343.2" x2="520.3" y2="343.2" stroke="#111" stroke-width="0.8" />
<text stroke="#333" stroke-width="0.12" x="517" y="344.83" font-size="4.6" text-anchor="end" font-weight="bold" fill="#333" >50</text>
<circle cx="530.6" cy="361.8" r="0.7" fill="#d2c6a2"/>
<circle cx="530.6" cy="370.6" r="0.7" fill="#4fa5a1"/>
<text stroke="#555" stroke-width="0.12" x="538.1" y="363.54" font-size="4.9" text-anchor="start" font-weight="normal" fill="#555" >IL-4 Low</text>
<text stroke="#555" stroke-width="0.12" x="538.1" y="372.14" font-size="4.9" text-anchor="start" font-weight="normal" fill="#555" >IL-4 High</text>
<text stroke="#222" stroke-width="0.12" transform="translate(509.17,397.7) rotate(-90)" font-size="6.4" text-anchor="middle" font-weight="bold" fill="#222"  textLength="94" lengthAdjust="spacingAndGlyphs">Inflammatory indicators, n=106</text>
</svg>
</body></html>
